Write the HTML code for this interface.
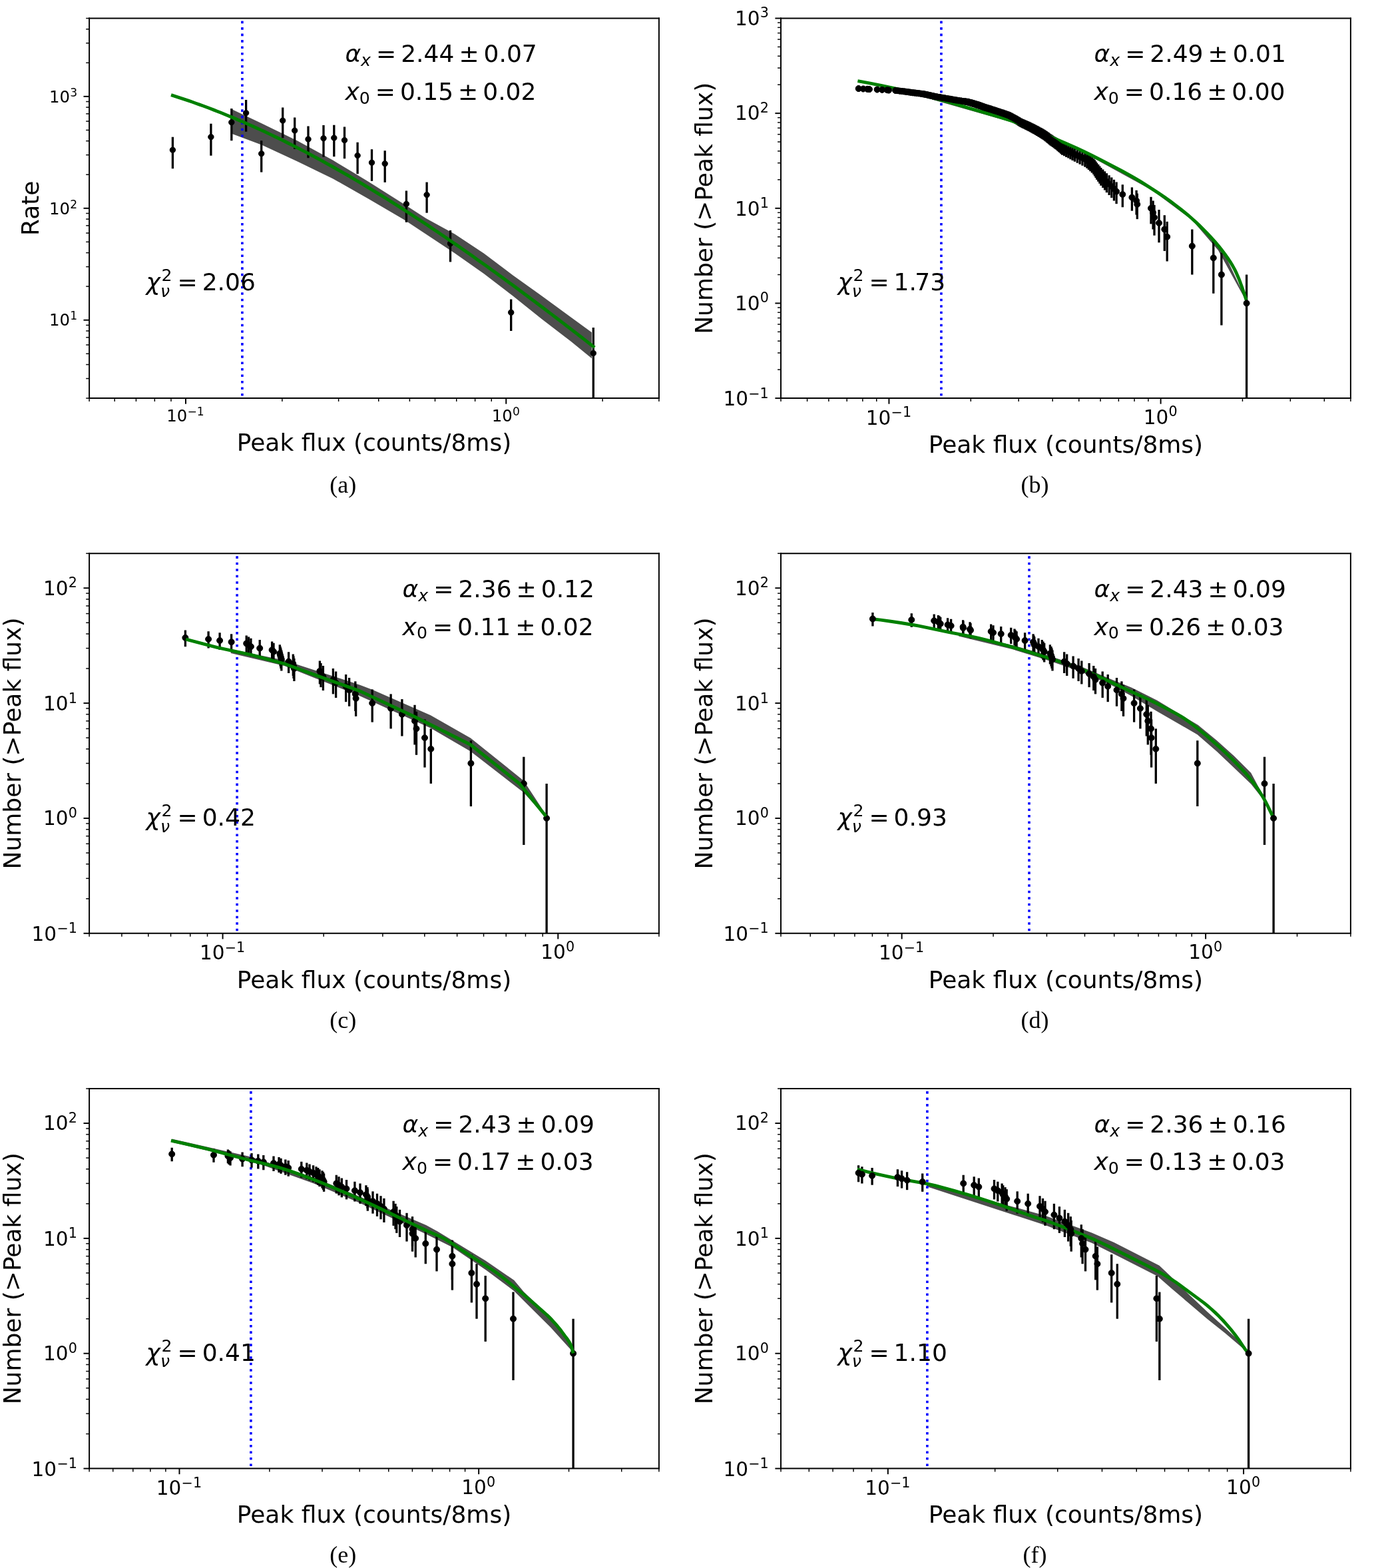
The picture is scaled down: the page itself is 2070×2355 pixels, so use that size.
<!DOCTYPE html>
<html><head><meta charset="utf-8"><title>Figure</title><style>html,body{margin:0;padding:0;background:#fff;}svg{display:block;}</style></head><body>
<svg xmlns:xlink="http://www.w3.org/1999/xlink" width="2070" height="2355" viewBox="0 0 2070 2355" xmlns="http://www.w3.org/2000/svg" version="1.1">
 
 <defs>
  <style type="text/css">*{stroke-linejoin: round; stroke-linecap: butt}</style>
 </defs>
 <g id="figure_1">
  <g id="patch_1">
   <path d="M 0 2355 
L 2070 2355 
L 2070 0 
L 0 0 
z
" style="fill: #ffffff"/>
  </g>
  <g id="axes_1">
   <g id="patch_2">
    <path d="M 134.1 598.1 
L 989.9 598.1 
L 989.9 27.5 
L 134.1 27.5 
z
" style="fill: #ffffff"/>
   </g>
   <g id="patch_3">
    <path d="M 348 163.9 
L 393.4 185.6 
L 446.8 211.4 
L 500.3 240.8 
L 553.7 272.9 
L 607.1 306.7 
L 640 328 
L 683.4 351.7 
L 726.8 380.6 
L 770.2 413.2 
L 813.6 444.3 
L 857 476.1 
L 888.9 499.3 
L 888.9 538.3 
L 857 512.3 
L 813.6 479 
L 770.2 444.3 
L 726.8 411 
L 683.4 380.6 
L 640 351.7 
L 607.1 329.9 
L 553.7 298.7 
L 500.3 268.4 
L 446.8 242.6 
L 393.4 217.7 
L 348 200.8 
z
" clip-path="url(#p03a6a565fb)" style="fill: #4d4d4d"/>
   </g>
   <g id="line2d_1">
    <path d="M 363.9 27.5 
L 363.9 598.1 
" clip-path="url(#p03a6a565fb)" style="fill: none; stroke-dasharray: 3.57,5.91; stroke-dashoffset: 5.365; stroke: #0000ff; stroke-width: 3.57"/>
   </g>
   <g id="matplotlib.axis_1">
    <g id="xtick_1">
     <g id="line2d_2">
      
      <g>
       <path d="M 278.98 598.10 L 278.98 606.70" style="stroke: #000000; stroke-width: 1.97"/>
      </g>
     </g>
     <g id="text_1">
      <!-- $\mathdefault{10^{-1}}$ -->
      <g transform="translate(250.311641 633.840187)">
       <text>
        <tspan x="0" y="-0.5625" style="font-size: 24.4px; font-family: 'DejaVu Sans'">1</tspan>
        <tspan x="15.508118" y="-0.5625" style="font-size: 24.4px; font-family: 'DejaVu Sans'">0</tspan>
        <tspan x="31.245923" y="-9.75" style="font-size: 17.08px; font-family: 'DejaVu Sans'">−</tspan>
        <tspan x="45.542432" y="-9.75" style="font-size: 17.08px; font-family: 'DejaVu Sans'">1</tspan>
       </text>
      </g>
     </g>
    </g>
    <g id="xtick_2">
     <g id="line2d_3">
      <g>
       <path d="M 760.27 598.10 L 760.27 606.70" style="stroke: #000000; stroke-width: 1.97"/>
      </g>
     </g>
     <g id="text_2">
      <!-- $\mathdefault{10^{0}}$ -->
      <g transform="translate(738.796033 633.840187)">
       <text>
        <tspan x="0" y="-0.34375" style="font-size: 24.4px; font-family: 'DejaVu Sans'">1</tspan>
        <tspan x="15.508118" y="-0.34375" style="font-size: 24.4px; font-family: 'DejaVu Sans'">0</tspan>
        <tspan x="31.245923" y="-9.53125" style="font-size: 17.08px; font-family: 'DejaVu Sans'">0</tspan>
       </text>
      </g>
     </g>
    </g>
    <g id="xtick_3">
     <g id="line2d_4">
      
      <g>
       <path d="M 134.10 598.10 L 134.10 603.00" style="stroke: #000000; stroke-width: 1.48"/>
      </g>
     </g>
    </g>
    <g id="xtick_4">
     <g id="line2d_5">
      <g>
       <path d="M 172.21 598.10 L 172.21 603.00" style="stroke: #000000; stroke-width: 1.48"/>
      </g>
     </g>
    </g>
    <g id="xtick_5">
     <g id="line2d_6">
      <g>
       <path d="M 204.43 598.10 L 204.43 603.00" style="stroke: #000000; stroke-width: 1.48"/>
      </g>
     </g>
    </g>
    <g id="xtick_6">
     <g id="line2d_7">
      <g>
       <path d="M 232.34 598.10 L 232.34 603.00" style="stroke: #000000; stroke-width: 1.48"/>
      </g>
     </g>
    </g>
    <g id="xtick_7">
     <g id="line2d_8">
      <g>
       <path d="M 256.96 598.10 L 256.96 603.00" style="stroke: #000000; stroke-width: 1.48"/>
      </g>
     </g>
    </g>
    <g id="xtick_8">
     <g id="line2d_9">
      <g>
       <path d="M 423.86 598.10 L 423.86 603.00" style="stroke: #000000; stroke-width: 1.48"/>
      </g>
     </g>
    </g>
    <g id="xtick_9">
     <g id="line2d_10">
      <g>
       <path d="M 508.61 598.10 L 508.61 603.00" style="stroke: #000000; stroke-width: 1.48"/>
      </g>
     </g>
    </g>
    <g id="xtick_10">
     <g id="line2d_11">
      <g>
       <path d="M 568.74 598.10 L 568.74 603.00" style="stroke: #000000; stroke-width: 1.48"/>
      </g>
     </g>
    </g>
    <g id="xtick_11">
     <g id="line2d_12">
      <g>
       <path d="M 615.39 598.10 L 615.39 603.00" style="stroke: #000000; stroke-width: 1.48"/>
      </g>
     </g>
    </g>
    <g id="xtick_12">
     <g id="line2d_13">
      <g>
       <path d="M 653.50 598.10 L 653.50 603.00" style="stroke: #000000; stroke-width: 1.48"/>
      </g>
     </g>
    </g>
    <g id="xtick_13">
     <g id="line2d_14">
      <g>
       <path d="M 685.72 598.10 L 685.72 603.00" style="stroke: #000000; stroke-width: 1.48"/>
      </g>
     </g>
    </g>
    <g id="xtick_14">
     <g id="line2d_15">
      <g>
       <path d="M 713.63 598.10 L 713.63 603.00" style="stroke: #000000; stroke-width: 1.48"/>
      </g>
     </g>
    </g>
    <g id="xtick_15">
     <g id="line2d_16">
      <g>
       <path d="M 738.25 598.10 L 738.25 603.00" style="stroke: #000000; stroke-width: 1.48"/>
      </g>
     </g>
    </g>
    <g id="xtick_16">
     <g id="line2d_17">
      <g>
       <path d="M 905.15 598.10 L 905.15 603.00" style="stroke: #000000; stroke-width: 1.48"/>
      </g>
     </g>
    </g>
    <g id="xtick_17">
     <g id="line2d_18">
      <g>
       <path d="M 989.90 598.10 L 989.90 603.00" style="stroke: #000000; stroke-width: 1.48"/>
      </g>
     </g>
    </g>
    <g id="text_3">
     <text style="font-size: 36px; font-family: 'DejaVu Sans'; text-anchor: middle" x="562" y="677.369" transform="rotate(-0 562 677.369)">Peak flux (counts/8ms)</text>
    </g>
   </g>
   <g id="matplotlib.axis_2">
    <g id="ytick_1">
     <g id="line2d_19">
      
      <g>
       <path d="M 134.10 480.73 L 125.50 480.73" style="stroke: #000000; stroke-width: 1.97"/>
      </g>
     </g>
     <g id="text_4">
      <!-- $\mathdefault{10^{1}}$ -->
      <g transform="translate(73.956 489.995366)">
       <text>
        <tspan x="0" y="-0.5625" style="font-size: 24.4px; font-family: 'DejaVu Sans'">1</tspan>
        <tspan x="15.508118" y="-0.5625" style="font-size: 24.4px; font-family: 'DejaVu Sans'">0</tspan>
        <tspan x="31.245923" y="-9.75" style="font-size: 17.08px; font-family: 'DejaVu Sans'">1</tspan>
       </text>
      </g>
     </g>
    </g>
    <g id="ytick_2">
     <g id="line2d_20">
      <g>
       <path d="M 134.10 312.80 L 125.50 312.80" style="stroke: #000000; stroke-width: 1.97"/>
      </g>
     </g>
     <g id="text_5">
      <!-- $\mathdefault{10^{2}}$ -->
      <g transform="translate(73.956 322.070094)">
       <text>
        <tspan x="0" y="-0.34375" style="font-size: 24.4px; font-family: 'DejaVu Sans'">1</tspan>
        <tspan x="15.508118" y="-0.34375" style="font-size: 24.4px; font-family: 'DejaVu Sans'">0</tspan>
        <tspan x="31.245923" y="-9.53125" style="font-size: 17.08px; font-family: 'DejaVu Sans'">2</tspan>
       </text>
      </g>
     </g>
    </g>
    <g id="ytick_3">
     <g id="line2d_21">
      <g>
       <path d="M 134.10 144.87 L 125.50 144.87" style="stroke: #000000; stroke-width: 1.97"/>
      </g>
     </g>
     <g id="text_6">
      <!-- $\mathdefault{10^{3}}$ -->
      <g transform="translate(73.956 154.144822)">
       <text>
        <tspan x="0" y="-0.34375" style="font-size: 24.4px; font-family: 'DejaVu Sans'">1</tspan>
        <tspan x="15.508118" y="-0.34375" style="font-size: 24.4px; font-family: 'DejaVu Sans'">0</tspan>
        <tspan x="31.245923" y="-9.53125" style="font-size: 17.08px; font-family: 'DejaVu Sans'">3</tspan>
       </text>
      </g>
     </g>
    </g>
    <g id="ytick_4">
     <g id="line2d_22">
      
      <g>
       <path d="M 134.10 598.10 L 129.20 598.10" style="stroke: #000000; stroke-width: 1.48"/>
      </g>
     </g>
    </g>
    <g id="ytick_5">
     <g id="line2d_23">
      <g>
       <path d="M 134.10 568.53 L 129.20 568.53" style="stroke: #000000; stroke-width: 1.48"/>
      </g>
     </g>
    </g>
    <g id="ytick_6">
     <g id="line2d_24">
      <g>
       <path d="M 134.10 547.55 L 129.20 547.55" style="stroke: #000000; stroke-width: 1.48"/>
      </g>
     </g>
    </g>
    <g id="ytick_7">
     <g id="line2d_25">
      <g>
       <path d="M 134.10 531.28 L 129.20 531.28" style="stroke: #000000; stroke-width: 1.48"/>
      </g>
     </g>
    </g>
    <g id="ytick_8">
     <g id="line2d_26">
      <g>
       <path d="M 134.10 517.98 L 129.20 517.98" style="stroke: #000000; stroke-width: 1.48"/>
      </g>
     </g>
    </g>
    <g id="ytick_9">
     <g id="line2d_27">
      <g>
       <path d="M 134.10 506.74 L 129.20 506.74" style="stroke: #000000; stroke-width: 1.48"/>
      </g>
     </g>
    </g>
    <g id="ytick_10">
     <g id="line2d_28">
      <g>
       <path d="M 134.10 497.00 L 129.20 497.00" style="stroke: #000000; stroke-width: 1.48"/>
      </g>
     </g>
    </g>
    <g id="ytick_11">
     <g id="line2d_29">
      <g>
       <path d="M 134.10 488.41 L 129.20 488.41" style="stroke: #000000; stroke-width: 1.48"/>
      </g>
     </g>
    </g>
    <g id="ytick_12">
     <g id="line2d_30">
      <g>
       <path d="M 134.10 430.17 L 129.20 430.17" style="stroke: #000000; stroke-width: 1.48"/>
      </g>
     </g>
    </g>
    <g id="ytick_13">
     <g id="line2d_31">
      <g>
       <path d="M 134.10 400.60 L 129.20 400.60" style="stroke: #000000; stroke-width: 1.48"/>
      </g>
     </g>
    </g>
    <g id="ytick_14">
     <g id="line2d_32">
      <g>
       <path d="M 134.10 379.62 L 129.20 379.62" style="stroke: #000000; stroke-width: 1.48"/>
      </g>
     </g>
    </g>
    <g id="ytick_15">
     <g id="line2d_33">
      <g>
       <path d="M 134.10 363.35 L 129.20 363.35" style="stroke: #000000; stroke-width: 1.48"/>
      </g>
     </g>
    </g>
    <g id="ytick_16">
     <g id="line2d_34">
      <g>
       <path d="M 134.10 350.05 L 129.20 350.05" style="stroke: #000000; stroke-width: 1.48"/>
      </g>
     </g>
    </g>
    <g id="ytick_17">
     <g id="line2d_35">
      <g>
       <path d="M 134.10 338.81 L 129.20 338.81" style="stroke: #000000; stroke-width: 1.48"/>
      </g>
     </g>
    </g>
    <g id="ytick_18">
     <g id="line2d_36">
      <g>
       <path d="M 134.10 329.07 L 129.20 329.07" style="stroke: #000000; stroke-width: 1.48"/>
      </g>
     </g>
    </g>
    <g id="ytick_19">
     <g id="line2d_37">
      <g>
       <path d="M 134.10 320.48 L 129.20 320.48" style="stroke: #000000; stroke-width: 1.48"/>
      </g>
     </g>
    </g>
    <g id="ytick_20">
     <g id="line2d_38">
      <g>
       <path d="M 134.10 262.25 L 129.20 262.25" style="stroke: #000000; stroke-width: 1.48"/>
      </g>
     </g>
    </g>
    <g id="ytick_21">
     <g id="line2d_39">
      <g>
       <path d="M 134.10 232.68 L 129.20 232.68" style="stroke: #000000; stroke-width: 1.48"/>
      </g>
     </g>
    </g>
    <g id="ytick_22">
     <g id="line2d_40">
      <g>
       <path d="M 134.10 211.70 L 129.20 211.70" style="stroke: #000000; stroke-width: 1.48"/>
      </g>
     </g>
    </g>
    <g id="ytick_23">
     <g id="line2d_41">
      <g>
       <path d="M 134.10 195.43 L 129.20 195.43" style="stroke: #000000; stroke-width: 1.48"/>
      </g>
     </g>
    </g>
    <g id="ytick_24">
     <g id="line2d_42">
      <g>
       <path d="M 134.10 182.13 L 129.20 182.13" style="stroke: #000000; stroke-width: 1.48"/>
      </g>
     </g>
    </g>
    <g id="ytick_25">
     <g id="line2d_43">
      <g>
       <path d="M 134.10 170.89 L 129.20 170.89" style="stroke: #000000; stroke-width: 1.48"/>
      </g>
     </g>
    </g>
    <g id="ytick_26">
     <g id="line2d_44">
      <g>
       <path d="M 134.10 161.15 L 129.20 161.15" style="stroke: #000000; stroke-width: 1.48"/>
      </g>
     </g>
    </g>
    <g id="ytick_27">
     <g id="line2d_45">
      <g>
       <path d="M 134.10 152.56 L 129.20 152.56" style="stroke: #000000; stroke-width: 1.48"/>
      </g>
     </g>
    </g>
    <g id="ytick_28">
     <g id="line2d_46">
      <g>
       <path d="M 134.10 94.32 L 129.20 94.32" style="stroke: #000000; stroke-width: 1.48"/>
      </g>
     </g>
    </g>
    <g id="ytick_29">
     <g id="line2d_47">
      <g>
       <path d="M 134.10 64.75 L 129.20 64.75" style="stroke: #000000; stroke-width: 1.48"/>
      </g>
     </g>
    </g>
    <g id="ytick_30">
     <g id="line2d_48">
      <g>
       <path d="M 134.10 43.77 L 129.20 43.77" style="stroke: #000000; stroke-width: 1.48"/>
      </g>
     </g>
    </g>
    <g id="ytick_31">
     <g id="line2d_49">
      <g>
       <path d="M 134.10 27.50 L 129.20 27.50" style="stroke: #000000; stroke-width: 1.48"/>
      </g>
     </g>
    </g>
    <g id="text_7">
     <text style="font-size: 36px; font-family: 'DejaVu Sans'; text-anchor: middle" x="57.869125" y="312.8" transform="rotate(-90 57.869125 312.8)">Rate</text>
    </g>
   </g>
   <g id="LineCollection_1">
    <path d="M 259.4 253.2 
L 259.4 205.7 
" clip-path="url(#p03a6a565fb)" style="fill: none; stroke: #000000; stroke-width: 3.3"/>
    <path d="M 316.9 233.8 
L 316.9 185.7 
" clip-path="url(#p03a6a565fb)" style="fill: none; stroke: #000000; stroke-width: 3.3"/>
    <path d="M 347.8 211.2 
L 347.8 163.1 
" clip-path="url(#p03a6a565fb)" style="fill: none; stroke: #000000; stroke-width: 3.3"/>
    <path d="M 369.6 197.7 
L 369.6 150 
" clip-path="url(#p03a6a565fb)" style="fill: none; stroke: #000000; stroke-width: 3.3"/>
    <path d="M 392.7 258.6 
L 392.7 211.2 
" clip-path="url(#p03a6a565fb)" style="fill: none; stroke: #000000; stroke-width: 3.3"/>
    <path d="M 424.7 207.2 
L 424.7 161.5 
" clip-path="url(#p03a6a565fb)" style="fill: none; stroke: #000000; stroke-width: 3.3"/>
    <path d="M 442.7 223.8 
L 442.7 176.5 
" clip-path="url(#p03a6a565fb)" style="fill: none; stroke: #000000; stroke-width: 3.3"/>
    <path d="M 463 237.2 
L 463 189.5 
" clip-path="url(#p03a6a565fb)" style="fill: none; stroke: #000000; stroke-width: 3.3"/>
    <path d="M 486 235.8 
L 486 188.1 
" clip-path="url(#p03a6a565fb)" style="fill: none; stroke: #000000; stroke-width: 3.3"/>
    <path d="M 501.8 235.2 
L 501.8 187.7 
" clip-path="url(#p03a6a565fb)" style="fill: none; stroke: #000000; stroke-width: 3.3"/>
    <path d="M 517.5 238.2 
L 517.5 190.5 
" clip-path="url(#p03a6a565fb)" style="fill: none; stroke: #000000; stroke-width: 3.3"/>
    <path d="M 537.1 261.2 
L 537.1 213.8 
" clip-path="url(#p03a6a565fb)" style="fill: none; stroke: #000000; stroke-width: 3.3"/>
    <path d="M 558.5 271.9 
L 558.5 224.2 
" clip-path="url(#p03a6a565fb)" style="fill: none; stroke: #000000; stroke-width: 3.3"/>
    <path d="M 578.2 273.9 
L 578.2 226.2 
" clip-path="url(#p03a6a565fb)" style="fill: none; stroke: #000000; stroke-width: 3.3"/>
    <path d="M 610.4 333.8 
L 610.4 286.5 
" clip-path="url(#p03a6a565fb)" style="fill: none; stroke: #000000; stroke-width: 3.3"/>
    <path d="M 641.1 319.7 
L 641.1 273.6 
" clip-path="url(#p03a6a565fb)" style="fill: none; stroke: #000000; stroke-width: 3.3"/>
    <path d="M 676.5 393.4 
L 676.5 345.9 
" clip-path="url(#p03a6a565fb)" style="fill: none; stroke: #000000; stroke-width: 3.3"/>
    <path d="M 767.7 496.9 
L 767.7 449.4 
" clip-path="url(#p03a6a565fb)" style="fill: none; stroke: #000000; stroke-width: 3.3"/>
    <path d="M 891.3 610 
L 891.3 492 
" clip-path="url(#p03a6a565fb)" style="fill: none; stroke: #000000; stroke-width: 3.3"/>
   </g>
   <g id="line2d_50">
    
    <g clip-path="url(#p03a6a565fb)">
     <circle cx="259.40" cy="225.20" r="4.200" style="stroke: #000000"/>
     <circle cx="316.90" cy="205.70" r="4.200" style="stroke: #000000"/>
     <circle cx="347.80" cy="183.70" r="4.200" style="stroke: #000000"/>
     <circle cx="369.60" cy="169.70" r="4.200" style="stroke: #000000"/>
     <circle cx="392.70" cy="230.80" r="4.200" style="stroke: #000000"/>
     <circle cx="424.70" cy="181.10" r="4.200" style="stroke: #000000"/>
     <circle cx="442.70" cy="196.10" r="4.200" style="stroke: #000000"/>
     <circle cx="463.00" cy="209.10" r="4.200" style="stroke: #000000"/>
     <circle cx="486.00" cy="207.70" r="4.200" style="stroke: #000000"/>
     <circle cx="501.80" cy="207.10" r="4.200" style="stroke: #000000"/>
     <circle cx="517.50" cy="210.60" r="4.200" style="stroke: #000000"/>
     <circle cx="537.10" cy="233.60" r="4.200" style="stroke: #000000"/>
     <circle cx="558.50" cy="244.20" r="4.200" style="stroke: #000000"/>
     <circle cx="578.20" cy="245.80" r="4.200" style="stroke: #000000"/>
     <circle cx="610.40" cy="306.40" r="4.200" style="stroke: #000000"/>
     <circle cx="641.10" cy="292.60" r="4.200" style="stroke: #000000"/>
     <circle cx="676.50" cy="365.80" r="4.200" style="stroke: #000000"/>
     <circle cx="767.70" cy="469.30" r="4.200" style="stroke: #000000"/>
     <circle cx="891.30" cy="530.50" r="4.200" style="stroke: #000000"/>
    </g>
   </g>
   <g id="line2d_51">
    <path d="M 257 142.634455 
L 262.346218 144.327232 
L 267.692437 146.053907 
L 273.038655 147.81426 
L 278.384874 149.608073 
L 283.731092 151.435125 
L 289.077311 153.295196 
L 294.423529 155.188068 
L 299.769748 157.113521 
L 305.115966 159.071334 
L 310.462185 161.061288 
L 315.808403 163.083164 
L 321.154622 165.136742 
L 326.50084 167.221801 
L 331.847059 169.338124 
L 337.193277 171.485489 
L 342.539496 173.663677 
L 347.885714 175.872469 
L 353.231933 178.111645 
L 358.578151 180.380986 
L 363.92437 182.68027 
L 369.270588 185.00928 
L 374.616807 187.367795 
L 379.963025 189.755596 
L 385.309244 192.172462 
L 390.655462 194.618175 
L 396.001681 197.092515 
L 401.347899 199.595262 
L 406.694118 202.126196 
L 412.040336 204.685098 
L 417.386555 207.271747 
L 422.732773 209.885926 
L 428.078992 212.527413 
L 433.42521 215.195989 
L 438.771429 217.891434 
L 444.117647 220.61353 
L 449.463866 223.362055 
L 454.810084 226.136791 
L 460.156303 228.937518 
L 465.502521 231.764015 
L 470.848739 234.616065 
L 476.194958 237.493446 
L 481.541176 240.39594 
L 486.887395 243.323326 
L 492.233613 246.275384 
L 497.579832 249.251897 
L 502.92605 252.252642 
L 508.272269 255.277402 
L 513.618487 258.325956 
L 518.964706 261.398084 
L 524.310924 264.493568 
L 529.657143 267.612187 
L 535.003361 270.753721 
L 540.34958 273.917952 
L 545.695798 277.104658 
L 551.042017 280.313622 
L 556.388235 283.544622 
L 561.734454 286.79744 
L 567.080672 290.071856 
L 572.426891 293.36765 
L 577.773109 296.684602 
L 583.119328 300.022493 
L 588.465546 303.381103 
L 593.811765 306.760212 
L 599.157983 310.159601 
L 604.504202 313.579051 
L 609.85042 317.01834 
L 615.196639 320.477251 
L 620.542857 323.955563 
L 625.889076 327.453056 
L 631.235294 330.969512 
L 636.581513 334.504709 
L 641.927731 338.058429 
L 647.27395 341.630452 
L 652.620168 345.220558 
L 657.966387 348.828528 
L 663.312605 352.454142 
L 668.658824 356.09718 
L 674.005042 359.757423 
L 679.351261 363.43465 
L 684.697479 367.128643 
L 690.043697 370.839182 
L 695.389916 374.566047 
L 700.736134 378.309018 
L 706.082353 382.067875 
L 711.428571 385.8424 
L 716.77479 389.632372 
L 722.121008 393.437572 
L 727.467227 397.25778 
L 732.813445 401.092777 
L 738.159664 404.942342 
L 743.505882 408.806256 
L 748.852101 412.6843 
L 754.198319 416.576254 
L 759.544538 420.481897 
L 764.890756 424.401012 
L 770.236975 428.333377 
L 775.583193 432.278773 
L 780.929412 436.236981 
L 786.27563 440.207781 
L 791.621849 444.190953 
L 796.968067 448.186277 
L 802.314286 452.193535 
L 807.660504 456.212505 
L 813.006723 460.24297 
L 818.352941 464.284708 
L 823.69916 468.337501 
L 829.045378 472.401128 
L 834.391597 476.47537 
L 839.737815 480.560008 
L 845.084034 484.654821 
L 850.430252 488.75959 
L 855.776471 492.874096 
L 861.122689 496.998118 
L 866.468908 501.131438 
L 871.815126 505.273835 
L 877.161345 509.425089 
L 882.507563 513.584982 
L 887.853782 517.753293 
L 893.2 521.929803 
" clip-path="url(#p03a6a565fb)" style="fill: none; stroke: #008000; stroke-width: 4.9"/>
   </g>
   <g id="patch_4">
    <path d="M 134.1 598.1 
L 134.1 27.5 
" style="fill: none; stroke: #000000; stroke-width: 1.97; stroke-linejoin: miter; stroke-linecap: square"/>
   </g>
   <g id="patch_5">
    <path d="M 989.9 598.1 
L 989.9 27.5 
" style="fill: none; stroke: #000000; stroke-width: 1.97; stroke-linejoin: miter; stroke-linecap: square"/>
   </g>
   <g id="patch_6">
    <path d="M 134.1 598.1 
L 989.9 598.1 
" style="fill: none; stroke: #000000; stroke-width: 1.97; stroke-linejoin: miter; stroke-linecap: square"/>
   </g>
   <g id="patch_7">
    <path d="M 134.1 27.5 
L 989.9 27.5 
" style="fill: none; stroke: #000000; stroke-width: 1.97; stroke-linejoin: miter; stroke-linecap: square"/>
   </g>
  </g>
  <g id="axes_2">
   <g id="patch_8">
    <path d="M 1173 598.1 
L 2028.9 598.1 
L 2028.9 27.5 
L 1173 27.5 
z
" style="fill: #ffffff"/>
   </g>
   <g id="patch_9">
    <path d="M 1400 145.5 
L 1520.4 179.8 
L 1625.7 224.3 
L 1731 281.9 
L 1790.8 326.5 
L 1837.7 377.6 
L 1872.1 450.6 
L 1872.1 452.6 
L 1830 376 
L 1790.8 330.5 
L 1731 285.9 
L 1625.7 228.3 
L 1520.4 183.8 
L 1400 149.5 
z
" clip-path="url(#p9560903c2c)" style="fill: #4d4d4d"/>
   </g>
   <g id="line2d_52">
    <path d="M 1413.95 27.5 
L 1413.95 598.1 
" clip-path="url(#p9560903c2c)" style="fill: none; stroke-dasharray: 3.57,5.91; stroke-dashoffset: 5.365; stroke: #0000ff; stroke-width: 3.57"/>
   </g>
   <g id="matplotlib.axis_3">
    <g id="xtick_18">
     <g id="line2d_53">
      <g>
       <path d="M 1335.43 598.10 L 1335.43 606.70" style="stroke: #000000; stroke-width: 1.97"/>
      </g>
     </g>
     <g id="text_8">
      <!-- $\mathdefault{10^{-1}}$ -->
      <g transform="translate(1300.765478 637.715391)">
       <text>
        <tspan x="0" y="-0.203125" style="font-size: 29.5px; font-family: 'DejaVu Sans'">1</tspan>
        <tspan x="18.768799" y="-0.203125" style="font-size: 29.5px; font-family: 'DejaVu Sans'">0</tspan>
        <tspan x="37.824707" y="-11.6875" style="font-size: 20.65px; font-family: 'DejaVu Sans'">−</tspan>
        <tspan x="55.127148" y="-11.6875" style="font-size: 20.65px; font-family: 'DejaVu Sans'">1</tspan>
       </text>
      </g>
     </g>
    </g>
    <g id="xtick_19">
     <g id="line2d_54">
      <g>
       <path d="M 1743.60 598.10 L 1743.60 606.70" style="stroke: #000000; stroke-width: 1.97"/>
      </g>
     </g>
     <g id="text_9">
      <!-- $\mathdefault{10^{0}}$ -->
      <g transform="translate(1717.64 637.715391)">
       <text>
        <tspan x="0" y="-0.929688" style="font-size: 29.5px; font-family: 'DejaVu Sans'">1</tspan>
        <tspan x="18.768799" y="-0.929688" style="font-size: 29.5px; font-family: 'DejaVu Sans'">0</tspan>
        <tspan x="37.824707" y="-12.414062" style="font-size: 20.65px; font-family: 'DejaVu Sans'">0</tspan>
       </text>
      </g>
     </g>
    </g>
    <g id="xtick_20">
     <g id="line2d_55">
      <g>
       <path d="M 1173.00 598.10 L 1173.00 603.00" style="stroke: #000000; stroke-width: 1.48"/>
      </g>
     </g>
    </g>
    <g id="xtick_21">
     <g id="line2d_56">
      <g>
       <path d="M 1212.56 598.10 L 1212.56 603.00" style="stroke: #000000; stroke-width: 1.48"/>
      </g>
     </g>
    </g>
    <g id="xtick_22">
     <g id="line2d_57">
      <g>
       <path d="M 1244.88 598.10 L 1244.88 603.00" style="stroke: #000000; stroke-width: 1.48"/>
      </g>
     </g>
    </g>
    <g id="xtick_23">
     <g id="line2d_58">
      <g>
       <path d="M 1272.20 598.10 L 1272.20 603.00" style="stroke: #000000; stroke-width: 1.48"/>
      </g>
     </g>
    </g>
    <g id="xtick_24">
     <g id="line2d_59">
      <g>
       <path d="M 1295.87 598.10 L 1295.87 603.00" style="stroke: #000000; stroke-width: 1.48"/>
      </g>
     </g>
    </g>
    <g id="xtick_25">
     <g id="line2d_60">
      <g>
       <path d="M 1316.75 598.10 L 1316.75 603.00" style="stroke: #000000; stroke-width: 1.48"/>
      </g>
     </g>
    </g>
    <g id="xtick_26">
     <g id="line2d_61">
      <g>
       <path d="M 1458.30 598.10 L 1458.30 603.00" style="stroke: #000000; stroke-width: 1.48"/>
      </g>
     </g>
    </g>
    <g id="xtick_27">
     <g id="line2d_62">
      <g>
       <path d="M 1530.18 598.10 L 1530.18 603.00" style="stroke: #000000; stroke-width: 1.48"/>
      </g>
     </g>
    </g>
    <g id="xtick_28">
     <g id="line2d_63">
      <g>
       <path d="M 1581.17 598.10 L 1581.17 603.00" style="stroke: #000000; stroke-width: 1.48"/>
      </g>
     </g>
    </g>
    <g id="xtick_29">
     <g id="line2d_64">
      <g>
       <path d="M 1620.73 598.10 L 1620.73 603.00" style="stroke: #000000; stroke-width: 1.48"/>
      </g>
     </g>
    </g>
    <g id="xtick_30">
     <g id="line2d_65">
      <g>
       <path d="M 1653.05 598.10 L 1653.05 603.00" style="stroke: #000000; stroke-width: 1.48"/>
      </g>
     </g>
    </g>
    <g id="xtick_31">
     <g id="line2d_66">
      <g>
       <path d="M 1680.37 598.10 L 1680.37 603.00" style="stroke: #000000; stroke-width: 1.48"/>
      </g>
     </g>
    </g>
    <g id="xtick_32">
     <g id="line2d_67">
      <g>
       <path d="M 1704.04 598.10 L 1704.04 603.00" style="stroke: #000000; stroke-width: 1.48"/>
      </g>
     </g>
    </g>
    <g id="xtick_33">
     <g id="line2d_68">
      <g>
       <path d="M 1724.92 598.10 L 1724.92 603.00" style="stroke: #000000; stroke-width: 1.48"/>
      </g>
     </g>
    </g>
    <g id="xtick_34">
     <g id="line2d_69">
      <g>
       <path d="M 1866.47 598.10 L 1866.47 603.00" style="stroke: #000000; stroke-width: 1.48"/>
      </g>
     </g>
    </g>
    <g id="xtick_35">
     <g id="line2d_70">
      <g>
       <path d="M 1938.35 598.10 L 1938.35 603.00" style="stroke: #000000; stroke-width: 1.48"/>
      </g>
     </g>
    </g>
    <g id="xtick_36">
     <g id="line2d_71">
      <g>
       <path d="M 1989.34 598.10 L 1989.34 603.00" style="stroke: #000000; stroke-width: 1.48"/>
      </g>
     </g>
    </g>
    <g id="xtick_37">
     <g id="line2d_72">
      <g>
       <path d="M 2028.90 598.10 L 2028.90 603.00" style="stroke: #000000; stroke-width: 1.48"/>
      </g>
     </g>
    </g>
    <g id="text_10">
     <text style="font-size: 36px; font-family: 'DejaVu Sans'; text-anchor: middle" x="1600.95" y="679.804844" transform="rotate(-0 1600.95 679.804844)">Peak flux (counts/8ms)</text>
    </g>
   </g>
   <g id="matplotlib.axis_4">
    <g id="ytick_32">
     <g id="line2d_73">
      <g>
       <path d="M 1173.00 598.10 L 1164.40 598.10" style="stroke: #000000; stroke-width: 1.97"/>
      </g>
     </g>
     <g id="text_11">
      <!-- $\mathdefault{10^{-1}}$ -->
      <g transform="translate(1086.475 609.307695)">
       <text>
        <tspan x="0" y="-0.203125" style="font-size: 29.5px; font-family: 'DejaVu Sans'">1</tspan>
        <tspan x="18.768799" y="-0.203125" style="font-size: 29.5px; font-family: 'DejaVu Sans'">0</tspan>
        <tspan x="37.824707" y="-11.6875" style="font-size: 20.65px; font-family: 'DejaVu Sans'">−</tspan>
        <tspan x="55.127148" y="-11.6875" style="font-size: 20.65px; font-family: 'DejaVu Sans'">1</tspan>
       </text>
      </g>
     </g>
    </g>
    <g id="ytick_33">
     <g id="line2d_74">
      <g>
       <path d="M 1173.00 455.45 L 1164.40 455.45" style="stroke: #000000; stroke-width: 1.97"/>
      </g>
     </g>
     <g id="text_12">
      <!-- $\mathdefault{10^{0}}$ -->
      <g transform="translate(1103.88 466.657695)">
       <text>
        <tspan x="0" y="-0.929688" style="font-size: 29.5px; font-family: 'DejaVu Sans'">1</tspan>
        <tspan x="18.768799" y="-0.929688" style="font-size: 29.5px; font-family: 'DejaVu Sans'">0</tspan>
        <tspan x="37.824707" y="-12.414062" style="font-size: 20.65px; font-family: 'DejaVu Sans'">0</tspan>
       </text>
      </g>
     </g>
    </g>
    <g id="ytick_34">
     <g id="line2d_75">
      <g>
       <path d="M 1173.00 312.80 L 1164.40 312.80" style="stroke: #000000; stroke-width: 1.97"/>
      </g>
     </g>
     <g id="text_13">
      <!-- $\mathdefault{10^{1}}$ -->
      <g transform="translate(1103.88 324.007695)">
       <text>
        <tspan x="0" y="-0.203125" style="font-size: 29.5px; font-family: 'DejaVu Sans'">1</tspan>
        <tspan x="18.768799" y="-0.203125" style="font-size: 29.5px; font-family: 'DejaVu Sans'">0</tspan>
        <tspan x="37.824707" y="-11.6875" style="font-size: 20.65px; font-family: 'DejaVu Sans'">1</tspan>
       </text>
      </g>
     </g>
    </g>
    <g id="ytick_35">
     <g id="line2d_76">
      <g>
       <path d="M 1173.00 170.15 L 1164.40 170.15" style="stroke: #000000; stroke-width: 1.97"/>
      </g>
     </g>
     <g id="text_14">
      <!-- $\mathdefault{10^{2}}$ -->
      <g transform="translate(1103.88 181.357695)">
       <text>
        <tspan x="0" y="-0.929688" style="font-size: 29.5px; font-family: 'DejaVu Sans'">1</tspan>
        <tspan x="18.768799" y="-0.929688" style="font-size: 29.5px; font-family: 'DejaVu Sans'">0</tspan>
        <tspan x="37.824707" y="-12.414062" style="font-size: 20.65px; font-family: 'DejaVu Sans'">2</tspan>
       </text>
      </g>
     </g>
    </g>
    <g id="ytick_36">
     <g id="line2d_77">
      <g>
       <path d="M 1173.00 27.50 L 1164.40 27.50" style="stroke: #000000; stroke-width: 1.97"/>
      </g>
     </g>
     <g id="text_15">
      <!-- $\mathdefault{10^{3}}$ -->
      <g transform="translate(1103.88 38.707695)">
       <text>
        <tspan x="0" y="-0.929688" style="font-size: 29.5px; font-family: 'DejaVu Sans'">1</tspan>
        <tspan x="18.768799" y="-0.929688" style="font-size: 29.5px; font-family: 'DejaVu Sans'">0</tspan>
        <tspan x="37.824707" y="-12.414062" style="font-size: 20.65px; font-family: 'DejaVu Sans'">3</tspan>
       </text>
      </g>
     </g>
    </g>
    <g id="ytick_37">
     <g id="line2d_78">
      <g>
       <path d="M 1173.00 555.16 L 1168.10 555.16" style="stroke: #000000; stroke-width: 1.48"/>
      </g>
     </g>
    </g>
    <g id="ytick_38">
     <g id="line2d_79">
      <g>
       <path d="M 1173.00 530.04 L 1168.10 530.04" style="stroke: #000000; stroke-width: 1.48"/>
      </g>
     </g>
    </g>
    <g id="ytick_39">
     <g id="line2d_80">
      <g>
       <path d="M 1173.00 512.22 L 1168.10 512.22" style="stroke: #000000; stroke-width: 1.48"/>
      </g>
     </g>
    </g>
    <g id="ytick_40">
     <g id="line2d_81">
      <g>
       <path d="M 1173.00 498.39 L 1168.10 498.39" style="stroke: #000000; stroke-width: 1.48"/>
      </g>
     </g>
    </g>
    <g id="ytick_41">
     <g id="line2d_82">
      <g>
       <path d="M 1173.00 487.10 L 1168.10 487.10" style="stroke: #000000; stroke-width: 1.48"/>
      </g>
     </g>
    </g>
    <g id="ytick_42">
     <g id="line2d_83">
      <g>
       <path d="M 1173.00 477.55 L 1168.10 477.55" style="stroke: #000000; stroke-width: 1.48"/>
      </g>
     </g>
    </g>
    <g id="ytick_43">
     <g id="line2d_84">
      <g>
       <path d="M 1173.00 469.27 L 1168.10 469.27" style="stroke: #000000; stroke-width: 1.48"/>
      </g>
     </g>
    </g>
    <g id="ytick_44">
     <g id="line2d_85">
      <g>
       <path d="M 1173.00 461.98 L 1168.10 461.98" style="stroke: #000000; stroke-width: 1.48"/>
      </g>
     </g>
    </g>
    <g id="ytick_45">
     <g id="line2d_86">
      <g>
       <path d="M 1173.00 412.51 L 1168.10 412.51" style="stroke: #000000; stroke-width: 1.48"/>
      </g>
     </g>
    </g>
    <g id="ytick_46">
     <g id="line2d_87">
      <g>
       <path d="M 1173.00 387.39 L 1168.10 387.39" style="stroke: #000000; stroke-width: 1.48"/>
      </g>
     </g>
    </g>
    <g id="ytick_47">
     <g id="line2d_88">
      <g>
       <path d="M 1173.00 369.57 L 1168.10 369.57" style="stroke: #000000; stroke-width: 1.48"/>
      </g>
     </g>
    </g>
    <g id="ytick_48">
     <g id="line2d_89">
      <g>
       <path d="M 1173.00 355.74 L 1168.10 355.74" style="stroke: #000000; stroke-width: 1.48"/>
      </g>
     </g>
    </g>
    <g id="ytick_49">
     <g id="line2d_90">
      <g>
       <path d="M 1173.00 344.45 L 1168.10 344.45" style="stroke: #000000; stroke-width: 1.48"/>
      </g>
     </g>
    </g>
    <g id="ytick_50">
     <g id="line2d_91">
      <g>
       <path d="M 1173.00 334.90 L 1168.10 334.90" style="stroke: #000000; stroke-width: 1.48"/>
      </g>
     </g>
    </g>
    <g id="ytick_51">
     <g id="line2d_92">
      <g>
       <path d="M 1173.00 326.62 L 1168.10 326.62" style="stroke: #000000; stroke-width: 1.48"/>
      </g>
     </g>
    </g>
    <g id="ytick_52">
     <g id="line2d_93">
      <g>
       <path d="M 1173.00 319.33 L 1168.10 319.33" style="stroke: #000000; stroke-width: 1.48"/>
      </g>
     </g>
    </g>
    <g id="ytick_53">
     <g id="line2d_94">
      <g>
       <path d="M 1173.00 269.86 L 1168.10 269.86" style="stroke: #000000; stroke-width: 1.48"/>
      </g>
     </g>
    </g>
    <g id="ytick_54">
     <g id="line2d_95">
      <g>
       <path d="M 1173.00 244.74 L 1168.10 244.74" style="stroke: #000000; stroke-width: 1.48"/>
      </g>
     </g>
    </g>
    <g id="ytick_55">
     <g id="line2d_96">
      <g>
       <path d="M 1173.00 226.92 L 1168.10 226.92" style="stroke: #000000; stroke-width: 1.48"/>
      </g>
     </g>
    </g>
    <g id="ytick_56">
     <g id="line2d_97">
      <g>
       <path d="M 1173.00 213.09 L 1168.10 213.09" style="stroke: #000000; stroke-width: 1.48"/>
      </g>
     </g>
    </g>
    <g id="ytick_57">
     <g id="line2d_98">
      <g>
       <path d="M 1173.00 201.80 L 1168.10 201.80" style="stroke: #000000; stroke-width: 1.48"/>
      </g>
     </g>
    </g>
    <g id="ytick_58">
     <g id="line2d_99">
      <g>
       <path d="M 1173.00 192.25 L 1168.10 192.25" style="stroke: #000000; stroke-width: 1.48"/>
      </g>
     </g>
    </g>
    <g id="ytick_59">
     <g id="line2d_100">
      <g>
       <path d="M 1173.00 183.97 L 1168.10 183.97" style="stroke: #000000; stroke-width: 1.48"/>
      </g>
     </g>
    </g>
    <g id="ytick_60">
     <g id="line2d_101">
      <g>
       <path d="M 1173.00 176.68 L 1168.10 176.68" style="stroke: #000000; stroke-width: 1.48"/>
      </g>
     </g>
    </g>
    <g id="ytick_61">
     <g id="line2d_102">
      <g>
       <path d="M 1173.00 127.21 L 1168.10 127.21" style="stroke: #000000; stroke-width: 1.48"/>
      </g>
     </g>
    </g>
    <g id="ytick_62">
     <g id="line2d_103">
      <g>
       <path d="M 1173.00 102.09 L 1168.10 102.09" style="stroke: #000000; stroke-width: 1.48"/>
      </g>
     </g>
    </g>
    <g id="ytick_63">
     <g id="line2d_104">
      <g>
       <path d="M 1173.00 84.27 L 1168.10 84.27" style="stroke: #000000; stroke-width: 1.48"/>
      </g>
     </g>
    </g>
    <g id="ytick_64">
     <g id="line2d_105">
      <g>
       <path d="M 1173.00 70.44 L 1168.10 70.44" style="stroke: #000000; stroke-width: 1.48"/>
      </g>
     </g>
    </g>
    <g id="ytick_65">
     <g id="line2d_106">
      <g>
       <path d="M 1173.00 59.15 L 1168.10 59.15" style="stroke: #000000; stroke-width: 1.48"/>
      </g>
     </g>
    </g>
    <g id="ytick_66">
     <g id="line2d_107">
      <g>
       <path d="M 1173.00 49.60 L 1168.10 49.60" style="stroke: #000000; stroke-width: 1.48"/>
      </g>
     </g>
    </g>
    <g id="ytick_67">
     <g id="line2d_108">
      <g>
       <path d="M 1173.00 41.32 L 1168.10 41.32" style="stroke: #000000; stroke-width: 1.48"/>
      </g>
     </g>
    </g>
    <g id="ytick_68">
     <g id="line2d_109">
      <g>
       <path d="M 1173.00 34.03 L 1168.10 34.03" style="stroke: #000000; stroke-width: 1.48"/>
      </g>
     </g>
    </g>
    <g id="text_16">
     <text style="font-size: 36px; font-family: 'DejaVu Sans'; text-anchor: middle" x="1070.388125" y="312.8" transform="rotate(-90 1070.388125 312.8)">Number (&gt;Peak flux)</text>
    </g>
   </g>
   <g id="LineCollection_2">
    <path d="M 1872.6 1026.05 
L 1872.6 412.508071 
" clip-path="url(#p9560903c2c)" style="fill: none; stroke: #000000; stroke-width: 3.3"/>
    <path d="M 1834.9 488.581987 
L 1834.9 379.376084 
" clip-path="url(#p9560903c2c)" style="fill: none; stroke: #000000; stroke-width: 3.3"/>
    <path d="M 1822.8 440.742521 
L 1822.8 359.154203 
" clip-path="url(#p9560903c2c)" style="fill: none; stroke: #000000; stroke-width: 3.3"/>
    <path d="M 1790.8 412.508071 
L 1790.8 344.446724 
" clip-path="url(#p9560903c2c)" style="fill: none; stroke: #000000; stroke-width: 3.3"/>
    <path d="M 1753.2 392.466122 
L 1753.2 332.841949 
" clip-path="url(#p9560903c2c)" style="fill: none; stroke: #000000; stroke-width: 3.3"/>
    <path d="M 1749.3 376.951021 
L 1749.3 323.237632 
" clip-path="url(#p9560903c2c)" style="fill: none; stroke: #000000; stroke-width: 3.3"/>
    <path d="M 1741 364.309028 
L 1741 315.034461 
" clip-path="url(#p9560903c2c)" style="fill: none; stroke: #000000; stroke-width: 3.3"/>
    <path d="M 1734 353.651729 
L 1734 307.869249 
" clip-path="url(#p9560903c2c)" style="fill: none; stroke: #000000; stroke-width: 3.3"/>
    <path d="M 1732.1 344.446724 
L 1732.1 301.504795 
" clip-path="url(#p9560903c2c)" style="fill: none; stroke: #000000; stroke-width: 3.3"/>
    <path d="M 1729 336.34988 
L 1729 295.777426 
" clip-path="url(#p9560903c2c)" style="fill: none; stroke: #000000; stroke-width: 3.3"/>
    <path d="M 1708.3 329.126001 
L 1708.3 290.569332 
" clip-path="url(#p9560903c2c)" style="fill: none; stroke: #000000; stroke-width: 3.3"/>
    <path d="M 1707.1 322.607296 
L 1707.1 285.792832 
" clip-path="url(#p9560903c2c)" style="fill: none; stroke: #000000; stroke-width: 3.3"/>
    <path d="M 1700.4 316.669909 
L 1700.4 281.380867 
" clip-path="url(#p9560903c2c)" style="fill: none; stroke: #000000; stroke-width: 3.3"/>
    <path d="M 1686.3 311.219837 
L 1686.3 277.280979 
" clip-path="url(#p9560903c2c)" style="fill: none; stroke: #000000; stroke-width: 3.3"/>
    <path d="M 1677.1 306.184073 
L 1677.1 273.451345 
" clip-path="url(#p9560903c2c)" style="fill: none; stroke: #000000; stroke-width: 3.3"/>
    <path d="M 1673.45 301.504795 
L 1673.45 269.858071 
" clip-path="url(#p9560903c2c)" style="fill: none; stroke: #000000; stroke-width: 3.3"/>
    <path d="M 1669.8 297.135442 
L 1669.8 266.473304 
" clip-path="url(#p9560903c2c)" style="fill: none; stroke: #000000; stroke-width: 3.3"/>
    <path d="M 1666.1 293.037971 
L 1666.1 263.273868 
" clip-path="url(#p9560903c2c)" style="fill: none; stroke: #000000; stroke-width: 3.3"/>
    <path d="M 1662.4 289.180906 
L 1662.4 260.24027 
" clip-path="url(#p9560903c2c)" style="fill: none; stroke: #000000; stroke-width: 3.3"/>
    <path d="M 1659.566667 285.537913 
L 1659.566667 257.355957 
" clip-path="url(#p9560903c2c)" style="fill: none; stroke: #000000; stroke-width: 3.3"/>
    <path d="M 1656.733333 282.086739 
L 1656.733333 254.60675 
" clip-path="url(#p9560903c2c)" style="fill: none; stroke: #000000; stroke-width: 3.3"/>
    <path d="M 1653.9 278.808411 
L 1653.9 251.980411 
" clip-path="url(#p9560903c2c)" style="fill: none; stroke: #000000; stroke-width: 3.3"/>
    <path d="M 1651.833333 275.686629 
L 1651.833333 249.4663 
" clip-path="url(#p9560903c2c)" style="fill: none; stroke: #000000; stroke-width: 3.3"/>
    <path d="M 1649.766667 272.70728 
L 1649.766667 247.05511 
" clip-path="url(#p9560903c2c)" style="fill: none; stroke: #000000; stroke-width: 3.3"/>
    <path d="M 1647.7 269.858071 
L 1647.7 244.738653 
" clip-path="url(#p9560903c2c)" style="fill: none; stroke: #000000; stroke-width: 3.3"/>
    <path d="M 1646.066667 267.128226 
L 1646.066667 242.509684 
" clip-path="url(#p9560903c2c)" style="fill: none; stroke: #000000; stroke-width: 3.3"/>
    <path d="M 1644.433333 264.508248 
L 1644.433333 240.361763 
" clip-path="url(#p9560903c2c)" style="fill: none; stroke: #000000; stroke-width: 3.3"/>
    <path d="M 1642.8 261.989725 
L 1642.8 238.289141 
" clip-path="url(#p9560903c2c)" style="fill: none; stroke: #000000; stroke-width: 3.3"/>
    <path d="M 1640.321739 259.565171 
L 1640.321739 236.286661 
" clip-path="url(#p9560903c2c)" style="fill: none; stroke: #000000; stroke-width: 3.3"/>
    <path d="M 1637.843478 257.227896 
L 1637.843478 234.349683 
" clip-path="url(#p9560903c2c)" style="fill: none; stroke: #000000; stroke-width: 3.3"/>
    <path d="M 1635.365217 254.971896 
L 1635.365217 232.474012 
" clip-path="url(#p9560903c2c)" style="fill: none; stroke: #000000; stroke-width: 3.3"/>
    <path d="M 1632.886957 252.791762 
L 1632.886957 230.655848 
" clip-path="url(#p9560903c2c)" style="fill: none; stroke: #000000; stroke-width: 3.3"/>
    <path d="M 1629.852174 250.682607 
L 1629.852174 228.891735 
" clip-path="url(#p9560903c2c)" style="fill: none; stroke: #000000; stroke-width: 3.3"/>
    <path d="M 1625.982609 248.64 
L 1625.982609 227.178519 
" clip-path="url(#p9560903c2c)" style="fill: none; stroke: #000000; stroke-width: 3.3"/>
    <path d="M 1622.113043 246.659907 
L 1622.113043 225.513319 
" clip-path="url(#p9560903c2c)" style="fill: none; stroke: #000000; stroke-width: 3.3"/>
    <path d="M 1618.243478 244.738653 
L 1618.243478 223.893489 
" clip-path="url(#p9560903c2c)" style="fill: none; stroke: #000000; stroke-width: 3.3"/>
    <path d="M 1614.373913 242.872873 
L 1614.373913 222.3166 
" clip-path="url(#p9560903c2c)" style="fill: none; stroke: #000000; stroke-width: 3.3"/>
    <path d="M 1611.101754 241.059482 
L 1611.101754 220.780412 
" clip-path="url(#p9560903c2c)" style="fill: none; stroke: #000000; stroke-width: 3.3"/>
    <path d="M 1607.978947 239.295646 
L 1607.978947 219.282858 
" clip-path="url(#p9560903c2c)" style="fill: none; stroke: #000000; stroke-width: 3.3"/>
    <path d="M 1604.85614 237.578752 
L 1604.85614 217.822024 
" clip-path="url(#p9560903c2c)" style="fill: none; stroke: #000000; stroke-width: 3.3"/>
    <path d="M 1601.733333 235.906389 
L 1601.733333 216.396136 
" clip-path="url(#p9560903c2c)" style="fill: none; stroke: #000000; stroke-width: 3.3"/>
    <path d="M 1598.610526 234.276325 
L 1598.610526 215.003547 
" clip-path="url(#p9560903c2c)" style="fill: none; stroke: #000000; stroke-width: 3.3"/>
    <path d="M 1595.632075 232.686491 
L 1595.632075 213.642722 
" clip-path="url(#p9560903c2c)" style="fill: none; stroke: #000000; stroke-width: 3.3"/>
    <path d="M 1593.95283 231.134967 
L 1593.95283 212.312233 
" clip-path="url(#p9560903c2c)" style="fill: none; stroke: #000000; stroke-width: 3.3"/>
    <path d="M 1592.273585 229.619967 
L 1592.273585 211.010744 
" clip-path="url(#p9560903c2c)" style="fill: none; stroke: #000000; stroke-width: 3.3"/>
    <path d="M 1590.59434 228.139823 
L 1590.59434 209.737007 
" clip-path="url(#p9560903c2c)" style="fill: none; stroke: #000000; stroke-width: 3.3"/>
    <path d="M 1588.915094 226.692982 
L 1588.915094 208.489854 
" clip-path="url(#p9560903c2c)" style="fill: none; stroke: #000000; stroke-width: 3.3"/>
    <path d="M 1587.235849 225.277991 
L 1587.235849 207.268187 
" clip-path="url(#p9560903c2c)" style="fill: none; stroke: #000000; stroke-width: 3.3"/>
    <path d="M 1585.46 223.893489 
L 1585.46 206.070978 
" clip-path="url(#p9560903c2c)" style="fill: none; stroke: #000000; stroke-width: 3.3"/>
    <path d="M 1583.66 222.5382 
L 1583.66 204.897258 
" clip-path="url(#p9560903c2c)" style="fill: none; stroke: #000000; stroke-width: 3.3"/>
    <path d="M 1581.86 221.210928 
L 1581.86 203.746115 
" clip-path="url(#p9560903c2c)" style="fill: none; stroke: #000000; stroke-width: 3.3"/>
    <path d="M 1580.06 219.910546 
L 1580.06 202.616691 
" clip-path="url(#p9560903c2c)" style="fill: none; stroke: #000000; stroke-width: 3.3"/>
    <path d="M 1578.26 218.635996 
L 1578.26 201.508174 
" clip-path="url(#p9560903c2c)" style="fill: none; stroke: #000000; stroke-width: 3.3"/>
    <path d="M 1576.732787 217.38628 
L 1576.732787 200.419798 
" clip-path="url(#p9560903c2c)" style="fill: none; stroke: #000000; stroke-width: 3.3"/>
    <path d="M 1575.27377 216.160454 
L 1575.27377 199.350838 
" clip-path="url(#p9560903c2c)" style="fill: none; stroke: #000000; stroke-width: 3.3"/>
    <path d="M 1573.814754 214.957632 
L 1573.814754 198.300609 
" clip-path="url(#p9560903c2c)" style="fill: none; stroke: #000000; stroke-width: 3.3"/>
    <path d="M 1572.355738 213.77697 
L 1572.355738 197.268459 
" clip-path="url(#p9560903c2c)" style="fill: none; stroke: #000000; stroke-width: 3.3"/>
    <path d="M 1570.896721 212.617675 
L 1570.896721 196.253773 
" clip-path="url(#p9560903c2c)" style="fill: none; stroke: #000000; stroke-width: 3.3"/>
    <path d="M 1569.437705 211.478993 
L 1569.437705 195.255964 
" clip-path="url(#p9560903c2c)" style="fill: none; stroke: #000000; stroke-width: 3.3"/>
    <path d="M 1567.824528 210.360208 
L 1567.824528 194.274477 
" clip-path="url(#p9560903c2c)" style="fill: none; stroke: #000000; stroke-width: 3.3"/>
    <path d="M 1566.145283 209.260643 
L 1566.145283 193.30878 
" clip-path="url(#p9560903c2c)" style="fill: none; stroke: #000000; stroke-width: 3.3"/>
    <path d="M 1564.466038 208.179653 
L 1564.466038 192.358372 
" clip-path="url(#p9560903c2c)" style="fill: none; stroke: #000000; stroke-width: 3.3"/>
    <path d="M 1562.786792 207.116625 
L 1562.786792 191.422771 
" clip-path="url(#p9560903c2c)" style="fill: none; stroke: #000000; stroke-width: 3.3"/>
    <path d="M 1561.107547 206.070978 
L 1561.107547 190.501519 
" clip-path="url(#p9560903c2c)" style="fill: none; stroke: #000000; stroke-width: 3.3"/>
    <path d="M 1559.428302 205.042155 
L 1559.428302 189.594181 
" clip-path="url(#p9560903c2c)" style="fill: none; stroke: #000000; stroke-width: 3.3"/>
    <path d="M 1557.749057 204.029629 
L 1557.749057 188.700338 
" clip-path="url(#p9560903c2c)" style="fill: none; stroke: #000000; stroke-width: 3.3"/>
    <path d="M 1556.069811 203.032894 
L 1556.069811 187.819593 
" clip-path="url(#p9560903c2c)" style="fill: none; stroke: #000000; stroke-width: 3.3"/>
    <path d="M 1554.390566 202.051469 
L 1554.390566 186.951564 
" clip-path="url(#p9560903c2c)" style="fill: none; stroke: #000000; stroke-width: 3.3"/>
    <path d="M 1552.711321 201.084894 
L 1552.711321 186.095887 
" clip-path="url(#p9560903c2c)" style="fill: none; stroke: #000000; stroke-width: 3.3"/>
    <path d="M 1551.027184 200.13273 
L 1551.027184 185.252212 
" clip-path="url(#p9560903c2c)" style="fill: none; stroke: #000000; stroke-width: 3.3"/>
    <path d="M 1549.299029 199.194556 
L 1549.299029 184.420205 
" clip-path="url(#p9560903c2c)" style="fill: none; stroke: #000000; stroke-width: 3.3"/>
    <path d="M 1547.570874 198.26997 
L 1547.570874 183.599546 
" clip-path="url(#p9560903c2c)" style="fill: none; stroke: #000000; stroke-width: 3.3"/>
    <path d="M 1545.842718 197.358587 
L 1545.842718 182.789927 
" clip-path="url(#p9560903c2c)" style="fill: none; stroke: #000000; stroke-width: 3.3"/>
    <path d="M 1544.114563 196.460037 
L 1544.114563 181.991052 
" clip-path="url(#p9560903c2c)" style="fill: none; stroke: #000000; stroke-width: 3.3"/>
    <path d="M 1542.386408 195.573967 
L 1542.386408 181.202639 
" clip-path="url(#p9560903c2c)" style="fill: none; stroke: #000000; stroke-width: 3.3"/>
    <path d="M 1540.658252 194.700037 
L 1540.658252 180.424415 
" clip-path="url(#p9560903c2c)" style="fill: none; stroke: #000000; stroke-width: 3.3"/>
    <path d="M 1538.930097 193.837921 
L 1538.930097 179.656118 
" clip-path="url(#p9560903c2c)" style="fill: none; stroke: #000000; stroke-width: 3.3"/>
    <path d="M 1537.201942 192.987306 
L 1537.201942 178.897497 
" clip-path="url(#p9560903c2c)" style="fill: none; stroke: #000000; stroke-width: 3.3"/>
    <path d="M 1535.473786 192.147892 
L 1535.473786 178.148308 
" clip-path="url(#p9560903c2c)" style="fill: none; stroke: #000000; stroke-width: 3.3"/>
    <path d="M 1533.745631 191.319389 
L 1533.745631 177.40832 
" clip-path="url(#p9560903c2c)" style="fill: none; stroke: #000000; stroke-width: 3.3"/>
    <path d="M 1532.411111 190.501519 
L 1532.411111 176.677306 
" clip-path="url(#p9560903c2c)" style="fill: none; stroke: #000000; stroke-width: 3.3"/>
    <path d="M 1531.175 189.694015 
L 1531.175 175.955051 
" clip-path="url(#p9560903c2c)" style="fill: none; stroke: #000000; stroke-width: 3.3"/>
    <path d="M 1529.938889 188.896618 
L 1529.938889 175.241346 
" clip-path="url(#p9560903c2c)" style="fill: none; stroke: #000000; stroke-width: 3.3"/>
    <path d="M 1528.702778 188.109081 
L 1528.702778 174.535989 
" clip-path="url(#p9560903c2c)" style="fill: none; stroke: #000000; stroke-width: 3.3"/>
    <path d="M 1527.466667 187.331164 
L 1527.466667 173.838786 
" clip-path="url(#p9560903c2c)" style="fill: none; stroke: #000000; stroke-width: 3.3"/>
    <path d="M 1526.230556 186.562636 
L 1526.230556 173.14955 
" clip-path="url(#p9560903c2c)" style="fill: none; stroke: #000000; stroke-width: 3.3"/>
    <path d="M 1524.994444 185.803276 
L 1524.994444 172.468099 
" clip-path="url(#p9560903c2c)" style="fill: none; stroke: #000000; stroke-width: 3.3"/>
    <path d="M 1523.758333 185.052867 
L 1523.758333 171.794258 
" clip-path="url(#p9560903c2c)" style="fill: none; stroke: #000000; stroke-width: 3.3"/>
    <path d="M 1522.522222 184.311204 
L 1522.522222 171.127859 
" clip-path="url(#p9560903c2c)" style="fill: none; stroke: #000000; stroke-width: 3.3"/>
    <path d="M 1521.286111 183.578085 
L 1521.286111 170.468736 
" clip-path="url(#p9560903c2c)" style="fill: none; stroke: #000000; stroke-width: 3.3"/>
    <path d="M 1520.05 182.853318 
L 1520.05 169.816733 
" clip-path="url(#p9560903c2c)" style="fill: none; stroke: #000000; stroke-width: 3.3"/>
    <path d="M 1518.813889 182.136715 
L 1518.813889 169.171696 
" clip-path="url(#p9560903c2c)" style="fill: none; stroke: #000000; stroke-width: 3.3"/>
    <path d="M 1517.577778 181.428097 
L 1517.577778 168.533477 
" clip-path="url(#p9560903c2c)" style="fill: none; stroke: #000000; stroke-width: 3.3"/>
    <path d="M 1516.341667 180.727286 
L 1516.341667 167.901933 
" clip-path="url(#p9560903c2c)" style="fill: none; stroke: #000000; stroke-width: 3.3"/>
    <path d="M 1514.880808 180.034116 
L 1514.880808 167.276923 
" clip-path="url(#p9560903c2c)" style="fill: none; stroke: #000000; stroke-width: 3.3"/>
    <path d="M 1513.082828 179.348422 
L 1513.082828 166.658315 
" clip-path="url(#p9560903c2c)" style="fill: none; stroke: #000000; stroke-width: 3.3"/>
    <path d="M 1511.284848 178.670045 
L 1511.284848 166.045976 
" clip-path="url(#p9560903c2c)" style="fill: none; stroke: #000000; stroke-width: 3.3"/>
    <path d="M 1509.486869 177.998832 
L 1509.486869 165.439781 
" clip-path="url(#p9560903c2c)" style="fill: none; stroke: #000000; stroke-width: 3.3"/>
    <path d="M 1507.688889 177.334633 
L 1507.688889 164.839606 
" clip-path="url(#p9560903c2c)" style="fill: none; stroke: #000000; stroke-width: 3.3"/>
    <path d="M 1505.890909 176.677306 
L 1505.890909 164.245333 
" clip-path="url(#p9560903c2c)" style="fill: none; stroke: #000000; stroke-width: 3.3"/>
    <path d="M 1504.092929 176.02671 
L 1504.092929 163.656846 
" clip-path="url(#p9560903c2c)" style="fill: none; stroke: #000000; stroke-width: 3.3"/>
    <path d="M 1502.294949 175.382709 
L 1502.294949 163.074033 
" clip-path="url(#p9560903c2c)" style="fill: none; stroke: #000000; stroke-width: 3.3"/>
    <path d="M 1500.49697 174.745171 
L 1500.49697 162.496784 
" clip-path="url(#p9560903c2c)" style="fill: none; stroke: #000000; stroke-width: 3.3"/>
    <path d="M 1498.69899 174.11397 
L 1498.69899 161.924994 
" clip-path="url(#p9560903c2c)" style="fill: none; stroke: #000000; stroke-width: 3.3"/>
    <path d="M 1496.952381 173.488981 
L 1496.952381 161.35856 
" clip-path="url(#p9560903c2c)" style="fill: none; stroke: #000000; stroke-width: 3.3"/>
    <path d="M 1495.257143 172.870083 
L 1495.257143 160.797382 
" clip-path="url(#p9560903c2c)" style="fill: none; stroke: #000000; stroke-width: 3.3"/>
    <path d="M 1493.561905 172.257161 
L 1493.561905 160.241362 
" clip-path="url(#p9560903c2c)" style="fill: none; stroke: #000000; stroke-width: 3.3"/>
    <path d="M 1491.866667 171.650099 
L 1491.866667 159.690406 
" clip-path="url(#p9560903c2c)" style="fill: none; stroke: #000000; stroke-width: 3.3"/>
    <path d="M 1490.171429 171.048789 
L 1490.171429 159.144423 
" clip-path="url(#p9560903c2c)" style="fill: none; stroke: #000000; stroke-width: 3.3"/>
    <path d="M 1488.47619 170.453121 
L 1488.47619 158.603322 
" clip-path="url(#p9560903c2c)" style="fill: none; stroke: #000000; stroke-width: 3.3"/>
    <path d="M 1486.780952 169.862994 
L 1486.780952 158.067017 
" clip-path="url(#p9560903c2c)" style="fill: none; stroke: #000000; stroke-width: 3.3"/>
    <path d="M 1485.085714 169.278303 
L 1485.085714 157.535423 
" clip-path="url(#p9560903c2c)" style="fill: none; stroke: #000000; stroke-width: 3.3"/>
    <path d="M 1483.390476 168.698952 
L 1483.390476 157.008457 
" clip-path="url(#p9560903c2c)" style="fill: none; stroke: #000000; stroke-width: 3.3"/>
    <path d="M 1481.695238 168.124844 
L 1481.695238 156.486039 
" clip-path="url(#p9560903c2c)" style="fill: none; stroke: #000000; stroke-width: 3.3"/>
    <path d="M 1480 167.555885 
L 1480 155.968091 
" clip-path="url(#p9560903c2c)" style="fill: none; stroke: #000000; stroke-width: 3.3"/>
    <path d="M 1478.614286 166.991984 
L 1478.614286 155.454537 
" clip-path="url(#p9560903c2c)" style="fill: none; stroke: #000000; stroke-width: 3.3"/>
    <path d="M 1477.228571 166.433054 
L 1477.228571 154.945301 
" clip-path="url(#p9560903c2c)" style="fill: none; stroke: #000000; stroke-width: 3.3"/>
    <path d="M 1475.842857 165.879006 
L 1475.842857 154.440312 
" clip-path="url(#p9560903c2c)" style="fill: none; stroke: #000000; stroke-width: 3.3"/>
    <path d="M 1474.457143 165.329758 
L 1474.457143 153.9395 
" clip-path="url(#p9560903c2c)" style="fill: none; stroke: #000000; stroke-width: 3.3"/>
    <path d="M 1473.071429 164.785227 
L 1473.071429 153.442794 
" clip-path="url(#p9560903c2c)" style="fill: none; stroke: #000000; stroke-width: 3.3"/>
    <path d="M 1471.685714 164.245333 
L 1471.685714 152.950129 
" clip-path="url(#p9560903c2c)" style="fill: none; stroke: #000000; stroke-width: 3.3"/>
    <path d="M 1470.3 163.709999 
L 1470.3 152.461438 
" clip-path="url(#p9560903c2c)" style="fill: none; stroke: #000000; stroke-width: 3.3"/>
    <path d="M 1468.63 163.179149 
L 1468.63 151.976657 
" clip-path="url(#p9560903c2c)" style="fill: none; stroke: #000000; stroke-width: 3.3"/>
    <path d="M 1466.96 162.652708 
L 1466.96 151.495724 
" clip-path="url(#p9560903c2c)" style="fill: none; stroke: #000000; stroke-width: 3.3"/>
    <path d="M 1465.29 162.130604 
L 1465.29 151.018579 
" clip-path="url(#p9560903c2c)" style="fill: none; stroke: #000000; stroke-width: 3.3"/>
    <path d="M 1463.62 161.612767 
L 1463.62 150.545161 
" clip-path="url(#p9560903c2c)" style="fill: none; stroke: #000000; stroke-width: 3.3"/>
    <path d="M 1461.95 161.099128 
L 1461.95 150.075413 
" clip-path="url(#p9560903c2c)" style="fill: none; stroke: #000000; stroke-width: 3.3"/>
    <path d="M 1460.28 160.58962 
L 1460.28 149.609277 
" clip-path="url(#p9560903c2c)" style="fill: none; stroke: #000000; stroke-width: 3.3"/>
    <path d="M 1458.61 160.084177 
L 1458.61 149.146698 
" clip-path="url(#p9560903c2c)" style="fill: none; stroke: #000000; stroke-width: 3.3"/>
    <path d="M 1456.94 159.582735 
L 1456.94 148.687623 
" clip-path="url(#p9560903c2c)" style="fill: none; stroke: #000000; stroke-width: 3.3"/>
    <path d="M 1455.27 159.085232 
L 1455.27 148.231998 
" clip-path="url(#p9560903c2c)" style="fill: none; stroke: #000000; stroke-width: 3.3"/>
    <path d="M 1453.6 158.591607 
L 1453.6 147.779771 
" clip-path="url(#p9560903c2c)" style="fill: none; stroke: #000000; stroke-width: 3.3"/>
    <path d="M 1450.26 158.1018 
L 1450.26 147.330892 
" clip-path="url(#p9560903c2c)" style="fill: none; stroke: #000000; stroke-width: 3.3"/>
    <path d="M 1446.92 157.615752 
L 1446.92 146.885312 
" clip-path="url(#p9560903c2c)" style="fill: none; stroke: #000000; stroke-width: 3.3"/>
    <path d="M 1443.58 157.133407 
L 1443.58 146.442982 
" clip-path="url(#p9560903c2c)" style="fill: none; stroke: #000000; stroke-width: 3.3"/>
    <path d="M 1440.24 156.654709 
L 1440.24 146.003854 
" clip-path="url(#p9560903c2c)" style="fill: none; stroke: #000000; stroke-width: 3.3"/>
    <path d="M 1436.9 156.179604 
L 1436.9 145.567882 
" clip-path="url(#p9560903c2c)" style="fill: none; stroke: #000000; stroke-width: 3.3"/>
    <path d="M 1434.4 155.708037 
L 1434.4 145.135022 
" clip-path="url(#p9560903c2c)" style="fill: none; stroke: #000000; stroke-width: 3.3"/>
    <path d="M 1431.9 155.239959 
L 1431.9 144.705228 
" clip-path="url(#p9560903c2c)" style="fill: none; stroke: #000000; stroke-width: 3.3"/>
    <path d="M 1429.4 154.775316 
L 1429.4 144.278458 
" clip-path="url(#p9560903c2c)" style="fill: none; stroke: #000000; stroke-width: 3.3"/>
    <path d="M 1426.9 154.31406 
L 1426.9 143.854669 
" clip-path="url(#p9560903c2c)" style="fill: none; stroke: #000000; stroke-width: 3.3"/>
    <path d="M 1424.4 153.856142 
L 1424.4 143.433819 
" clip-path="url(#p9560903c2c)" style="fill: none; stroke: #000000; stroke-width: 3.3"/>
    <path d="M 1421.9 153.401514 
L 1421.9 143.015868 
" clip-path="url(#p9560903c2c)" style="fill: none; stroke: #000000; stroke-width: 3.3"/>
    <path d="M 1419.4 152.950129 
L 1419.4 142.600776 
" clip-path="url(#p9560903c2c)" style="fill: none; stroke: #000000; stroke-width: 3.3"/>
    <path d="M 1416.9 152.501941 
L 1416.9 142.188504 
" clip-path="url(#p9560903c2c)" style="fill: none; stroke: #000000; stroke-width: 3.3"/>
    <path d="M 1414.52 152.056907 
L 1414.52 141.779013 
" clip-path="url(#p9560903c2c)" style="fill: none; stroke: #000000; stroke-width: 3.3"/>
    <path d="M 1412.14 151.614982 
L 1412.14 141.372266 
" clip-path="url(#p9560903c2c)" style="fill: none; stroke: #000000; stroke-width: 3.3"/>
    <path d="M 1409.76 151.176122 
L 1409.76 140.968226 
" clip-path="url(#p9560903c2c)" style="fill: none; stroke: #000000; stroke-width: 3.3"/>
    <path d="M 1407.38 150.740287 
L 1407.38 140.566858 
" clip-path="url(#p9560903c2c)" style="fill: none; stroke: #000000; stroke-width: 3.3"/>
    <path d="M 1405 150.307435 
L 1405 140.168126 
" clip-path="url(#p9560903c2c)" style="fill: none; stroke: #000000; stroke-width: 3.3"/>
    <path d="M 1403.19 149.877525 
L 1403.19 139.771995 
" clip-path="url(#p9560903c2c)" style="fill: none; stroke: #000000; stroke-width: 3.3"/>
    <path d="M 1401.38 149.450518 
L 1401.38 139.378432 
" clip-path="url(#p9560903c2c)" style="fill: none; stroke: #000000; stroke-width: 3.3"/>
    <path d="M 1399.57 149.026376 
L 1399.57 138.987404 
" clip-path="url(#p9560903c2c)" style="fill: none; stroke: #000000; stroke-width: 3.3"/>
    <path d="M 1397.76 148.605059 
L 1397.76 138.598877 
" clip-path="url(#p9560903c2c)" style="fill: none; stroke: #000000; stroke-width: 3.3"/>
    <path d="M 1395.95 148.186532 
L 1395.95 138.21282 
" clip-path="url(#p9560903c2c)" style="fill: none; stroke: #000000; stroke-width: 3.3"/>
    <path d="M 1394.14 147.770758 
L 1394.14 137.829202 
" clip-path="url(#p9560903c2c)" style="fill: none; stroke: #000000; stroke-width: 3.3"/>
    <path d="M 1392.33 147.3577 
L 1392.33 137.447991 
" clip-path="url(#p9560903c2c)" style="fill: none; stroke: #000000; stroke-width: 3.3"/>
    <path d="M 1390.52 146.947323 
L 1390.52 137.069158 
" clip-path="url(#p9560903c2c)" style="fill: none; stroke: #000000; stroke-width: 3.3"/>
    <path d="M 1388.71 146.539594 
L 1388.71 136.692673 
" clip-path="url(#p9560903c2c)" style="fill: none; stroke: #000000; stroke-width: 3.3"/>
    <path d="M 1386.9 146.134479 
L 1386.9 136.318506 
" clip-path="url(#p9560903c2c)" style="fill: none; stroke: #000000; stroke-width: 3.3"/>
    <path d="M 1383.833333 145.731943 
L 1383.833333 135.94663 
" clip-path="url(#p9560903c2c)" style="fill: none; stroke: #000000; stroke-width: 3.3"/>
    <path d="M 1380.766667 145.331956 
L 1380.766667 135.577016 
" clip-path="url(#p9560903c2c)" style="fill: none; stroke: #000000; stroke-width: 3.3"/>
    <path d="M 1377.7 144.934484 
L 1377.7 135.209637 
" clip-path="url(#p9560903c2c)" style="fill: none; stroke: #000000; stroke-width: 3.3"/>
    <path d="M 1374.633333 144.539497 
L 1374.633333 134.844466 
" clip-path="url(#p9560903c2c)" style="fill: none; stroke: #000000; stroke-width: 3.3"/>
    <path d="M 1371.566667 144.146964 
L 1371.566667 134.481476 
" clip-path="url(#p9560903c2c)" style="fill: none; stroke: #000000; stroke-width: 3.3"/>
    <path d="M 1368.5 143.756855 
L 1368.5 134.120642 
" clip-path="url(#p9560903c2c)" style="fill: none; stroke: #000000; stroke-width: 3.3"/>
    <path d="M 1365.875 143.36914 
L 1365.875 133.761937 
" clip-path="url(#p9560903c2c)" style="fill: none; stroke: #000000; stroke-width: 3.3"/>
    <path d="M 1363.25 142.98379 
L 1363.25 133.405337 
" clip-path="url(#p9560903c2c)" style="fill: none; stroke: #000000; stroke-width: 3.3"/>
    <path d="M 1360.625 142.600776 
L 1360.625 133.050817 
" clip-path="url(#p9560903c2c)" style="fill: none; stroke: #000000; stroke-width: 3.3"/>
    <path d="M 1358 142.220071 
L 1358 132.698352 
" clip-path="url(#p9560903c2c)" style="fill: none; stroke: #000000; stroke-width: 3.3"/>
    <path d="M 1354.775 141.841647 
L 1354.775 132.347919 
" clip-path="url(#p9560903c2c)" style="fill: none; stroke: #000000; stroke-width: 3.3"/>
    <path d="M 1351.55 141.465477 
L 1351.55 131.999495 
" clip-path="url(#p9560903c2c)" style="fill: none; stroke: #000000; stroke-width: 3.3"/>
    <path d="M 1348.325 141.091534 
L 1348.325 131.653057 
" clip-path="url(#p9560903c2c)" style="fill: none; stroke: #000000; stroke-width: 3.3"/>
    <path d="M 1345.1 140.719792 
L 1345.1 131.308581 
" clip-path="url(#p9560903c2c)" style="fill: none; stroke: #000000; stroke-width: 3.3"/>
    <path d="M 1335 140.350226 
L 1335 130.966046 
" clip-path="url(#p9560903c2c)" style="fill: none; stroke: #000000; stroke-width: 3.3"/>
    <path d="M 1332.6 139.982811 
L 1332.6 130.62543 
" clip-path="url(#p9560903c2c)" style="fill: none; stroke: #000000; stroke-width: 3.3"/>
    <path d="M 1325.1 139.617521 
L 1325.1 130.286711 
" clip-path="url(#p9560903c2c)" style="fill: none; stroke: #000000; stroke-width: 3.3"/>
    <path d="M 1317.6 139.254332 
L 1317.6 129.949868 
" clip-path="url(#p9560903c2c)" style="fill: none; stroke: #000000; stroke-width: 3.3"/>
    <path d="M 1306 138.893221 
L 1306 129.614881 
" clip-path="url(#p9560903c2c)" style="fill: none; stroke: #000000; stroke-width: 3.3"/>
    <path d="M 1303 138.534163 
L 1303 129.281729 
" clip-path="url(#p9560903c2c)" style="fill: none; stroke: #000000; stroke-width: 3.3"/>
    <path d="M 1296.7 138.177137 
L 1296.7 128.950392 
" clip-path="url(#p9560903c2c)" style="fill: none; stroke: #000000; stroke-width: 3.3"/>
    <path d="M 1289.7 137.822118 
L 1289.7 128.62085 
" clip-path="url(#p9560903c2c)" style="fill: none; stroke: #000000; stroke-width: 3.3"/>
   </g>
   <g id="line2d_110">
    <path d="M 1288.4 121.7 
L 1305.998995 124.911792 
L 1323.59799 128.380407 
L 1341.196985 132.096014 
L 1355.862814 135.396905 
L 1370.528643 138.905238 
L 1388.127638 143.343912 
L 1408.659799 148.765764 
L 1423.325628 152.804181 
L 1437.991457 157.083165 
L 1484.922111 171.018646 
L 1502.521106 176.09066 
L 1511.320603 178.793173 
L 1520.120101 181.703225 
L 1525.986432 183.820498 
L 1534.78593 187.2795 
L 1555.31809 195.825232 
L 1575.850251 204.415761 
L 1599.315578 214.508132 
L 1616.914573 222.254823 
L 1628.647236 227.697431 
L 1640.379899 233.443558 
L 1655.045729 240.905282 
L 1684.377387 256.137347 
L 1696.11005 262.547157 
L 1704.909548 267.626892 
L 1713.709045 272.954013 
L 1725.441709 280.33345 
L 1740.107538 289.818247 
L 1748.907035 295.762346 
L 1757.706533 302.072281 
L 1766.50603 308.6329 
L 1775.305528 315.485458 
L 1784.105025 322.70829 
L 1789.971357 327.767903 
L 1795.837688 333.057777 
L 1801.70402 338.59772 
L 1807.570352 344.382895 
L 1813.436683 350.408163 
L 1819.303015 356.668386 
L 1825.169347 363.163296 
L 1831.035678 370.039712 
L 1833.968844 373.692679 
L 1839.835176 381.50054 
L 1845.701508 389.740535 
L 1848.634673 394.215431 
L 1851.567839 399.07426 
L 1854.501005 404.42752 
L 1857.434171 410.445215 
L 1860.367337 417.230017 
L 1863.300503 424.71093 
L 1866.233668 432.814922 
L 1869.166834 441.468957 
L 1872.1 450.6 
L 1872.1 450.6 
" clip-path="url(#p9560903c2c)" style="fill: none; stroke: #008000; stroke-width: 4.9"/>
   </g>
   <g id="line2d_111">
    
    <g clip-path="url(#p9560903c2c)">
     <circle cx="1872.60" cy="455.45" r="4.500" style="stroke: #000000"/>
     <circle cx="1834.90" cy="412.51" r="4.500" style="stroke: #000000"/>
     <circle cx="1822.80" cy="387.39" r="4.500" style="stroke: #000000"/>
     <circle cx="1790.80" cy="369.57" r="4.500" style="stroke: #000000"/>
     <circle cx="1753.20" cy="355.74" r="4.500" style="stroke: #000000"/>
     <circle cx="1749.30" cy="344.45" r="4.500" style="stroke: #000000"/>
     <circle cx="1741.00" cy="334.90" r="4.500" style="stroke: #000000"/>
     <circle cx="1734.00" cy="326.62" r="4.500" style="stroke: #000000"/>
     <circle cx="1732.10" cy="319.33" r="4.500" style="stroke: #000000"/>
     <circle cx="1729.00" cy="312.80" r="4.500" style="stroke: #000000"/>
     <circle cx="1708.30" cy="306.90" r="4.500" style="stroke: #000000"/>
     <circle cx="1707.10" cy="301.50" r="4.500" style="stroke: #000000"/>
     <circle cx="1700.40" cy="296.55" r="4.500" style="stroke: #000000"/>
     <circle cx="1686.30" cy="291.95" r="4.500" style="stroke: #000000"/>
     <circle cx="1677.10" cy="287.68" r="4.500" style="stroke: #000000"/>
     <circle cx="1673.45" cy="283.68" r="4.500" style="stroke: #000000"/>
     <circle cx="1669.80" cy="279.93" r="4.500" style="stroke: #000000"/>
     <circle cx="1666.10" cy="276.39" r="4.500" style="stroke: #000000"/>
     <circle cx="1662.40" cy="273.04" r="4.500" style="stroke: #000000"/>
     <circle cx="1659.57" cy="269.86" r="4.500" style="stroke: #000000"/>
     <circle cx="1656.73" cy="266.84" r="4.500" style="stroke: #000000"/>
     <circle cx="1653.90" cy="263.95" r="4.500" style="stroke: #000000"/>
     <circle cx="1651.83" cy="261.20" r="4.500" style="stroke: #000000"/>
     <circle cx="1649.77" cy="258.56" r="4.500" style="stroke: #000000"/>
     <circle cx="1647.70" cy="256.03" r="4.500" style="stroke: #000000"/>
     <circle cx="1646.07" cy="253.60" r="4.500" style="stroke: #000000"/>
     <circle cx="1644.43" cy="251.27" r="4.500" style="stroke: #000000"/>
     <circle cx="1642.80" cy="249.01" r="4.500" style="stroke: #000000"/>
     <circle cx="1640.32" cy="246.84" r="4.500" style="stroke: #000000"/>
     <circle cx="1637.84" cy="244.74" r="4.500" style="stroke: #000000"/>
     <circle cx="1635.37" cy="242.71" r="4.500" style="stroke: #000000"/>
     <circle cx="1632.89" cy="240.74" r="4.500" style="stroke: #000000"/>
     <circle cx="1629.85" cy="238.83" r="4.500" style="stroke: #000000"/>
     <circle cx="1625.98" cy="236.98" r="4.500" style="stroke: #000000"/>
     <circle cx="1622.11" cy="235.19" r="4.500" style="stroke: #000000"/>
     <circle cx="1618.24" cy="233.44" r="4.500" style="stroke: #000000"/>
     <circle cx="1614.37" cy="231.75" r="4.500" style="stroke: #000000"/>
     <circle cx="1611.10" cy="230.09" r="4.500" style="stroke: #000000"/>
     <circle cx="1607.98" cy="228.48" r="4.500" style="stroke: #000000"/>
     <circle cx="1604.86" cy="226.92" r="4.500" style="stroke: #000000"/>
     <circle cx="1601.73" cy="225.39" r="4.500" style="stroke: #000000"/>
     <circle cx="1598.61" cy="223.89" r="4.500" style="stroke: #000000"/>
     <circle cx="1595.63" cy="222.44" r="4.500" style="stroke: #000000"/>
     <circle cx="1593.95" cy="221.01" r="4.500" style="stroke: #000000"/>
     <circle cx="1592.27" cy="219.62" r="4.500" style="stroke: #000000"/>
     <circle cx="1590.59" cy="218.26" r="4.500" style="stroke: #000000"/>
     <circle cx="1588.92" cy="216.93" r="4.500" style="stroke: #000000"/>
     <circle cx="1587.24" cy="215.62" r="4.500" style="stroke: #000000"/>
     <circle cx="1585.46" cy="214.34" r="4.500" style="stroke: #000000"/>
     <circle cx="1583.66" cy="213.09" r="4.500" style="stroke: #000000"/>
     <circle cx="1581.86" cy="211.87" r="4.500" style="stroke: #000000"/>
     <circle cx="1580.06" cy="210.66" r="4.500" style="stroke: #000000"/>
     <circle cx="1578.26" cy="209.48" r="4.500" style="stroke: #000000"/>
     <circle cx="1576.73" cy="208.32" r="4.500" style="stroke: #000000"/>
     <circle cx="1575.27" cy="207.19" r="4.500" style="stroke: #000000"/>
     <circle cx="1573.81" cy="206.07" r="4.500" style="stroke: #000000"/>
     <circle cx="1572.36" cy="204.97" r="4.500" style="stroke: #000000"/>
     <circle cx="1570.90" cy="203.90" r="4.500" style="stroke: #000000"/>
     <circle cx="1569.44" cy="202.84" r="4.500" style="stroke: #000000"/>
     <circle cx="1567.82" cy="201.80" r="4.500" style="stroke: #000000"/>
     <circle cx="1566.15" cy="200.77" r="4.500" style="stroke: #000000"/>
     <circle cx="1564.47" cy="199.77" r="4.500" style="stroke: #000000"/>
     <circle cx="1562.79" cy="198.77" r="4.500" style="stroke: #000000"/>
     <circle cx="1561.11" cy="197.80" r="4.500" style="stroke: #000000"/>
     <circle cx="1559.43" cy="196.84" r="4.500" style="stroke: #000000"/>
     <circle cx="1557.75" cy="195.89" r="4.500" style="stroke: #000000"/>
     <circle cx="1556.07" cy="194.96" r="4.500" style="stroke: #000000"/>
     <circle cx="1554.39" cy="194.04" r="4.500" style="stroke: #000000"/>
     <circle cx="1552.71" cy="193.14" r="4.500" style="stroke: #000000"/>
     <circle cx="1551.03" cy="192.25" r="4.500" style="stroke: #000000"/>
     <circle cx="1549.30" cy="191.37" r="4.500" style="stroke: #000000"/>
     <circle cx="1547.57" cy="190.50" r="4.500" style="stroke: #000000"/>
     <circle cx="1545.84" cy="189.65" r="4.500" style="stroke: #000000"/>
     <circle cx="1544.11" cy="188.80" r="4.500" style="stroke: #000000"/>
     <circle cx="1542.39" cy="187.97" r="4.500" style="stroke: #000000"/>
     <circle cx="1540.66" cy="187.15" r="4.500" style="stroke: #000000"/>
     <circle cx="1538.93" cy="186.34" r="4.500" style="stroke: #000000"/>
     <circle cx="1537.20" cy="185.54" r="4.500" style="stroke: #000000"/>
     <circle cx="1535.47" cy="184.75" r="4.500" style="stroke: #000000"/>
     <circle cx="1533.75" cy="183.97" r="4.500" style="stroke: #000000"/>
     <circle cx="1532.41" cy="183.20" r="4.500" style="stroke: #000000"/>
     <circle cx="1531.17" cy="182.44" r="4.500" style="stroke: #000000"/>
     <circle cx="1529.94" cy="181.69" r="4.500" style="stroke: #000000"/>
     <circle cx="1528.70" cy="180.95" r="4.500" style="stroke: #000000"/>
     <circle cx="1527.47" cy="180.22" r="4.500" style="stroke: #000000"/>
     <circle cx="1526.23" cy="179.49" r="4.500" style="stroke: #000000"/>
     <circle cx="1524.99" cy="178.78" r="4.500" style="stroke: #000000"/>
     <circle cx="1523.76" cy="178.07" r="4.500" style="stroke: #000000"/>
     <circle cx="1522.52" cy="177.37" r="4.500" style="stroke: #000000"/>
     <circle cx="1521.29" cy="176.68" r="4.500" style="stroke: #000000"/>
     <circle cx="1520.05" cy="175.99" r="4.500" style="stroke: #000000"/>
     <circle cx="1518.81" cy="175.32" r="4.500" style="stroke: #000000"/>
     <circle cx="1517.58" cy="174.65" r="4.500" style="stroke: #000000"/>
     <circle cx="1516.34" cy="173.98" r="4.500" style="stroke: #000000"/>
     <circle cx="1514.88" cy="173.33" r="4.500" style="stroke: #000000"/>
     <circle cx="1513.08" cy="172.68" r="4.500" style="stroke: #000000"/>
     <circle cx="1511.28" cy="172.04" r="4.500" style="stroke: #000000"/>
     <circle cx="1509.49" cy="171.40" r="4.500" style="stroke: #000000"/>
     <circle cx="1507.69" cy="170.77" r="4.500" style="stroke: #000000"/>
     <circle cx="1505.89" cy="170.15" r="4.500" style="stroke: #000000"/>
     <circle cx="1504.09" cy="169.53" r="4.500" style="stroke: #000000"/>
     <circle cx="1502.29" cy="168.92" r="4.500" style="stroke: #000000"/>
     <circle cx="1500.50" cy="168.32" r="4.500" style="stroke: #000000"/>
     <circle cx="1498.70" cy="167.72" r="4.500" style="stroke: #000000"/>
     <circle cx="1496.95" cy="167.13" r="4.500" style="stroke: #000000"/>
     <circle cx="1495.26" cy="166.54" r="4.500" style="stroke: #000000"/>
     <circle cx="1493.56" cy="165.96" r="4.500" style="stroke: #000000"/>
     <circle cx="1491.87" cy="165.38" r="4.500" style="stroke: #000000"/>
     <circle cx="1490.17" cy="164.81" r="4.500" style="stroke: #000000"/>
     <circle cx="1488.48" cy="164.25" r="4.500" style="stroke: #000000"/>
     <circle cx="1486.78" cy="163.68" r="4.500" style="stroke: #000000"/>
     <circle cx="1485.09" cy="163.13" r="4.500" style="stroke: #000000"/>
     <circle cx="1483.39" cy="162.58" r="4.500" style="stroke: #000000"/>
     <circle cx="1481.70" cy="162.03" r="4.500" style="stroke: #000000"/>
     <circle cx="1480.00" cy="161.49" r="4.500" style="stroke: #000000"/>
     <circle cx="1478.61" cy="160.96" r="4.500" style="stroke: #000000"/>
     <circle cx="1477.23" cy="160.42" r="4.500" style="stroke: #000000"/>
     <circle cx="1475.84" cy="159.90" r="4.500" style="stroke: #000000"/>
     <circle cx="1474.46" cy="159.37" r="4.500" style="stroke: #000000"/>
     <circle cx="1473.07" cy="158.85" r="4.500" style="stroke: #000000"/>
     <circle cx="1471.69" cy="158.34" r="4.500" style="stroke: #000000"/>
     <circle cx="1470.30" cy="157.83" r="4.500" style="stroke: #000000"/>
     <circle cx="1468.63" cy="157.33" r="4.500" style="stroke: #000000"/>
     <circle cx="1466.96" cy="156.82" r="4.500" style="stroke: #000000"/>
     <circle cx="1465.29" cy="156.33" r="4.500" style="stroke: #000000"/>
     <circle cx="1463.62" cy="155.83" r="4.500" style="stroke: #000000"/>
     <circle cx="1461.95" cy="155.34" r="4.500" style="stroke: #000000"/>
     <circle cx="1460.28" cy="154.86" r="4.500" style="stroke: #000000"/>
     <circle cx="1458.61" cy="154.37" r="4.500" style="stroke: #000000"/>
     <circle cx="1456.94" cy="153.90" r="4.500" style="stroke: #000000"/>
     <circle cx="1455.27" cy="153.42" r="4.500" style="stroke: #000000"/>
     <circle cx="1453.60" cy="152.95" r="4.500" style="stroke: #000000"/>
     <circle cx="1450.26" cy="152.48" r="4.500" style="stroke: #000000"/>
     <circle cx="1446.92" cy="152.02" r="4.500" style="stroke: #000000"/>
     <circle cx="1443.58" cy="151.56" r="4.500" style="stroke: #000000"/>
     <circle cx="1440.24" cy="151.10" r="4.500" style="stroke: #000000"/>
     <circle cx="1436.90" cy="150.65" r="4.500" style="stroke: #000000"/>
     <circle cx="1434.40" cy="150.20" r="4.500" style="stroke: #000000"/>
     <circle cx="1431.90" cy="149.75" r="4.500" style="stroke: #000000"/>
     <circle cx="1429.40" cy="149.30" r="4.500" style="stroke: #000000"/>
     <circle cx="1426.90" cy="148.86" r="4.500" style="stroke: #000000"/>
     <circle cx="1424.40" cy="148.43" r="4.500" style="stroke: #000000"/>
     <circle cx="1421.90" cy="147.99" r="4.500" style="stroke: #000000"/>
     <circle cx="1419.40" cy="147.56" r="4.500" style="stroke: #000000"/>
     <circle cx="1416.90" cy="147.13" r="4.500" style="stroke: #000000"/>
     <circle cx="1414.52" cy="146.71" r="4.500" style="stroke: #000000"/>
     <circle cx="1412.14" cy="146.28" r="4.500" style="stroke: #000000"/>
     <circle cx="1409.76" cy="145.86" r="4.500" style="stroke: #000000"/>
     <circle cx="1407.38" cy="145.44" r="4.500" style="stroke: #000000"/>
     <circle cx="1405.00" cy="145.03" r="4.500" style="stroke: #000000"/>
     <circle cx="1403.19" cy="144.62" r="4.500" style="stroke: #000000"/>
     <circle cx="1401.38" cy="144.21" r="4.500" style="stroke: #000000"/>
     <circle cx="1399.57" cy="143.80" r="4.500" style="stroke: #000000"/>
     <circle cx="1397.76" cy="143.40" r="4.500" style="stroke: #000000"/>
     <circle cx="1395.95" cy="143.00" r="4.500" style="stroke: #000000"/>
     <circle cx="1394.14" cy="142.60" r="4.500" style="stroke: #000000"/>
     <circle cx="1392.33" cy="142.20" r="4.500" style="stroke: #000000"/>
     <circle cx="1390.52" cy="141.81" r="4.500" style="stroke: #000000"/>
     <circle cx="1388.71" cy="141.42" r="4.500" style="stroke: #000000"/>
     <circle cx="1386.90" cy="141.03" r="4.500" style="stroke: #000000"/>
     <circle cx="1383.83" cy="140.65" r="4.500" style="stroke: #000000"/>
     <circle cx="1380.77" cy="140.26" r="4.500" style="stroke: #000000"/>
     <circle cx="1377.70" cy="139.88" r="4.500" style="stroke: #000000"/>
     <circle cx="1374.63" cy="139.50" r="4.500" style="stroke: #000000"/>
     <circle cx="1371.57" cy="139.13" r="4.500" style="stroke: #000000"/>
     <circle cx="1368.50" cy="138.75" r="4.500" style="stroke: #000000"/>
     <circle cx="1365.88" cy="138.38" r="4.500" style="stroke: #000000"/>
     <circle cx="1363.25" cy="138.01" r="4.500" style="stroke: #000000"/>
     <circle cx="1360.62" cy="137.64" r="4.500" style="stroke: #000000"/>
     <circle cx="1358.00" cy="137.28" r="4.500" style="stroke: #000000"/>
     <circle cx="1354.78" cy="136.91" r="4.500" style="stroke: #000000"/>
     <circle cx="1351.55" cy="136.55" r="4.500" style="stroke: #000000"/>
     <circle cx="1348.33" cy="136.19" r="4.500" style="stroke: #000000"/>
     <circle cx="1345.10" cy="135.84" r="4.500" style="stroke: #000000"/>
     <circle cx="1335.00" cy="135.48" r="4.500" style="stroke: #000000"/>
     <circle cx="1332.60" cy="135.13" r="4.500" style="stroke: #000000"/>
     <circle cx="1325.10" cy="134.78" r="4.500" style="stroke: #000000"/>
     <circle cx="1317.60" cy="134.43" r="4.500" style="stroke: #000000"/>
     <circle cx="1306.00" cy="134.08" r="4.500" style="stroke: #000000"/>
     <circle cx="1303.00" cy="133.74" r="4.500" style="stroke: #000000"/>
     <circle cx="1296.70" cy="133.39" r="4.500" style="stroke: #000000"/>
     <circle cx="1289.70" cy="133.05" r="4.500" style="stroke: #000000"/>
    </g>
   </g>
   <g id="patch_10">
    <path d="M 1173 598.1 
L 1173 27.5 
" style="fill: none; stroke: #000000; stroke-width: 1.97; stroke-linejoin: miter; stroke-linecap: square"/>
   </g>
   <g id="patch_11">
    <path d="M 2028.9 598.1 
L 2028.9 27.5 
" style="fill: none; stroke: #000000; stroke-width: 1.97; stroke-linejoin: miter; stroke-linecap: square"/>
   </g>
   <g id="patch_12">
    <path d="M 1173 598.1 
L 2028.9 598.1 
" style="fill: none; stroke: #000000; stroke-width: 1.97; stroke-linejoin: miter; stroke-linecap: square"/>
   </g>
   <g id="patch_13">
    <path d="M 1173 27.5 
L 2028.9 27.5 
" style="fill: none; stroke: #000000; stroke-width: 1.97; stroke-linejoin: miter; stroke-linecap: square"/>
   </g>
  </g>
  <g id="axes_3">
   <g id="patch_14">
    <path d="M 134.1 1401.8 
L 989.9 1401.8 
L 989.9 831.2 
L 134.1 831.2 
z
" style="fill: #ffffff"/>
   </g>
   <g id="patch_15">
    <path d="M 346.7 975 
L 427 991.8 
L 540 1028.4 
L 559.7 1035.9 
L 646.8 1074.3 
L 706.9 1108.5 
L 786.6 1172.5 
L 820.8 1224.5 
L 820.8 1228.6 
L 786.6 1190.3 
L 706.9 1128.5 
L 646.8 1093.5 
L 540 1045 
L 427 1000.1 
L 346.7 981 
z
" clip-path="url(#p826fa11769)" style="fill: #4d4d4d"/>
   </g>
   <g id="line2d_112">
    <path d="M 356.1 831.2 
L 356.1 1401.8 
" clip-path="url(#p826fa11769)" style="fill: none; stroke-dasharray: 3.57,5.91; stroke-dashoffset: 5.365; stroke: #0000ff; stroke-width: 3.57"/>
   </g>
   <g id="matplotlib.axis_5">
    <g id="xtick_38">
     <g id="line2d_113">
      <g>
       <path d="M 334.55 1401.80 L 334.55 1410.40" style="stroke: #000000; stroke-width: 1.97"/>
      </g>
     </g>
     <g id="text_17">
      <!-- $\mathdefault{10^{-1}}$ -->
      <g transform="translate(299.88663 1441.415391)">
       <text>
        <tspan x="0" y="-0.203125" style="font-size: 29.5px; font-family: 'DejaVu Sans'">1</tspan>
        <tspan x="18.768799" y="-0.203125" style="font-size: 29.5px; font-family: 'DejaVu Sans'">0</tspan>
        <tspan x="37.824707" y="-11.6875" style="font-size: 20.65px; font-family: 'DejaVu Sans'">−</tspan>
        <tspan x="55.127148" y="-11.6875" style="font-size: 20.65px; font-family: 'DejaVu Sans'">1</tspan>
       </text>
      </g>
     </g>
    </g>
    <g id="xtick_39">
     <g id="line2d_114">
      <g>
       <path d="M 838.27 1401.80 L 838.27 1410.40" style="stroke: #000000; stroke-width: 1.97"/>
      </g>
     </g>
     <g id="text_18">
      <!-- $\mathdefault{10^{0}}$ -->
      <g transform="translate(812.306087 1441.415391)">
       <text>
        <tspan x="0" y="-0.929688" style="font-size: 29.5px; font-family: 'DejaVu Sans'">1</tspan>
        <tspan x="18.768799" y="-0.929688" style="font-size: 29.5px; font-family: 'DejaVu Sans'">0</tspan>
        <tspan x="37.824707" y="-12.414062" style="font-size: 20.65px; font-family: 'DejaVu Sans'">0</tspan>
       </text>
      </g>
     </g>
    </g>
    <g id="xtick_40">
     <g id="line2d_115">
      <g>
       <path d="M 134.10 1401.80 L 134.10 1406.70" style="stroke: #000000; stroke-width: 1.48"/>
      </g>
     </g>
    </g>
    <g id="xtick_41">
     <g id="line2d_116">
      <g>
       <path d="M 182.92 1401.80 L 182.92 1406.70" style="stroke: #000000; stroke-width: 1.48"/>
      </g>
     </g>
    </g>
    <g id="xtick_42">
     <g id="line2d_117">
      <g>
       <path d="M 222.80 1401.80 L 222.80 1406.70" style="stroke: #000000; stroke-width: 1.48"/>
      </g>
     </g>
    </g>
    <g id="xtick_43">
     <g id="line2d_118">
      <g>
       <path d="M 256.52 1401.80 L 256.52 1406.70" style="stroke: #000000; stroke-width: 1.48"/>
      </g>
     </g>
    </g>
    <g id="xtick_44">
     <g id="line2d_119">
      <g>
       <path d="M 285.73 1401.80 L 285.73 1406.70" style="stroke: #000000; stroke-width: 1.48"/>
      </g>
     </g>
    </g>
    <g id="xtick_45">
     <g id="line2d_120">
      <g>
       <path d="M 311.50 1401.80 L 311.50 1406.70" style="stroke: #000000; stroke-width: 1.48"/>
      </g>
     </g>
    </g>
    <g id="xtick_46">
     <g id="line2d_121">
      <g>
       <path d="M 486.18 1401.80 L 486.18 1406.70" style="stroke: #000000; stroke-width: 1.48"/>
      </g>
     </g>
    </g>
    <g id="xtick_47">
     <g id="line2d_122">
      <g>
       <path d="M 574.88 1401.80 L 574.88 1406.70" style="stroke: #000000; stroke-width: 1.48"/>
      </g>
     </g>
    </g>
    <g id="xtick_48">
     <g id="line2d_123">
      <g>
       <path d="M 637.82 1401.80 L 637.82 1406.70" style="stroke: #000000; stroke-width: 1.48"/>
      </g>
     </g>
    </g>
    <g id="xtick_49">
     <g id="line2d_124">
      <g>
       <path d="M 686.63 1401.80 L 686.63 1406.70" style="stroke: #000000; stroke-width: 1.48"/>
      </g>
     </g>
    </g>
    <g id="xtick_50">
     <g id="line2d_125">
      <g>
       <path d="M 726.52 1401.80 L 726.52 1406.70" style="stroke: #000000; stroke-width: 1.48"/>
      </g>
     </g>
    </g>
    <g id="xtick_51">
     <g id="line2d_126">
      <g>
       <path d="M 760.24 1401.80 L 760.24 1406.70" style="stroke: #000000; stroke-width: 1.48"/>
      </g>
     </g>
    </g>
    <g id="xtick_52">
     <g id="line2d_127">
      <g>
       <path d="M 789.45 1401.80 L 789.45 1406.70" style="stroke: #000000; stroke-width: 1.48"/>
      </g>
     </g>
    </g>
    <g id="xtick_53">
     <g id="line2d_128">
      <g>
       <path d="M 815.22 1401.80 L 815.22 1406.70" style="stroke: #000000; stroke-width: 1.48"/>
      </g>
     </g>
    </g>
    <g id="xtick_54">
     <g id="line2d_129">
      <g>
       <path d="M 989.90 1401.80 L 989.90 1406.70" style="stroke: #000000; stroke-width: 1.48"/>
      </g>
     </g>
    </g>
    <g id="text_19">
     <text style="font-size: 36px; font-family: 'DejaVu Sans'; text-anchor: middle" x="562" y="1483.504844" transform="rotate(-0 562 1483.504844)">Peak flux (counts/8ms)</text>
    </g>
   </g>
   <g id="matplotlib.axis_6">
    <g id="ytick_69">
     <g id="line2d_130">
      <g>
       <path d="M 134.10 1401.80 L 125.50 1401.80" style="stroke: #000000; stroke-width: 1.97"/>
      </g>
     </g>
     <g id="text_20">
      <!-- $\mathdefault{10^{-1}}$ -->
      <g transform="translate(47.575 1413.007695)">
       <text>
        <tspan x="0" y="-0.203125" style="font-size: 29.5px; font-family: 'DejaVu Sans'">1</tspan>
        <tspan x="18.768799" y="-0.203125" style="font-size: 29.5px; font-family: 'DejaVu Sans'">0</tspan>
        <tspan x="37.824707" y="-11.6875" style="font-size: 20.65px; font-family: 'DejaVu Sans'">−</tspan>
        <tspan x="55.127148" y="-11.6875" style="font-size: 20.65px; font-family: 'DejaVu Sans'">1</tspan>
       </text>
      </g>
     </g>
    </g>
    <g id="ytick_70">
     <g id="line2d_131">
      <g>
       <path d="M 134.10 1228.94 L 125.50 1228.94" style="stroke: #000000; stroke-width: 1.97"/>
      </g>
     </g>
     <g id="text_21">
      <!-- $\mathdefault{10^{0}}$ -->
      <g transform="translate(64.98 1240.152556)">
       <text>
        <tspan x="0" y="-0.929688" style="font-size: 29.5px; font-family: 'DejaVu Sans'">1</tspan>
        <tspan x="18.768799" y="-0.929688" style="font-size: 29.5px; font-family: 'DejaVu Sans'">0</tspan>
        <tspan x="37.824707" y="-12.414062" style="font-size: 20.65px; font-family: 'DejaVu Sans'">0</tspan>
       </text>
      </g>
     </g>
    </g>
    <g id="ytick_71">
     <g id="line2d_132">
      <g>
       <path d="M 134.10 1056.09 L 125.50 1056.09" style="stroke: #000000; stroke-width: 1.97"/>
      </g>
     </g>
     <g id="text_22">
      <!-- $\mathdefault{10^{1}}$ -->
      <g transform="translate(64.98 1067.297417)">
       <text>
        <tspan x="0" y="-0.203125" style="font-size: 29.5px; font-family: 'DejaVu Sans'">1</tspan>
        <tspan x="18.768799" y="-0.203125" style="font-size: 29.5px; font-family: 'DejaVu Sans'">0</tspan>
        <tspan x="37.824707" y="-11.6875" style="font-size: 20.65px; font-family: 'DejaVu Sans'">1</tspan>
       </text>
      </g>
     </g>
    </g>
    <g id="ytick_72">
     <g id="line2d_133">
      <g>
       <path d="M 134.10 883.23 L 125.50 883.23" style="stroke: #000000; stroke-width: 1.97"/>
      </g>
     </g>
     <g id="text_23">
      <!-- $\mathdefault{10^{2}}$ -->
      <g transform="translate(64.98 894.442277)">
       <text>
        <tspan x="0" y="-0.929688" style="font-size: 29.5px; font-family: 'DejaVu Sans'">1</tspan>
        <tspan x="18.768799" y="-0.929688" style="font-size: 29.5px; font-family: 'DejaVu Sans'">0</tspan>
        <tspan x="37.824707" y="-12.414062" style="font-size: 20.65px; font-family: 'DejaVu Sans'">2</tspan>
       </text>
      </g>
     </g>
    </g>
    <g id="ytick_73">
     <g id="line2d_134">
      <g>
       <path d="M 134.10 1349.77 L 129.20 1349.77" style="stroke: #000000; stroke-width: 1.48"/>
      </g>
     </g>
    </g>
    <g id="ytick_74">
     <g id="line2d_135">
      <g>
       <path d="M 134.10 1319.33 L 129.20 1319.33" style="stroke: #000000; stroke-width: 1.48"/>
      </g>
     </g>
    </g>
    <g id="ytick_75">
     <g id="line2d_136">
      <g>
       <path d="M 134.10 1297.73 L 129.20 1297.73" style="stroke: #000000; stroke-width: 1.48"/>
      </g>
     </g>
    </g>
    <g id="ytick_76">
     <g id="line2d_137">
      <g>
       <path d="M 134.10 1280.98 L 129.20 1280.98" style="stroke: #000000; stroke-width: 1.48"/>
      </g>
     </g>
    </g>
    <g id="ytick_77">
     <g id="line2d_138">
      <g>
       <path d="M 134.10 1267.29 L 129.20 1267.29" style="stroke: #000000; stroke-width: 1.48"/>
      </g>
     </g>
    </g>
    <g id="ytick_78">
     <g id="line2d_139">
      <g>
       <path d="M 134.10 1255.72 L 129.20 1255.72" style="stroke: #000000; stroke-width: 1.48"/>
      </g>
     </g>
    </g>
    <g id="ytick_79">
     <g id="line2d_140">
      <g>
       <path d="M 134.10 1245.70 L 129.20 1245.70" style="stroke: #000000; stroke-width: 1.48"/>
      </g>
     </g>
    </g>
    <g id="ytick_80">
     <g id="line2d_141">
      <g>
       <path d="M 134.10 1236.85 L 129.20 1236.85" style="stroke: #000000; stroke-width: 1.48"/>
      </g>
     </g>
    </g>
    <g id="ytick_81">
     <g id="line2d_142">
      <g>
       <path d="M 134.10 1176.91 L 129.20 1176.91" style="stroke: #000000; stroke-width: 1.48"/>
      </g>
     </g>
    </g>
    <g id="ytick_82">
     <g id="line2d_143">
      <g>
       <path d="M 134.10 1146.47 L 129.20 1146.47" style="stroke: #000000; stroke-width: 1.48"/>
      </g>
     </g>
    </g>
    <g id="ytick_83">
     <g id="line2d_144">
      <g>
       <path d="M 134.10 1124.88 L 129.20 1124.88" style="stroke: #000000; stroke-width: 1.48"/>
      </g>
     </g>
    </g>
    <g id="ytick_84">
     <g id="line2d_145">
      <g>
       <path d="M 134.10 1108.12 L 129.20 1108.12" style="stroke: #000000; stroke-width: 1.48"/>
      </g>
     </g>
    </g>
    <g id="ytick_85">
     <g id="line2d_146">
      <g>
       <path d="M 134.10 1094.44 L 129.20 1094.44" style="stroke: #000000; stroke-width: 1.48"/>
      </g>
     </g>
    </g>
    <g id="ytick_86">
     <g id="line2d_147">
      <g>
       <path d="M 134.10 1082.87 L 129.20 1082.87" style="stroke: #000000; stroke-width: 1.48"/>
      </g>
     </g>
    </g>
    <g id="ytick_87">
     <g id="line2d_148">
      <g>
       <path d="M 134.10 1072.84 L 129.20 1072.84" style="stroke: #000000; stroke-width: 1.48"/>
      </g>
     </g>
    </g>
    <g id="ytick_88">
     <g id="line2d_149">
      <g>
       <path d="M 134.10 1064.00 L 129.20 1064.00" style="stroke: #000000; stroke-width: 1.48"/>
      </g>
     </g>
    </g>
    <g id="ytick_89">
     <g id="line2d_150">
      <g>
       <path d="M 134.10 1004.06 L 129.20 1004.06" style="stroke: #000000; stroke-width: 1.48"/>
      </g>
     </g>
    </g>
    <g id="ytick_90">
     <g id="line2d_151">
      <g>
       <path d="M 134.10 973.62 L 129.20 973.62" style="stroke: #000000; stroke-width: 1.48"/>
      </g>
     </g>
    </g>
    <g id="ytick_91">
     <g id="line2d_152">
      <g>
       <path d="M 134.10 952.02 L 129.20 952.02" style="stroke: #000000; stroke-width: 1.48"/>
      </g>
     </g>
    </g>
    <g id="ytick_92">
     <g id="line2d_153">
      <g>
       <path d="M 134.10 935.27 L 129.20 935.27" style="stroke: #000000; stroke-width: 1.48"/>
      </g>
     </g>
    </g>
    <g id="ytick_93">
     <g id="line2d_154">
      <g>
       <path d="M 134.10 921.58 L 129.20 921.58" style="stroke: #000000; stroke-width: 1.48"/>
      </g>
     </g>
    </g>
    <g id="ytick_94">
     <g id="line2d_155">
      <g>
       <path d="M 134.10 910.01 L 129.20 910.01" style="stroke: #000000; stroke-width: 1.48"/>
      </g>
     </g>
    </g>
    <g id="ytick_95">
     <g id="line2d_156">
      <g>
       <path d="M 134.10 899.99 L 129.20 899.99" style="stroke: #000000; stroke-width: 1.48"/>
      </g>
     </g>
    </g>
    <g id="ytick_96">
     <g id="line2d_157">
      <g>
       <path d="M 134.10 891.14 L 129.20 891.14" style="stroke: #000000; stroke-width: 1.48"/>
      </g>
     </g>
    </g>
    <g id="ytick_97">
     <g id="line2d_158">
      <g>
       <path d="M 134.10 831.20 L 129.20 831.20" style="stroke: #000000; stroke-width: 1.48"/>
      </g>
     </g>
    </g>
    <g id="text_24">
     <text style="font-size: 36px; font-family: 'DejaVu Sans'; text-anchor: middle" x="31.488125" y="1116.5" transform="rotate(-90 31.488125 1116.5)">Number (&gt;Peak flux)</text>
    </g>
   </g>
   <g id="LineCollection_3">
    <path d="M 821.1 1920.365418 
L 821.1 1176.910279 
" clip-path="url(#p826fa11769)" style="fill: none; stroke: #000000; stroke-width: 3.3"/>
    <path d="M 786.8 1269.092314 
L 786.8 1136.762825 
" clip-path="url(#p826fa11769)" style="fill: none; stroke: #000000; stroke-width: 3.3"/>
    <path d="M 707.4 1211.123176 
L 707.4 1112.259103 
" clip-path="url(#p826fa11769)" style="fill: none; stroke: #000000; stroke-width: 3.3"/>
    <path d="M 647.3 1176.910279 
L 647.3 1094.437418 
" clip-path="url(#p826fa11769)" style="fill: none; stroke: #000000; stroke-width: 3.3"/>
    <path d="M 638 1152.624588 
L 638 1080.375412 
" clip-path="url(#p826fa11769)" style="fill: none; stroke: #000000; stroke-width: 3.3"/>
    <path d="M 625.5 1133.824273 
L 625.5 1068.737448 
" clip-path="url(#p826fa11769)" style="fill: none; stroke: #000000; stroke-width: 3.3"/>
    <path d="M 623 1118.505425 
L 623 1058.797314 
" clip-path="url(#p826fa11769)" style="fill: none; stroke: #000000; stroke-width: 3.3"/>
    <path d="M 603.9 1105.591518 
L 603.9 1050.114918 
" clip-path="url(#p826fa11769)" style="fill: none; stroke: #000000; stroke-width: 3.3"/>
    <path d="M 587.1 1094.437418 
L 587.1 1042.402836 
" clip-path="url(#p826fa11769)" style="fill: none; stroke: #000000; stroke-width: 3.3"/>
    <path d="M 559.2 1084.626124 
L 559.2 1035.462736 
" clip-path="url(#p826fa11769)" style="fill: none; stroke: #000000; stroke-width: 3.3"/>
    <path d="M 534.6 1075.872639 
L 534.6 1029.151865 
" clip-path="url(#p826fa11769)" style="fill: none; stroke: #000000; stroke-width: 3.3"/>
    <path d="M 533.8 1067.973644 
L 533.8 1023.363975 
" clip-path="url(#p826fa11769)" style="fill: none; stroke: #000000; stroke-width: 3.3"/>
    <path d="M 524.6 1060.779056 
L 524.6 1018.017807 
" clip-path="url(#p826fa11769)" style="fill: none; stroke: #000000; stroke-width: 3.3"/>
    <path d="M 519.6 1054.17497 
L 519.6 1013.049796 
" clip-path="url(#p826fa11769)" style="fill: none; stroke: #000000; stroke-width: 3.3"/>
    <path d="M 504.6 1048.072918 
L 504.6 1008.409263 
" clip-path="url(#p826fa11769)" style="fill: none; stroke: #000000; stroke-width: 3.3"/>
    <path d="M 500.4 1042.402836 
L 500.4 1004.055139 
" clip-path="url(#p826fa11769)" style="fill: none; stroke: #000000; stroke-width: 3.3"/>
    <path d="M 485.4 1037.108302 
L 485.4 999.953672 
" clip-path="url(#p826fa11769)" style="fill: none; stroke: #000000; stroke-width: 3.3"/>
    <path d="M 482 1032.143221 
L 482 996.076777 
" clip-path="url(#p826fa11769)" style="fill: none; stroke: #000000; stroke-width: 3.3"/>
    <path d="M 480.4 1027.46945 
L 480.4 992.400836 
" clip-path="url(#p826fa11769)" style="fill: none; stroke: #000000; stroke-width: 3.3"/>
    <path d="M 441.9 1023.055078 
L 441.9 988.90579 
" clip-path="url(#p826fa11769)" style="fill: none; stroke: #000000; stroke-width: 3.3"/>
    <path d="M 441 1018.873142 
L 441 985.574458 
" clip-path="url(#p826fa11769)" style="fill: none; stroke: #000000; stroke-width: 3.3"/>
    <path d="M 440.3 1014.900651 
L 440.3 982.39201 
" clip-path="url(#p826fa11769)" style="fill: none; stroke: #000000; stroke-width: 3.3"/>
    <path d="M 433.6 1011.117853 
L 433.6 979.345553 
" clip-path="url(#p826fa11769)" style="fill: none; stroke: #000000; stroke-width: 3.3"/>
    <path d="M 422.8 1007.507648 
L 422.8 976.423811 
" clip-path="url(#p826fa11769)" style="fill: none; stroke: #000000; stroke-width: 3.3"/>
    <path d="M 421.9 1004.055139 
L 421.9 973.61686 
" clip-path="url(#p826fa11769)" style="fill: none; stroke: #000000; stroke-width: 3.3"/>
    <path d="M 421.1 1000.747269 
L 421.1 970.915922 
" clip-path="url(#p826fa11769)" style="fill: none; stroke: #000000; stroke-width: 3.3"/>
    <path d="M 420.3 997.572529 
L 420.3 968.313194 
" clip-path="url(#p826fa11769)" style="fill: none; stroke: #000000; stroke-width: 3.3"/>
    <path d="M 411 994.520726 
L 411 965.801709 
" clip-path="url(#p826fa11769)" style="fill: none; stroke: #000000; stroke-width: 3.3"/>
    <path d="M 408.6 991.58279 
L 408.6 963.375218 
" clip-path="url(#p826fa11769)" style="fill: none; stroke: #000000; stroke-width: 3.3"/>
    <path d="M 390.2 988.750613 
L 390.2 961.028098 
" clip-path="url(#p826fa11769)" style="fill: none; stroke: #000000; stroke-width: 3.3"/>
    <path d="M 376.9 986.01692 
L 376.9 958.755267 
" clip-path="url(#p826fa11769)" style="fill: none; stroke: #000000; stroke-width: 3.3"/>
    <path d="M 373.5 983.375159 
L 373.5 956.55212 
" clip-path="url(#p826fa11769)" style="fill: none; stroke: #000000; stroke-width: 3.3"/>
    <path d="M 370.2 980.819405 
L 370.2 954.414468 
" clip-path="url(#p826fa11769)" style="fill: none; stroke: #000000; stroke-width: 3.3"/>
    <path d="M 347.6 978.34429 
L 347.6 952.338491 
" clip-path="url(#p826fa11769)" style="fill: none; stroke: #000000; stroke-width: 3.3"/>
    <path d="M 330.1 975.944927 
L 330.1 950.320696 
" clip-path="url(#p826fa11769)" style="fill: none; stroke: #000000; stroke-width: 3.3"/>
    <path d="M 313.1 973.61686 
L 313.1 948.357878 
" clip-path="url(#p826fa11769)" style="fill: none; stroke: #000000; stroke-width: 3.3"/>
    <path d="M 278.4 971.356014 
L 278.4 946.447094 
" clip-path="url(#p826fa11769)" style="fill: none; stroke: #000000; stroke-width: 3.3"/>
   </g>
   <g id="line2d_159">
    <g clip-path="url(#p826fa11769)">
     <circle cx="821.10" cy="1228.94" r="4.500" style="stroke: #000000"/>
     <circle cx="786.80" cy="1176.91" r="4.500" style="stroke: #000000"/>
     <circle cx="707.40" cy="1146.47" r="4.500" style="stroke: #000000"/>
     <circle cx="647.30" cy="1124.88" r="4.500" style="stroke: #000000"/>
     <circle cx="638.00" cy="1108.12" r="4.500" style="stroke: #000000"/>
     <circle cx="625.50" cy="1094.44" r="4.500" style="stroke: #000000"/>
     <circle cx="623.00" cy="1082.87" r="4.500" style="stroke: #000000"/>
     <circle cx="603.90" cy="1072.84" r="4.500" style="stroke: #000000"/>
     <circle cx="587.10" cy="1064.00" r="4.500" style="stroke: #000000"/>
     <circle cx="559.20" cy="1056.09" r="4.500" style="stroke: #000000"/>
     <circle cx="534.60" cy="1048.93" r="4.500" style="stroke: #000000"/>
     <circle cx="533.80" cy="1042.40" r="4.500" style="stroke: #000000"/>
     <circle cx="524.60" cy="1036.39" r="4.500" style="stroke: #000000"/>
     <circle cx="519.60" cy="1030.83" r="4.500" style="stroke: #000000"/>
     <circle cx="504.60" cy="1025.65" r="4.500" style="stroke: #000000"/>
     <circle cx="500.40" cy="1020.81" r="4.500" style="stroke: #000000"/>
     <circle cx="485.40" cy="1016.26" r="4.500" style="stroke: #000000"/>
     <circle cx="482.00" cy="1011.96" r="4.500" style="stroke: #000000"/>
     <circle cx="480.40" cy="1007.91" r="4.500" style="stroke: #000000"/>
     <circle cx="441.90" cy="1004.06" r="4.500" style="stroke: #000000"/>
     <circle cx="441.00" cy="1000.39" r="4.500" style="stroke: #000000"/>
     <circle cx="440.30" cy="996.90" r="4.500" style="stroke: #000000"/>
     <circle cx="433.60" cy="993.56" r="4.500" style="stroke: #000000"/>
     <circle cx="422.80" cy="990.37" r="4.500" style="stroke: #000000"/>
     <circle cx="421.90" cy="987.30" r="4.500" style="stroke: #000000"/>
     <circle cx="421.10" cy="984.36" r="4.500" style="stroke: #000000"/>
     <circle cx="420.30" cy="981.53" r="4.500" style="stroke: #000000"/>
     <circle cx="411.00" cy="978.80" r="4.500" style="stroke: #000000"/>
     <circle cx="408.60" cy="976.16" r="4.500" style="stroke: #000000"/>
     <circle cx="390.20" cy="973.62" r="4.500" style="stroke: #000000"/>
     <circle cx="376.90" cy="971.16" r="4.500" style="stroke: #000000"/>
     <circle cx="373.50" cy="968.77" r="4.500" style="stroke: #000000"/>
     <circle cx="370.20" cy="966.46" r="4.500" style="stroke: #000000"/>
     <circle cx="347.60" cy="964.22" r="4.500" style="stroke: #000000"/>
     <circle cx="330.10" cy="962.04" r="4.500" style="stroke: #000000"/>
     <circle cx="313.10" cy="959.93" r="4.500" style="stroke: #000000"/>
     <circle cx="278.40" cy="957.87" r="4.500" style="stroke: #000000"/>
    </g>
   </g>
   <g id="line2d_160">
    <path d="M 279.2 960.1 
L 326.8 972.6 
L 376.9 983.4 
L 426.9 996.8 
L 477 1015.1 
L 540 1037.6 
L 623.5 1076.8 
L 706.9 1118.5 
L 780.4 1177 
L 820.1 1225.9 
" clip-path="url(#p826fa11769)" style="fill: none; stroke: #008000; stroke-width: 4.9"/>
   </g>
   <g id="patch_16">
    <path d="M 134.1 1401.8 
L 134.1 831.2 
" style="fill: none; stroke: #000000; stroke-width: 1.97; stroke-linejoin: miter; stroke-linecap: square"/>
   </g>
   <g id="patch_17">
    <path d="M 989.9 1401.8 
L 989.9 831.2 
" style="fill: none; stroke: #000000; stroke-width: 1.97; stroke-linejoin: miter; stroke-linecap: square"/>
   </g>
   <g id="patch_18">
    <path d="M 134.1 1401.8 
L 989.9 1401.8 
" style="fill: none; stroke: #000000; stroke-width: 1.97; stroke-linejoin: miter; stroke-linecap: square"/>
   </g>
   <g id="patch_19">
    <path d="M 134.1 831.2 
L 989.9 831.2 
" style="fill: none; stroke: #000000; stroke-width: 1.97; stroke-linejoin: miter; stroke-linecap: square"/>
   </g>
  </g>
  <g id="axes_4">
   <g id="patch_20">
    <path d="M 1173 1401.8 
L 2028.9 1401.8 
L 2028.9 831.2 
L 1173 831.2 
z
" style="fill: #ffffff"/>
   </g>
   <g id="patch_21">
    <path d="M 1440 951.5 
L 1520.2 968.7 
L 1570.3 983.3 
L 1620.3 999.5 
L 1670.4 1020.7 
L 1700 1032.8 
L 1738.4 1052 
L 1799.8 1089.1 
L 1828 1112.2 
L 1853.6 1135.2 
L 1879.2 1160.8 
L 1898.4 1196.6 
L 1898.4 1201.8 
L 1879.2 1177.4 
L 1853.6 1153.1 
L 1828 1128.8 
L 1798.6 1103.2 
L 1738.4 1068.6 
L 1700 1045.6 
L 1670.4 1029.5 
L 1620.3 1007.5 
L 1570.3 990.5 
L 1520.2 975 
L 1440 955.5 
z
" clip-path="url(#p4862ee702b)" style="fill: #4d4d4d"/>
   </g>
   <g id="line2d_161">
    <path d="M 1546 831.2 
L 1546 1401.8 
" clip-path="url(#p4862ee702b)" style="fill: none; stroke-dasharray: 3.57,5.91; stroke-dashoffset: 5.365; stroke: #0000ff; stroke-width: 3.57"/>
   </g>
   <g id="matplotlib.axis_7">
    <g id="xtick_55">
     <g id="line2d_162">
      <g>
       <path d="M 1354.65 1401.80 L 1354.65 1410.40" style="stroke: #000000; stroke-width: 1.97"/>
      </g>
     </g>
     <g id="text_25">
      <!-- $\mathdefault{10^{-1}}$ -->
      <g transform="translate(1319.98322 1441.415391)">
       <text>
        <tspan x="0" y="-0.203125" style="font-size: 29.5px; font-family: 'DejaVu Sans'">1</tspan>
        <tspan x="18.768799" y="-0.203125" style="font-size: 29.5px; font-family: 'DejaVu Sans'">0</tspan>
        <tspan x="37.824707" y="-11.6875" style="font-size: 20.65px; font-family: 'DejaVu Sans'">−</tspan>
        <tspan x="55.127148" y="-11.6875" style="font-size: 20.65px; font-family: 'DejaVu Sans'">1</tspan>
       </text>
      </g>
     </g>
    </g>
    <g id="xtick_56">
     <g id="line2d_163">
      <g>
       <path d="M 1811.11 1401.80 L 1811.11 1410.40" style="stroke: #000000; stroke-width: 1.97"/>
      </g>
     </g>
     <g id="text_26">
      <!-- $\mathdefault{10^{0}}$ -->
      <g transform="translate(1785.150806 1441.415391)">
       <text>
        <tspan x="0" y="-0.929688" style="font-size: 29.5px; font-family: 'DejaVu Sans'">1</tspan>
        <tspan x="18.768799" y="-0.929688" style="font-size: 29.5px; font-family: 'DejaVu Sans'">0</tspan>
        <tspan x="37.824707" y="-12.414062" style="font-size: 20.65px; font-family: 'DejaVu Sans'">0</tspan>
       </text>
      </g>
     </g>
    </g>
    <g id="xtick_57">
     <g id="line2d_164">
      <g>
       <path d="M 1173.00 1401.80 L 1173.00 1406.70" style="stroke: #000000; stroke-width: 1.48"/>
      </g>
     </g>
    </g>
    <g id="xtick_58">
     <g id="line2d_165">
      <g>
       <path d="M 1217.24 1401.80 L 1217.24 1406.70" style="stroke: #000000; stroke-width: 1.48"/>
      </g>
     </g>
    </g>
    <g id="xtick_59">
     <g id="line2d_166">
      <g>
       <path d="M 1253.38 1401.80 L 1253.38 1406.70" style="stroke: #000000; stroke-width: 1.48"/>
      </g>
     </g>
    </g>
    <g id="xtick_60">
     <g id="line2d_167">
      <g>
       <path d="M 1283.94 1401.80 L 1283.94 1406.70" style="stroke: #000000; stroke-width: 1.48"/>
      </g>
     </g>
    </g>
    <g id="xtick_61">
     <g id="line2d_168">
      <g>
       <path d="M 1310.41 1401.80 L 1310.41 1406.70" style="stroke: #000000; stroke-width: 1.48"/>
      </g>
     </g>
    </g>
    <g id="xtick_62">
     <g id="line2d_169">
      <g>
       <path d="M 1333.76 1401.80 L 1333.76 1406.70" style="stroke: #000000; stroke-width: 1.48"/>
      </g>
     </g>
    </g>
    <g id="xtick_63">
     <g id="line2d_170">
      <g>
       <path d="M 1492.06 1401.80 L 1492.06 1406.70" style="stroke: #000000; stroke-width: 1.48"/>
      </g>
     </g>
    </g>
    <g id="xtick_64">
     <g id="line2d_171">
      <g>
       <path d="M 1572.43 1401.80 L 1572.43 1406.70" style="stroke: #000000; stroke-width: 1.48"/>
      </g>
     </g>
    </g>
    <g id="xtick_65">
     <g id="line2d_172">
      <g>
       <path d="M 1629.47 1401.80 L 1629.47 1406.70" style="stroke: #000000; stroke-width: 1.48"/>
      </g>
     </g>
    </g>
    <g id="xtick_66">
     <g id="line2d_173">
      <g>
       <path d="M 1673.70 1401.80 L 1673.70 1406.70" style="stroke: #000000; stroke-width: 1.48"/>
      </g>
     </g>
    </g>
    <g id="xtick_67">
     <g id="line2d_174">
      <g>
       <path d="M 1709.84 1401.80 L 1709.84 1406.70" style="stroke: #000000; stroke-width: 1.48"/>
      </g>
     </g>
    </g>
    <g id="xtick_68">
     <g id="line2d_175">
      <g>
       <path d="M 1740.40 1401.80 L 1740.40 1406.70" style="stroke: #000000; stroke-width: 1.48"/>
      </g>
     </g>
    </g>
    <g id="xtick_69">
     <g id="line2d_176">
      <g>
       <path d="M 1766.87 1401.80 L 1766.87 1406.70" style="stroke: #000000; stroke-width: 1.48"/>
      </g>
     </g>
    </g>
    <g id="xtick_70">
     <g id="line2d_177">
      <g>
       <path d="M 1790.22 1401.80 L 1790.22 1406.70" style="stroke: #000000; stroke-width: 1.48"/>
      </g>
     </g>
    </g>
    <g id="xtick_71">
     <g id="line2d_178">
      <g>
       <path d="M 1948.52 1401.80 L 1948.52 1406.70" style="stroke: #000000; stroke-width: 1.48"/>
      </g>
     </g>
    </g>
    <g id="xtick_72">
     <g id="line2d_179">
      <g>
       <path d="M 2028.90 1401.80 L 2028.90 1406.70" style="stroke: #000000; stroke-width: 1.48"/>
      </g>
     </g>
    </g>
    <g id="text_27">
     <text style="font-size: 36px; font-family: 'DejaVu Sans'; text-anchor: middle" x="1600.95" y="1483.504844" transform="rotate(-0 1600.95 1483.504844)">Peak flux (counts/8ms)</text>
    </g>
   </g>
   <g id="matplotlib.axis_8">
    <g id="ytick_98">
     <g id="line2d_180">
      <g>
       <path d="M 1173.00 1401.80 L 1164.40 1401.80" style="stroke: #000000; stroke-width: 1.97"/>
      </g>
     </g>
     <g id="text_28">
      <!-- $\mathdefault{10^{-1}}$ -->
      <g transform="translate(1086.475 1413.007695)">
       <text>
        <tspan x="0" y="-0.203125" style="font-size: 29.5px; font-family: 'DejaVu Sans'">1</tspan>
        <tspan x="18.768799" y="-0.203125" style="font-size: 29.5px; font-family: 'DejaVu Sans'">0</tspan>
        <tspan x="37.824707" y="-11.6875" style="font-size: 20.65px; font-family: 'DejaVu Sans'">−</tspan>
        <tspan x="55.127148" y="-11.6875" style="font-size: 20.65px; font-family: 'DejaVu Sans'">1</tspan>
       </text>
      </g>
     </g>
    </g>
    <g id="ytick_99">
     <g id="line2d_181">
      <g>
       <path d="M 1173.00 1228.94 L 1164.40 1228.94" style="stroke: #000000; stroke-width: 1.97"/>
      </g>
     </g>
     <g id="text_29">
      <!-- $\mathdefault{10^{0}}$ -->
      <g transform="translate(1103.88 1240.152556)">
       <text>
        <tspan x="0" y="-0.929688" style="font-size: 29.5px; font-family: 'DejaVu Sans'">1</tspan>
        <tspan x="18.768799" y="-0.929688" style="font-size: 29.5px; font-family: 'DejaVu Sans'">0</tspan>
        <tspan x="37.824707" y="-12.414062" style="font-size: 20.65px; font-family: 'DejaVu Sans'">0</tspan>
       </text>
      </g>
     </g>
    </g>
    <g id="ytick_100">
     <g id="line2d_182">
      <g>
       <path d="M 1173.00 1056.09 L 1164.40 1056.09" style="stroke: #000000; stroke-width: 1.97"/>
      </g>
     </g>
     <g id="text_30">
      <!-- $\mathdefault{10^{1}}$ -->
      <g transform="translate(1103.88 1067.297417)">
       <text>
        <tspan x="0" y="-0.203125" style="font-size: 29.5px; font-family: 'DejaVu Sans'">1</tspan>
        <tspan x="18.768799" y="-0.203125" style="font-size: 29.5px; font-family: 'DejaVu Sans'">0</tspan>
        <tspan x="37.824707" y="-11.6875" style="font-size: 20.65px; font-family: 'DejaVu Sans'">1</tspan>
       </text>
      </g>
     </g>
    </g>
    <g id="ytick_101">
     <g id="line2d_183">
      <g>
       <path d="M 1173.00 883.23 L 1164.40 883.23" style="stroke: #000000; stroke-width: 1.97"/>
      </g>
     </g>
     <g id="text_31">
      <!-- $\mathdefault{10^{2}}$ -->
      <g transform="translate(1103.88 894.442277)">
       <text>
        <tspan x="0" y="-0.929688" style="font-size: 29.5px; font-family: 'DejaVu Sans'">1</tspan>
        <tspan x="18.768799" y="-0.929688" style="font-size: 29.5px; font-family: 'DejaVu Sans'">0</tspan>
        <tspan x="37.824707" y="-12.414062" style="font-size: 20.65px; font-family: 'DejaVu Sans'">2</tspan>
       </text>
      </g>
     </g>
    </g>
    <g id="ytick_102">
     <g id="line2d_184">
      <g>
       <path d="M 1173.00 1349.77 L 1168.10 1349.77" style="stroke: #000000; stroke-width: 1.48"/>
      </g>
     </g>
    </g>
    <g id="ytick_103">
     <g id="line2d_185">
      <g>
       <path d="M 1173.00 1319.33 L 1168.10 1319.33" style="stroke: #000000; stroke-width: 1.48"/>
      </g>
     </g>
    </g>
    <g id="ytick_104">
     <g id="line2d_186">
      <g>
       <path d="M 1173.00 1297.73 L 1168.10 1297.73" style="stroke: #000000; stroke-width: 1.48"/>
      </g>
     </g>
    </g>
    <g id="ytick_105">
     <g id="line2d_187">
      <g>
       <path d="M 1173.00 1280.98 L 1168.10 1280.98" style="stroke: #000000; stroke-width: 1.48"/>
      </g>
     </g>
    </g>
    <g id="ytick_106">
     <g id="line2d_188">
      <g>
       <path d="M 1173.00 1267.29 L 1168.10 1267.29" style="stroke: #000000; stroke-width: 1.48"/>
      </g>
     </g>
    </g>
    <g id="ytick_107">
     <g id="line2d_189">
      <g>
       <path d="M 1173.00 1255.72 L 1168.10 1255.72" style="stroke: #000000; stroke-width: 1.48"/>
      </g>
     </g>
    </g>
    <g id="ytick_108">
     <g id="line2d_190">
      <g>
       <path d="M 1173.00 1245.70 L 1168.10 1245.70" style="stroke: #000000; stroke-width: 1.48"/>
      </g>
     </g>
    </g>
    <g id="ytick_109">
     <g id="line2d_191">
      <g>
       <path d="M 1173.00 1236.85 L 1168.10 1236.85" style="stroke: #000000; stroke-width: 1.48"/>
      </g>
     </g>
    </g>
    <g id="ytick_110">
     <g id="line2d_192">
      <g>
       <path d="M 1173.00 1176.91 L 1168.10 1176.91" style="stroke: #000000; stroke-width: 1.48"/>
      </g>
     </g>
    </g>
    <g id="ytick_111">
     <g id="line2d_193">
      <g>
       <path d="M 1173.00 1146.47 L 1168.10 1146.47" style="stroke: #000000; stroke-width: 1.48"/>
      </g>
     </g>
    </g>
    <g id="ytick_112">
     <g id="line2d_194">
      <g>
       <path d="M 1173.00 1124.88 L 1168.10 1124.88" style="stroke: #000000; stroke-width: 1.48"/>
      </g>
     </g>
    </g>
    <g id="ytick_113">
     <g id="line2d_195">
      <g>
       <path d="M 1173.00 1108.12 L 1168.10 1108.12" style="stroke: #000000; stroke-width: 1.48"/>
      </g>
     </g>
    </g>
    <g id="ytick_114">
     <g id="line2d_196">
      <g>
       <path d="M 1173.00 1094.44 L 1168.10 1094.44" style="stroke: #000000; stroke-width: 1.48"/>
      </g>
     </g>
    </g>
    <g id="ytick_115">
     <g id="line2d_197">
      <g>
       <path d="M 1173.00 1082.87 L 1168.10 1082.87" style="stroke: #000000; stroke-width: 1.48"/>
      </g>
     </g>
    </g>
    <g id="ytick_116">
     <g id="line2d_198">
      <g>
       <path d="M 1173.00 1072.84 L 1168.10 1072.84" style="stroke: #000000; stroke-width: 1.48"/>
      </g>
     </g>
    </g>
    <g id="ytick_117">
     <g id="line2d_199">
      <g>
       <path d="M 1173.00 1064.00 L 1168.10 1064.00" style="stroke: #000000; stroke-width: 1.48"/>
      </g>
     </g>
    </g>
    <g id="ytick_118">
     <g id="line2d_200">
      <g>
       <path d="M 1173.00 1004.06 L 1168.10 1004.06" style="stroke: #000000; stroke-width: 1.48"/>
      </g>
     </g>
    </g>
    <g id="ytick_119">
     <g id="line2d_201">
      <g>
       <path d="M 1173.00 973.62 L 1168.10 973.62" style="stroke: #000000; stroke-width: 1.48"/>
      </g>
     </g>
    </g>
    <g id="ytick_120">
     <g id="line2d_202">
      <g>
       <path d="M 1173.00 952.02 L 1168.10 952.02" style="stroke: #000000; stroke-width: 1.48"/>
      </g>
     </g>
    </g>
    <g id="ytick_121">
     <g id="line2d_203">
      <g>
       <path d="M 1173.00 935.27 L 1168.10 935.27" style="stroke: #000000; stroke-width: 1.48"/>
      </g>
     </g>
    </g>
    <g id="ytick_122">
     <g id="line2d_204">
      <g>
       <path d="M 1173.00 921.58 L 1168.10 921.58" style="stroke: #000000; stroke-width: 1.48"/>
      </g>
     </g>
    </g>
    <g id="ytick_123">
     <g id="line2d_205">
      <g>
       <path d="M 1173.00 910.01 L 1168.10 910.01" style="stroke: #000000; stroke-width: 1.48"/>
      </g>
     </g>
    </g>
    <g id="ytick_124">
     <g id="line2d_206">
      <g>
       <path d="M 1173.00 899.99 L 1168.10 899.99" style="stroke: #000000; stroke-width: 1.48"/>
      </g>
     </g>
    </g>
    <g id="ytick_125">
     <g id="line2d_207">
      <g>
       <path d="M 1173.00 891.14 L 1168.10 891.14" style="stroke: #000000; stroke-width: 1.48"/>
      </g>
     </g>
    </g>
    <g id="ytick_126">
     <g id="line2d_208">
      <g>
       <path d="M 1173.00 831.20 L 1168.10 831.20" style="stroke: #000000; stroke-width: 1.48"/>
      </g>
     </g>
    </g>
    <g id="text_32">
     <text style="font-size: 36px; font-family: 'DejaVu Sans'; text-anchor: middle" x="1070.388125" y="1116.5" transform="rotate(-90 1070.388125 1116.5)">Number (&gt;Peak flux)</text>
    </g>
   </g>
   <g id="LineCollection_4">
    <path d="M 1913.1 1920.365418 
L 1913.1 1176.910279 
" clip-path="url(#p4862ee702b)" style="fill: none; stroke: #000000; stroke-width: 3.3"/>
    <path d="M 1899.5 1269.092314 
L 1899.5 1136.762825 
" clip-path="url(#p4862ee702b)" style="fill: none; stroke: #000000; stroke-width: 3.3"/>
    <path d="M 1798.8 1211.123176 
L 1798.8 1112.259103 
" clip-path="url(#p4862ee702b)" style="fill: none; stroke: #000000; stroke-width: 3.3"/>
    <path d="M 1736.3 1176.910279 
L 1736.3 1094.437418 
" clip-path="url(#p4862ee702b)" style="fill: none; stroke: #000000; stroke-width: 3.3"/>
    <path d="M 1729.6 1152.624588 
L 1729.6 1080.375412 
" clip-path="url(#p4862ee702b)" style="fill: none; stroke: #000000; stroke-width: 3.3"/>
    <path d="M 1729 1133.824273 
L 1729 1068.737448 
" clip-path="url(#p4862ee702b)" style="fill: none; stroke: #000000; stroke-width: 3.3"/>
    <path d="M 1724.3 1118.505425 
L 1724.3 1058.797314 
" clip-path="url(#p4862ee702b)" style="fill: none; stroke: #000000; stroke-width: 3.3"/>
    <path d="M 1722.3 1105.591518 
L 1722.3 1050.114918 
" clip-path="url(#p4862ee702b)" style="fill: none; stroke: #000000; stroke-width: 3.3"/>
    <path d="M 1712.9 1094.437418 
L 1712.9 1042.402836 
" clip-path="url(#p4862ee702b)" style="fill: none; stroke: #000000; stroke-width: 3.3"/>
    <path d="M 1703.6 1084.626124 
L 1703.6 1035.462736 
" clip-path="url(#p4862ee702b)" style="fill: none; stroke: #000000; stroke-width: 3.3"/>
    <path d="M 1687.5 1075.872639 
L 1687.5 1029.151865 
" clip-path="url(#p4862ee702b)" style="fill: none; stroke: #000000; stroke-width: 3.3"/>
    <path d="M 1684.9 1067.973644 
L 1684.9 1023.363975 
" clip-path="url(#p4862ee702b)" style="fill: none; stroke: #000000; stroke-width: 3.3"/>
    <path d="M 1677.5 1060.779056 
L 1677.5 1018.017807 
" clip-path="url(#p4862ee702b)" style="fill: none; stroke: #000000; stroke-width: 3.3"/>
    <path d="M 1664.2 1054.17497 
L 1664.2 1013.049796 
" clip-path="url(#p4862ee702b)" style="fill: none; stroke: #000000; stroke-width: 3.3"/>
    <path d="M 1656.2 1048.072918 
L 1656.2 1008.409263 
" clip-path="url(#p4862ee702b)" style="fill: none; stroke: #000000; stroke-width: 3.3"/>
    <path d="M 1645.5 1042.402836 
L 1645.5 1004.055139 
" clip-path="url(#p4862ee702b)" style="fill: none; stroke: #000000; stroke-width: 3.3"/>
    <path d="M 1642.8 1037.108302 
L 1642.8 999.953672 
" clip-path="url(#p4862ee702b)" style="fill: none; stroke: #000000; stroke-width: 3.3"/>
    <path d="M 1636.1 1032.143221 
L 1636.1 996.076777 
" clip-path="url(#p4862ee702b)" style="fill: none; stroke: #000000; stroke-width: 3.3"/>
    <path d="M 1624.8 1027.46945 
L 1624.8 992.400836 
" clip-path="url(#p4862ee702b)" style="fill: none; stroke: #000000; stroke-width: 3.3"/>
    <path d="M 1620.1 1023.055078 
L 1620.1 988.90579 
" clip-path="url(#p4862ee702b)" style="fill: none; stroke: #000000; stroke-width: 3.3"/>
    <path d="M 1612.1 1018.873142 
L 1612.1 985.574458 
" clip-path="url(#p4862ee702b)" style="fill: none; stroke: #000000; stroke-width: 3.3"/>
    <path d="M 1602.7 1014.900651 
L 1602.7 982.39201 
" clip-path="url(#p4862ee702b)" style="fill: none; stroke: #000000; stroke-width: 3.3"/>
    <path d="M 1598.7 1011.117853 
L 1598.7 979.345553 
" clip-path="url(#p4862ee702b)" style="fill: none; stroke: #000000; stroke-width: 3.3"/>
    <path d="M 1581 1007.507648 
L 1581 976.423811 
" clip-path="url(#p4862ee702b)" style="fill: none; stroke: #000000; stroke-width: 3.3"/>
    <path d="M 1580 1004.055139 
L 1580 973.61686 
" clip-path="url(#p4862ee702b)" style="fill: none; stroke: #000000; stroke-width: 3.3"/>
    <path d="M 1579 1000.747269 
L 1579 970.915922 
" clip-path="url(#p4862ee702b)" style="fill: none; stroke: #000000; stroke-width: 3.3"/>
    <path d="M 1577.4 997.572529 
L 1577.4 968.313194 
" clip-path="url(#p4862ee702b)" style="fill: none; stroke: #000000; stroke-width: 3.3"/>
    <path d="M 1568.7 994.520726 
L 1568.7 965.801709 
" clip-path="url(#p4862ee702b)" style="fill: none; stroke: #000000; stroke-width: 3.3"/>
    <path d="M 1567 991.58279 
L 1567 963.375218 
" clip-path="url(#p4862ee702b)" style="fill: none; stroke: #000000; stroke-width: 3.3"/>
    <path d="M 1565.3 988.750613 
L 1565.3 961.028098 
" clip-path="url(#p4862ee702b)" style="fill: none; stroke: #000000; stroke-width: 3.3"/>
    <path d="M 1560 986.01692 
L 1560 958.755267 
" clip-path="url(#p4862ee702b)" style="fill: none; stroke: #000000; stroke-width: 3.3"/>
    <path d="M 1553.8 983.375159 
L 1553.8 956.55212 
" clip-path="url(#p4862ee702b)" style="fill: none; stroke: #000000; stroke-width: 3.3"/>
    <path d="M 1553 980.819405 
L 1553 954.414468 
" clip-path="url(#p4862ee702b)" style="fill: none; stroke: #000000; stroke-width: 3.3"/>
    <path d="M 1552.1 978.34429 
L 1552.1 952.338491 
" clip-path="url(#p4862ee702b)" style="fill: none; stroke: #000000; stroke-width: 3.3"/>
    <path d="M 1539.6 975.944927 
L 1539.6 950.320696 
" clip-path="url(#p4862ee702b)" style="fill: none; stroke: #000000; stroke-width: 3.3"/>
    <path d="M 1527.1 973.61686 
L 1527.1 948.357878 
" clip-path="url(#p4862ee702b)" style="fill: none; stroke: #000000; stroke-width: 3.3"/>
    <path d="M 1525.4 971.356014 
L 1525.4 946.447094 
" clip-path="url(#p4862ee702b)" style="fill: none; stroke: #000000; stroke-width: 3.3"/>
    <path d="M 1524 969.158651 
L 1524 944.585629 
" clip-path="url(#p4862ee702b)" style="fill: none; stroke: #000000; stroke-width: 3.3"/>
    <path d="M 1518.7 967.021335 
L 1518.7 942.770978 
" clip-path="url(#p4862ee702b)" style="fill: none; stroke: #000000; stroke-width: 3.3"/>
    <path d="M 1503.7 964.9409 
L 1503.7 941.000823 
" clip-path="url(#p4862ee702b)" style="fill: none; stroke: #000000; stroke-width: 3.3"/>
    <path d="M 1492 962.914426 
L 1492 939.273014 
" clip-path="url(#p4862ee702b)" style="fill: none; stroke: #000000; stroke-width: 3.3"/>
    <path d="M 1488.7 960.939207 
L 1488.7 937.585554 
" clip-path="url(#p4862ee702b)" style="fill: none; stroke: #000000; stroke-width: 3.3"/>
    <path d="M 1458 959.012737 
L 1458 935.936584 
" clip-path="url(#p4862ee702b)" style="fill: none; stroke: #000000; stroke-width: 3.3"/>
    <path d="M 1457 957.13269 
L 1457 934.324373 
" clip-path="url(#p4862ee702b)" style="fill: none; stroke: #000000; stroke-width: 3.3"/>
    <path d="M 1446.9 955.296898 
L 1446.9 932.747303 
" clip-path="url(#p4862ee702b)" style="fill: none; stroke: #000000; stroke-width: 3.3"/>
    <path d="M 1446.6 953.503344 
L 1446.6 931.203861 
" clip-path="url(#p4862ee702b)" style="fill: none; stroke: #000000; stroke-width: 3.3"/>
    <path d="M 1428.6 951.750145 
L 1428.6 929.692631 
" clip-path="url(#p4862ee702b)" style="fill: none; stroke: #000000; stroke-width: 3.3"/>
    <path d="M 1423.6 950.035539 
L 1423.6 928.212285 
" clip-path="url(#p4862ee702b)" style="fill: none; stroke: #000000; stroke-width: 3.3"/>
    <path d="M 1412.7 948.357878 
L 1412.7 926.761576 
" clip-path="url(#p4862ee702b)" style="fill: none; stroke: #000000; stroke-width: 3.3"/>
    <path d="M 1411 946.715617 
L 1411 925.339328 
" clip-path="url(#p4862ee702b)" style="fill: none; stroke: #000000; stroke-width: 3.3"/>
    <path d="M 1409.4 945.107304 
L 1409.4 923.944439 
" clip-path="url(#p4862ee702b)" style="fill: none; stroke: #000000; stroke-width: 3.3"/>
    <path d="M 1403.2 943.531576 
L 1403.2 922.575867 
" clip-path="url(#p4862ee702b)" style="fill: none; stroke: #000000; stroke-width: 3.3"/>
    <path d="M 1369.3 941.987149 
L 1369.3 921.23263 
" clip-path="url(#p4862ee702b)" style="fill: none; stroke: #000000; stroke-width: 3.3"/>
    <path d="M 1310.9 940.472813 
L 1310.9 919.913798 
" clip-path="url(#p4862ee702b)" style="fill: none; stroke: #000000; stroke-width: 3.3"/>
   </g>
   <g id="line2d_209">
    <path d="M 1310.9 929.7 
L 1323.004523 931.149263 
L 1338.135176 933.199834 
L 1353.265829 935.479075 
L 1371.422613 938.465023 
L 1380.501005 940.147521 
L 1392.605528 942.613371 
L 1425.892965 949.567018 
L 1462.206533 956.66793 
L 1471.284925 958.671631 
L 1483.389447 961.614616 
L 1495.49397 964.802333 
L 1513.650754 969.850129 
L 1534.833668 975.923647 
L 1552.990452 981.393468 
L 1574.173367 988.025284 
L 1598.382412 995.788776 
L 1610.486935 999.92241 
L 1619.565327 1003.223664 
L 1628.643719 1006.7654 
L 1637.722111 1010.549103 
L 1649.826633 1015.861898 
L 1671.009548 1025.477294 
L 1683.11407 1031.173295 
L 1701.270854 1039.782403 
L 1716.401508 1046.501021 
L 1725.479899 1050.643196 
L 1737.584422 1056.529427 
L 1749.688945 1062.709898 
L 1767.845729 1072.294603 
L 1773.89799 1075.801422 
L 1779.950251 1079.668244 
L 1786.002513 1083.967429 
L 1792.054774 1088.580219 
L 1804.159296 1098.210556 
L 1813.237688 1105.712175 
L 1822.31608 1113.547903 
L 1831.394472 1121.663754 
L 1840.472864 1130.056147 
L 1849.551256 1138.831591 
L 1858.629648 1148.029382 
L 1864.68191 1154.32492 
L 1870.734171 1160.923317 
L 1876.786432 1168.002832 
L 1882.838693 1175.722043 
L 1885.864824 1179.844224 
L 1888.890955 1184.162212 
L 1891.917085 1188.693483 
L 1894.943216 1193.455516 
L 1897.969347 1198.465789 
L 1900.995477 1203.914488 
L 1904.021608 1209.932541 
L 1913.1 1228.6 
L 1913.1 1228.6 
" clip-path="url(#p4862ee702b)" style="fill: none; stroke: #008000; stroke-width: 4.9"/>
   </g>
   <g id="line2d_210">
    <g clip-path="url(#p4862ee702b)">
     <circle cx="1913.10" cy="1228.94" r="4.500" style="stroke: #000000"/>
     <circle cx="1899.50" cy="1176.91" r="4.500" style="stroke: #000000"/>
     <circle cx="1798.80" cy="1146.47" r="4.500" style="stroke: #000000"/>
     <circle cx="1736.30" cy="1124.88" r="4.500" style="stroke: #000000"/>
     <circle cx="1729.60" cy="1108.12" r="4.500" style="stroke: #000000"/>
     <circle cx="1729.00" cy="1094.44" r="4.500" style="stroke: #000000"/>
     <circle cx="1724.30" cy="1082.87" r="4.500" style="stroke: #000000"/>
     <circle cx="1722.30" cy="1072.84" r="4.500" style="stroke: #000000"/>
     <circle cx="1712.90" cy="1064.00" r="4.500" style="stroke: #000000"/>
     <circle cx="1703.60" cy="1056.09" r="4.500" style="stroke: #000000"/>
     <circle cx="1687.50" cy="1048.93" r="4.500" style="stroke: #000000"/>
     <circle cx="1684.90" cy="1042.40" r="4.500" style="stroke: #000000"/>
     <circle cx="1677.50" cy="1036.39" r="4.500" style="stroke: #000000"/>
     <circle cx="1664.20" cy="1030.83" r="4.500" style="stroke: #000000"/>
     <circle cx="1656.20" cy="1025.65" r="4.500" style="stroke: #000000"/>
     <circle cx="1645.50" cy="1020.81" r="4.500" style="stroke: #000000"/>
     <circle cx="1642.80" cy="1016.26" r="4.500" style="stroke: #000000"/>
     <circle cx="1636.10" cy="1011.96" r="4.500" style="stroke: #000000"/>
     <circle cx="1624.80" cy="1007.91" r="4.500" style="stroke: #000000"/>
     <circle cx="1620.10" cy="1004.06" r="4.500" style="stroke: #000000"/>
     <circle cx="1612.10" cy="1000.39" r="4.500" style="stroke: #000000"/>
     <circle cx="1602.70" cy="996.90" r="4.500" style="stroke: #000000"/>
     <circle cx="1598.70" cy="993.56" r="4.500" style="stroke: #000000"/>
     <circle cx="1581.00" cy="990.37" r="4.500" style="stroke: #000000"/>
     <circle cx="1580.00" cy="987.30" r="4.500" style="stroke: #000000"/>
     <circle cx="1579.00" cy="984.36" r="4.500" style="stroke: #000000"/>
     <circle cx="1577.40" cy="981.53" r="4.500" style="stroke: #000000"/>
     <circle cx="1568.70" cy="978.80" r="4.500" style="stroke: #000000"/>
     <circle cx="1567.00" cy="976.16" r="4.500" style="stroke: #000000"/>
     <circle cx="1565.30" cy="973.62" r="4.500" style="stroke: #000000"/>
     <circle cx="1560.00" cy="971.16" r="4.500" style="stroke: #000000"/>
     <circle cx="1553.80" cy="968.77" r="4.500" style="stroke: #000000"/>
     <circle cx="1553.00" cy="966.46" r="4.500" style="stroke: #000000"/>
     <circle cx="1552.10" cy="964.22" r="4.500" style="stroke: #000000"/>
     <circle cx="1539.60" cy="962.04" r="4.500" style="stroke: #000000"/>
     <circle cx="1527.10" cy="959.93" r="4.500" style="stroke: #000000"/>
     <circle cx="1525.40" cy="957.87" r="4.500" style="stroke: #000000"/>
     <circle cx="1524.00" cy="955.87" r="4.500" style="stroke: #000000"/>
     <circle cx="1518.70" cy="953.92" r="4.500" style="stroke: #000000"/>
     <circle cx="1503.70" cy="952.02" r="4.500" style="stroke: #000000"/>
     <circle cx="1492.00" cy="950.17" r="4.500" style="stroke: #000000"/>
     <circle cx="1488.70" cy="948.36" r="4.500" style="stroke: #000000"/>
     <circle cx="1458.00" cy="946.59" r="4.500" style="stroke: #000000"/>
     <circle cx="1457.00" cy="944.87" r="4.500" style="stroke: #000000"/>
     <circle cx="1446.90" cy="943.18" r="4.500" style="stroke: #000000"/>
     <circle cx="1446.60" cy="941.53" r="4.500" style="stroke: #000000"/>
     <circle cx="1428.60" cy="939.91" r="4.500" style="stroke: #000000"/>
     <circle cx="1423.60" cy="938.33" r="4.500" style="stroke: #000000"/>
     <circle cx="1412.70" cy="936.79" r="4.500" style="stroke: #000000"/>
     <circle cx="1411.00" cy="935.27" r="4.500" style="stroke: #000000"/>
     <circle cx="1409.40" cy="933.78" r="4.500" style="stroke: #000000"/>
     <circle cx="1403.20" cy="932.32" r="4.500" style="stroke: #000000"/>
     <circle cx="1369.30" cy="930.89" r="4.500" style="stroke: #000000"/>
     <circle cx="1310.90" cy="929.49" r="4.500" style="stroke: #000000"/>
    </g>
   </g>
   <g id="patch_22">
    <path d="M 1173 1401.8 
L 1173 831.2 
" style="fill: none; stroke: #000000; stroke-width: 1.97; stroke-linejoin: miter; stroke-linecap: square"/>
   </g>
   <g id="patch_23">
    <path d="M 2028.9 1401.8 
L 2028.9 831.2 
" style="fill: none; stroke: #000000; stroke-width: 1.97; stroke-linejoin: miter; stroke-linecap: square"/>
   </g>
   <g id="patch_24">
    <path d="M 1173 1401.8 
L 2028.9 1401.8 
" style="fill: none; stroke: #000000; stroke-width: 1.97; stroke-linejoin: miter; stroke-linecap: square"/>
   </g>
   <g id="patch_25">
    <path d="M 1173 831.2 
L 2028.9 831.2 
" style="fill: none; stroke: #000000; stroke-width: 1.97; stroke-linejoin: miter; stroke-linecap: square"/>
   </g>
  </g>
  <g id="axes_5">
   <g id="patch_26">
    <path d="M 134.1 2205.6 
L 989.9 2205.6 
L 989.9 1635 
L 134.1 1635 
z
" style="fill: #ffffff"/>
   </g>
   <g id="patch_27">
    <path d="M 258 1710.6 
L 377 1737.5 
L 471.5 1768.5 
L 540 1797 
L 640 1840 
L 657.4 1849.4 
L 729.5 1893.5 
L 772.2 1922.8 
L 786.9 1940.2 
L 800.3 1953 
L 827 1977 
L 847 2001 
L 860.4 2028.3 
L 860.4 2030 
L 853.7 2023 
L 827 1993.6 
L 800.3 1966.9 
L 772.2 1938.9 
L 730.8 1908.1 
L 680.1 1873.4 
L 640 1853.4 
L 540 1806.5 
L 471.5 1777.5 
L 377 1743.5 
L 258 1715.6 
z
" clip-path="url(#pfb617a9fd6)" style="fill: #4d4d4d"/>
   </g>
   <g id="line2d_211">
    <path d="M 376.9 1635 
L 376.9 2205.6 
" clip-path="url(#pfb617a9fd6)" style="fill: none; stroke-dasharray: 3.57,5.91; stroke-dashoffset: 5.365; stroke: #0000ff; stroke-width: 3.57"/>
   </g>
   <g id="matplotlib.axis_9">
    <g id="xtick_73">
     <g id="line2d_212">
      <g>
       <path d="M 269.47 2205.60 L 269.47 2214.20" style="stroke: #000000; stroke-width: 1.97"/>
      </g>
     </g>
     <g id="text_33">
      <!-- $\mathdefault{10^{-1}}$ -->
      <g transform="translate(234.807594 2245.215391)">
       <text>
        <tspan x="0" y="-0.203125" style="font-size: 29.5px; font-family: 'DejaVu Sans'">1</tspan>
        <tspan x="18.768799" y="-0.203125" style="font-size: 29.5px; font-family: 'DejaVu Sans'">0</tspan>
        <tspan x="37.824707" y="-11.6875" style="font-size: 20.65px; font-family: 'DejaVu Sans'">−</tspan>
        <tspan x="55.127148" y="-11.6875" style="font-size: 20.65px; font-family: 'DejaVu Sans'">1</tspan>
       </text>
      </g>
     </g>
    </g>
    <g id="xtick_74">
     <g id="line2d_213">
      <g>
       <path d="M 719.16 2205.60 L 719.16 2214.20" style="stroke: #000000; stroke-width: 1.97"/>
      </g>
     </g>
     <g id="text_34">
      <!-- $\mathdefault{10^{0}}$ -->
      <g transform="translate(693.199812 2245.215391)">
       <text>
        <tspan x="0" y="-0.929688" style="font-size: 29.5px; font-family: 'DejaVu Sans'">1</tspan>
        <tspan x="18.768799" y="-0.929688" style="font-size: 29.5px; font-family: 'DejaVu Sans'">0</tspan>
        <tspan x="37.824707" y="-12.414062" style="font-size: 20.65px; font-family: 'DejaVu Sans'">0</tspan>
       </text>
      </g>
     </g>
    </g>
    <g id="xtick_75">
     <g id="line2d_214">
      <g>
       <path d="M 134.10 2205.60 L 134.10 2210.50" style="stroke: #000000; stroke-width: 1.48"/>
      </g>
     </g>
    </g>
    <g id="xtick_76">
     <g id="line2d_215">
      <g>
       <path d="M 169.71 2205.60 L 169.71 2210.50" style="stroke: #000000; stroke-width: 1.48"/>
      </g>
     </g>
    </g>
    <g id="xtick_77">
     <g id="line2d_216">
      <g>
       <path d="M 199.81 2205.60 L 199.81 2210.50" style="stroke: #000000; stroke-width: 1.48"/>
      </g>
     </g>
    </g>
    <g id="xtick_78">
     <g id="line2d_217">
      <g>
       <path d="M 225.89 2205.60 L 225.89 2210.50" style="stroke: #000000; stroke-width: 1.48"/>
      </g>
     </g>
    </g>
    <g id="xtick_79">
     <g id="line2d_218">
      <g>
       <path d="M 248.89 2205.60 L 248.89 2210.50" style="stroke: #000000; stroke-width: 1.48"/>
      </g>
     </g>
    </g>
    <g id="xtick_80">
     <g id="line2d_219">
      <g>
       <path d="M 404.84 2205.60 L 404.84 2210.50" style="stroke: #000000; stroke-width: 1.48"/>
      </g>
     </g>
    </g>
    <g id="xtick_81">
     <g id="line2d_220">
      <g>
       <path d="M 484.03 2205.60 L 484.03 2210.50" style="stroke: #000000; stroke-width: 1.48"/>
      </g>
     </g>
    </g>
    <g id="xtick_82">
     <g id="line2d_221">
      <g>
       <path d="M 540.21 2205.60 L 540.21 2210.50" style="stroke: #000000; stroke-width: 1.48"/>
      </g>
     </g>
    </g>
    <g id="xtick_83">
     <g id="line2d_222">
      <g>
       <path d="M 583.79 2205.60 L 583.79 2210.50" style="stroke: #000000; stroke-width: 1.48"/>
      </g>
     </g>
    </g>
    <g id="xtick_84">
     <g id="line2d_223">
      <g>
       <path d="M 619.40 2205.60 L 619.40 2210.50" style="stroke: #000000; stroke-width: 1.48"/>
      </g>
     </g>
    </g>
    <g id="xtick_85">
     <g id="line2d_224">
      <g>
       <path d="M 649.50 2205.60 L 649.50 2210.50" style="stroke: #000000; stroke-width: 1.48"/>
      </g>
     </g>
    </g>
    <g id="xtick_86">
     <g id="line2d_225">
      <g>
       <path d="M 675.58 2205.60 L 675.58 2210.50" style="stroke: #000000; stroke-width: 1.48"/>
      </g>
     </g>
    </g>
    <g id="xtick_87">
     <g id="line2d_226">
      <g>
       <path d="M 698.58 2205.60 L 698.58 2210.50" style="stroke: #000000; stroke-width: 1.48"/>
      </g>
     </g>
    </g>
    <g id="xtick_88">
     <g id="line2d_227">
      <g>
       <path d="M 854.53 2205.60 L 854.53 2210.50" style="stroke: #000000; stroke-width: 1.48"/>
      </g>
     </g>
    </g>
    <g id="xtick_89">
     <g id="line2d_228">
      <g>
       <path d="M 933.72 2205.60 L 933.72 2210.50" style="stroke: #000000; stroke-width: 1.48"/>
      </g>
     </g>
    </g>
    <g id="xtick_90">
     <g id="line2d_229">
      <g>
       <path d="M 989.90 2205.60 L 989.90 2210.50" style="stroke: #000000; stroke-width: 1.48"/>
      </g>
     </g>
    </g>
    <g id="text_35">
     <text style="font-size: 36px; font-family: 'DejaVu Sans'; text-anchor: middle" x="562" y="2287.304844" transform="rotate(-0 562 2287.304844)">Peak flux (counts/8ms)</text>
    </g>
   </g>
   <g id="matplotlib.axis_10">
    <g id="ytick_127">
     <g id="line2d_230">
      <g>
       <path d="M 134.10 2205.60 L 125.50 2205.60" style="stroke: #000000; stroke-width: 1.97"/>
      </g>
     </g>
     <g id="text_36">
      <!-- $\mathdefault{10^{-1}}$ -->
      <g transform="translate(47.575 2216.807695)">
       <text>
        <tspan x="0" y="-0.203125" style="font-size: 29.5px; font-family: 'DejaVu Sans'">1</tspan>
        <tspan x="18.768799" y="-0.203125" style="font-size: 29.5px; font-family: 'DejaVu Sans'">0</tspan>
        <tspan x="37.824707" y="-11.6875" style="font-size: 20.65px; font-family: 'DejaVu Sans'">−</tspan>
        <tspan x="55.127148" y="-11.6875" style="font-size: 20.65px; font-family: 'DejaVu Sans'">1</tspan>
       </text>
      </g>
     </g>
    </g>
    <g id="ytick_128">
     <g id="line2d_231">
      <g>
       <path d="M 134.10 2032.74 L 125.50 2032.74" style="stroke: #000000; stroke-width: 1.97"/>
      </g>
     </g>
     <g id="text_37">
      <!-- $\mathdefault{10^{0}}$ -->
      <g transform="translate(64.98 2043.952556)">
       <text>
        <tspan x="0" y="-0.929688" style="font-size: 29.5px; font-family: 'DejaVu Sans'">1</tspan>
        <tspan x="18.768799" y="-0.929688" style="font-size: 29.5px; font-family: 'DejaVu Sans'">0</tspan>
        <tspan x="37.824707" y="-12.414062" style="font-size: 20.65px; font-family: 'DejaVu Sans'">0</tspan>
       </text>
      </g>
     </g>
    </g>
    <g id="ytick_129">
     <g id="line2d_232">
      <g>
       <path d="M 134.10 1859.89 L 125.50 1859.89" style="stroke: #000000; stroke-width: 1.97"/>
      </g>
     </g>
     <g id="text_38">
      <!-- $\mathdefault{10^{1}}$ -->
      <g transform="translate(64.98 1871.097417)">
       <text>
        <tspan x="0" y="-0.203125" style="font-size: 29.5px; font-family: 'DejaVu Sans'">1</tspan>
        <tspan x="18.768799" y="-0.203125" style="font-size: 29.5px; font-family: 'DejaVu Sans'">0</tspan>
        <tspan x="37.824707" y="-11.6875" style="font-size: 20.65px; font-family: 'DejaVu Sans'">1</tspan>
       </text>
      </g>
     </g>
    </g>
    <g id="ytick_130">
     <g id="line2d_233">
      <g>
       <path d="M 134.10 1687.03 L 125.50 1687.03" style="stroke: #000000; stroke-width: 1.97"/>
      </g>
     </g>
     <g id="text_39">
      <!-- $\mathdefault{10^{2}}$ -->
      <g transform="translate(64.98 1698.242277)">
       <text>
        <tspan x="0" y="-0.929688" style="font-size: 29.5px; font-family: 'DejaVu Sans'">1</tspan>
        <tspan x="18.768799" y="-0.929688" style="font-size: 29.5px; font-family: 'DejaVu Sans'">0</tspan>
        <tspan x="37.824707" y="-12.414062" style="font-size: 20.65px; font-family: 'DejaVu Sans'">2</tspan>
       </text>
      </g>
     </g>
    </g>
    <g id="ytick_131">
     <g id="line2d_234">
      <g>
       <path d="M 134.10 2153.57 L 129.20 2153.57" style="stroke: #000000; stroke-width: 1.48"/>
      </g>
     </g>
    </g>
    <g id="ytick_132">
     <g id="line2d_235">
      <g>
       <path d="M 134.10 2123.13 L 129.20 2123.13" style="stroke: #000000; stroke-width: 1.48"/>
      </g>
     </g>
    </g>
    <g id="ytick_133">
     <g id="line2d_236">
      <g>
       <path d="M 134.10 2101.53 L 129.20 2101.53" style="stroke: #000000; stroke-width: 1.48"/>
      </g>
     </g>
    </g>
    <g id="ytick_134">
     <g id="line2d_237">
      <g>
       <path d="M 134.10 2084.78 L 129.20 2084.78" style="stroke: #000000; stroke-width: 1.48"/>
      </g>
     </g>
    </g>
    <g id="ytick_135">
     <g id="line2d_238">
      <g>
       <path d="M 134.10 2071.09 L 129.20 2071.09" style="stroke: #000000; stroke-width: 1.48"/>
      </g>
     </g>
    </g>
    <g id="ytick_136">
     <g id="line2d_239">
      <g>
       <path d="M 134.10 2059.52 L 129.20 2059.52" style="stroke: #000000; stroke-width: 1.48"/>
      </g>
     </g>
    </g>
    <g id="ytick_137">
     <g id="line2d_240">
      <g>
       <path d="M 134.10 2049.50 L 129.20 2049.50" style="stroke: #000000; stroke-width: 1.48"/>
      </g>
     </g>
    </g>
    <g id="ytick_138">
     <g id="line2d_241">
      <g>
       <path d="M 134.10 2040.65 L 129.20 2040.65" style="stroke: #000000; stroke-width: 1.48"/>
      </g>
     </g>
    </g>
    <g id="ytick_139">
     <g id="line2d_242">
      <g>
       <path d="M 134.10 1980.71 L 129.20 1980.71" style="stroke: #000000; stroke-width: 1.48"/>
      </g>
     </g>
    </g>
    <g id="ytick_140">
     <g id="line2d_243">
      <g>
       <path d="M 134.10 1950.27 L 129.20 1950.27" style="stroke: #000000; stroke-width: 1.48"/>
      </g>
     </g>
    </g>
    <g id="ytick_141">
     <g id="line2d_244">
      <g>
       <path d="M 134.10 1928.68 L 129.20 1928.68" style="stroke: #000000; stroke-width: 1.48"/>
      </g>
     </g>
    </g>
    <g id="ytick_142">
     <g id="line2d_245">
      <g>
       <path d="M 134.10 1911.92 L 129.20 1911.92" style="stroke: #000000; stroke-width: 1.48"/>
      </g>
     </g>
    </g>
    <g id="ytick_143">
     <g id="line2d_246">
      <g>
       <path d="M 134.10 1898.24 L 129.20 1898.24" style="stroke: #000000; stroke-width: 1.48"/>
      </g>
     </g>
    </g>
    <g id="ytick_144">
     <g id="line2d_247">
      <g>
       <path d="M 134.10 1886.67 L 129.20 1886.67" style="stroke: #000000; stroke-width: 1.48"/>
      </g>
     </g>
    </g>
    <g id="ytick_145">
     <g id="line2d_248">
      <g>
       <path d="M 134.10 1876.64 L 129.20 1876.64" style="stroke: #000000; stroke-width: 1.48"/>
      </g>
     </g>
    </g>
    <g id="ytick_146">
     <g id="line2d_249">
      <g>
       <path d="M 134.10 1867.80 L 129.20 1867.80" style="stroke: #000000; stroke-width: 1.48"/>
      </g>
     </g>
    </g>
    <g id="ytick_147">
     <g id="line2d_250">
      <g>
       <path d="M 134.10 1807.86 L 129.20 1807.86" style="stroke: #000000; stroke-width: 1.48"/>
      </g>
     </g>
    </g>
    <g id="ytick_148">
     <g id="line2d_251">
      <g>
       <path d="M 134.10 1777.42 L 129.20 1777.42" style="stroke: #000000; stroke-width: 1.48"/>
      </g>
     </g>
    </g>
    <g id="ytick_149">
     <g id="line2d_252">
      <g>
       <path d="M 134.10 1755.82 L 129.20 1755.82" style="stroke: #000000; stroke-width: 1.48"/>
      </g>
     </g>
    </g>
    <g id="ytick_150">
     <g id="line2d_253">
      <g>
       <path d="M 134.10 1739.07 L 129.20 1739.07" style="stroke: #000000; stroke-width: 1.48"/>
      </g>
     </g>
    </g>
    <g id="ytick_151">
     <g id="line2d_254">
      <g>
       <path d="M 134.10 1725.38 L 129.20 1725.38" style="stroke: #000000; stroke-width: 1.48"/>
      </g>
     </g>
    </g>
    <g id="ytick_152">
     <g id="line2d_255">
      <g>
       <path d="M 134.10 1713.81 L 129.20 1713.81" style="stroke: #000000; stroke-width: 1.48"/>
      </g>
     </g>
    </g>
    <g id="ytick_153">
     <g id="line2d_256">
      <g>
       <path d="M 134.10 1703.79 L 129.20 1703.79" style="stroke: #000000; stroke-width: 1.48"/>
      </g>
     </g>
    </g>
    <g id="ytick_154">
     <g id="line2d_257">
      <g>
       <path d="M 134.10 1694.94 L 129.20 1694.94" style="stroke: #000000; stroke-width: 1.48"/>
      </g>
     </g>
    </g>
    <g id="ytick_155">
     <g id="line2d_258">
      <g>
       <path d="M 134.10 1635.00 L 129.20 1635.00" style="stroke: #000000; stroke-width: 1.48"/>
      </g>
     </g>
    </g>
    <g id="text_40">
     <text style="font-size: 36px; font-family: 'DejaVu Sans'; text-anchor: middle" x="31.488125" y="1920.3" transform="rotate(-90 31.488125 1920.3)">Number (&gt;Peak flux)</text>
    </g>
   </g>
   <g id="LineCollection_5">
    <path d="M 861.1 2356 
L 861.1 1980.710279 
" clip-path="url(#pfb617a9fd6)" style="fill: none; stroke: #000000; stroke-width: 3.3"/>
    <path d="M 771 2072.892314 
L 771 1940.562825 
" clip-path="url(#pfb617a9fd6)" style="fill: none; stroke: #000000; stroke-width: 3.3"/>
    <path d="M 729.2 2014.923176 
L 729.2 1916.059103 
" clip-path="url(#pfb617a9fd6)" style="fill: none; stroke: #000000; stroke-width: 3.3"/>
    <path d="M 716 1980.710279 
L 716 1898.237418 
" clip-path="url(#pfb617a9fd6)" style="fill: none; stroke: #000000; stroke-width: 3.3"/>
    <path d="M 708.4 1956.424588 
L 708.4 1884.175412 
" clip-path="url(#pfb617a9fd6)" style="fill: none; stroke: #000000; stroke-width: 3.3"/>
    <path d="M 679.4 1937.624273 
L 679.4 1872.537448 
" clip-path="url(#pfb617a9fd6)" style="fill: none; stroke: #000000; stroke-width: 3.3"/>
    <path d="M 679.4 1922.305425 
L 679.4 1862.597314 
" clip-path="url(#pfb617a9fd6)" style="fill: none; stroke: #000000; stroke-width: 3.3"/>
    <path d="M 656 1909.391518 
L 656 1853.914918 
" clip-path="url(#pfb617a9fd6)" style="fill: none; stroke: #000000; stroke-width: 3.3"/>
    <path d="M 639.3 1898.237418 
L 639.3 1846.202836 
" clip-path="url(#pfb617a9fd6)" style="fill: none; stroke: #000000; stroke-width: 3.3"/>
    <path d="M 624.2 1888.426124 
L 624.2 1839.262736 
" clip-path="url(#pfb617a9fd6)" style="fill: none; stroke: #000000; stroke-width: 3.3"/>
    <path d="M 619.5 1879.672639 
L 619.5 1832.951865 
" clip-path="url(#pfb617a9fd6)" style="fill: none; stroke: #000000; stroke-width: 3.3"/>
    <path d="M 619.5 1871.773644 
L 619.5 1827.163975 
" clip-path="url(#pfb617a9fd6)" style="fill: none; stroke: #000000; stroke-width: 3.3"/>
    <path d="M 611 1864.579056 
L 611 1821.817807 
" clip-path="url(#pfb617a9fd6)" style="fill: none; stroke: #000000; stroke-width: 3.3"/>
    <path d="M 600.5 1857.97497 
L 600.5 1816.849796 
" clip-path="url(#pfb617a9fd6)" style="fill: none; stroke: #000000; stroke-width: 3.3"/>
    <path d="M 595.8 1851.872918 
L 595.8 1812.209263 
" clip-path="url(#pfb617a9fd6)" style="fill: none; stroke: #000000; stroke-width: 3.3"/>
    <path d="M 594 1846.202836 
L 594 1807.855139 
" clip-path="url(#pfb617a9fd6)" style="fill: none; stroke: #000000; stroke-width: 3.3"/>
    <path d="M 591.1 1840.908302 
L 591.1 1803.753672 
" clip-path="url(#pfb617a9fd6)" style="fill: none; stroke: #000000; stroke-width: 3.3"/>
    <path d="M 576.9 1835.943221 
L 576.9 1799.876777 
" clip-path="url(#pfb617a9fd6)" style="fill: none; stroke: #000000; stroke-width: 3.3"/>
    <path d="M 572 1831.26945 
L 572 1796.200836 
" clip-path="url(#pfb617a9fd6)" style="fill: none; stroke: #000000; stroke-width: 3.3"/>
    <path d="M 566.5 1826.855078 
L 566.5 1792.70579 
" clip-path="url(#pfb617a9fd6)" style="fill: none; stroke: #000000; stroke-width: 3.3"/>
    <path d="M 560 1822.673142 
L 560 1789.374458 
" clip-path="url(#pfb617a9fd6)" style="fill: none; stroke: #000000; stroke-width: 3.3"/>
    <path d="M 552.3 1818.700651 
L 552.3 1786.19201 
" clip-path="url(#pfb617a9fd6)" style="fill: none; stroke: #000000; stroke-width: 3.3"/>
    <path d="M 552 1814.917853 
L 552 1783.145553 
" clip-path="url(#pfb617a9fd6)" style="fill: none; stroke: #000000; stroke-width: 3.3"/>
    <path d="M 549.9 1811.307648 
L 549.9 1780.223811 
" clip-path="url(#pfb617a9fd6)" style="fill: none; stroke: #000000; stroke-width: 3.3"/>
    <path d="M 541 1807.855139 
L 541 1777.41686 
" clip-path="url(#pfb617a9fd6)" style="fill: none; stroke: #000000; stroke-width: 3.3"/>
    <path d="M 532.9 1804.547269 
L 532.9 1774.715922 
" clip-path="url(#pfb617a9fd6)" style="fill: none; stroke: #000000; stroke-width: 3.3"/>
    <path d="M 520.5 1801.372529 
L 520.5 1772.113194 
" clip-path="url(#pfb617a9fd6)" style="fill: none; stroke: #000000; stroke-width: 3.3"/>
    <path d="M 513.3 1798.320726 
L 513.3 1769.601709 
" clip-path="url(#pfb617a9fd6)" style="fill: none; stroke: #000000; stroke-width: 3.3"/>
    <path d="M 509 1795.38279 
L 509 1767.175218 
" clip-path="url(#pfb617a9fd6)" style="fill: none; stroke: #000000; stroke-width: 3.3"/>
    <path d="M 505.3 1792.550613 
L 505.3 1764.828098 
" clip-path="url(#pfb617a9fd6)" style="fill: none; stroke: #000000; stroke-width: 3.3"/>
    <path d="M 486.6 1789.81692 
L 486.6 1762.555267 
" clip-path="url(#pfb617a9fd6)" style="fill: none; stroke: #000000; stroke-width: 3.3"/>
    <path d="M 485.5 1787.175159 
L 485.5 1760.35212 
" clip-path="url(#pfb617a9fd6)" style="fill: none; stroke: #000000; stroke-width: 3.3"/>
    <path d="M 484 1784.619405 
L 484 1758.214468 
" clip-path="url(#pfb617a9fd6)" style="fill: none; stroke: #000000; stroke-width: 3.3"/>
    <path d="M 480 1782.14429 
L 480 1756.138491 
" clip-path="url(#pfb617a9fd6)" style="fill: none; stroke: #000000; stroke-width: 3.3"/>
    <path d="M 477.7 1779.744927 
L 477.7 1754.120696 
" clip-path="url(#pfb617a9fd6)" style="fill: none; stroke: #000000; stroke-width: 3.3"/>
    <path d="M 475 1777.41686 
L 475 1752.157878 
" clip-path="url(#pfb617a9fd6)" style="fill: none; stroke: #000000; stroke-width: 3.3"/>
    <path d="M 470.6 1775.156014 
L 470.6 1750.247094 
" clip-path="url(#pfb617a9fd6)" style="fill: none; stroke: #000000; stroke-width: 3.3"/>
    <path d="M 465 1772.958651 
L 465 1748.385629 
" clip-path="url(#pfb617a9fd6)" style="fill: none; stroke: #000000; stroke-width: 3.3"/>
    <path d="M 460.8 1770.821335 
L 460.8 1746.570978 
" clip-path="url(#pfb617a9fd6)" style="fill: none; stroke: #000000; stroke-width: 3.3"/>
    <path d="M 452.8 1768.7409 
L 452.8 1744.800823 
" clip-path="url(#pfb617a9fd6)" style="fill: none; stroke: #000000; stroke-width: 3.3"/>
    <path d="M 433.2 1766.714426 
L 433.2 1743.073014 
" clip-path="url(#pfb617a9fd6)" style="fill: none; stroke: #000000; stroke-width: 3.3"/>
    <path d="M 428.8 1764.739207 
L 428.8 1741.385554 
" clip-path="url(#pfb617a9fd6)" style="fill: none; stroke: #000000; stroke-width: 3.3"/>
    <path d="M 422 1762.812737 
L 422 1739.736584 
" clip-path="url(#pfb617a9fd6)" style="fill: none; stroke: #000000; stroke-width: 3.3"/>
    <path d="M 419 1760.93269 
L 419 1738.124373 
" clip-path="url(#pfb617a9fd6)" style="fill: none; stroke: #000000; stroke-width: 3.3"/>
    <path d="M 411 1759.096898 
L 411 1736.547303 
" clip-path="url(#pfb617a9fd6)" style="fill: none; stroke: #000000; stroke-width: 3.3"/>
    <path d="M 395.8 1757.303344 
L 395.8 1735.003861 
" clip-path="url(#pfb617a9fd6)" style="fill: none; stroke: #000000; stroke-width: 3.3"/>
    <path d="M 387.8 1755.550145 
L 387.8 1733.492631 
" clip-path="url(#pfb617a9fd6)" style="fill: none; stroke: #000000; stroke-width: 3.3"/>
    <path d="M 378 1753.835539 
L 378 1732.012285 
" clip-path="url(#pfb617a9fd6)" style="fill: none; stroke: #000000; stroke-width: 3.3"/>
    <path d="M 364.1 1752.157878 
L 364.1 1730.561576 
" clip-path="url(#pfb617a9fd6)" style="fill: none; stroke: #000000; stroke-width: 3.3"/>
    <path d="M 346 1750.515617 
L 346 1729.139328 
" clip-path="url(#pfb617a9fd6)" style="fill: none; stroke: #000000; stroke-width: 3.3"/>
    <path d="M 344 1748.907304 
L 344 1727.744439 
" clip-path="url(#pfb617a9fd6)" style="fill: none; stroke: #000000; stroke-width: 3.3"/>
    <path d="M 342.4 1747.331576 
L 342.4 1726.375867 
" clip-path="url(#pfb617a9fd6)" style="fill: none; stroke: #000000; stroke-width: 3.3"/>
    <path d="M 321 1745.787149 
L 321 1725.03263 
" clip-path="url(#pfb617a9fd6)" style="fill: none; stroke: #000000; stroke-width: 3.3"/>
    <path d="M 258.2 1744.272813 
L 258.2 1723.713798 
" clip-path="url(#pfb617a9fd6)" style="fill: none; stroke: #000000; stroke-width: 3.3"/>
   </g>
   <g id="line2d_259">
    <g clip-path="url(#pfb617a9fd6)">
     <circle cx="861.10" cy="2032.74" r="4.500" style="stroke: #000000"/>
     <circle cx="771.00" cy="1980.71" r="4.500" style="stroke: #000000"/>
     <circle cx="729.20" cy="1950.27" r="4.500" style="stroke: #000000"/>
     <circle cx="716.00" cy="1928.68" r="4.500" style="stroke: #000000"/>
     <circle cx="708.40" cy="1911.92" r="4.500" style="stroke: #000000"/>
     <circle cx="679.40" cy="1898.24" r="4.500" style="stroke: #000000"/>
     <circle cx="679.40" cy="1886.67" r="4.500" style="stroke: #000000"/>
     <circle cx="656.00" cy="1876.64" r="4.500" style="stroke: #000000"/>
     <circle cx="639.30" cy="1867.80" r="4.500" style="stroke: #000000"/>
     <circle cx="624.20" cy="1859.89" r="4.500" style="stroke: #000000"/>
     <circle cx="619.50" cy="1852.73" r="4.500" style="stroke: #000000"/>
     <circle cx="619.50" cy="1846.20" r="4.500" style="stroke: #000000"/>
     <circle cx="611.00" cy="1840.19" r="4.500" style="stroke: #000000"/>
     <circle cx="600.50" cy="1834.63" r="4.500" style="stroke: #000000"/>
     <circle cx="595.80" cy="1829.45" r="4.500" style="stroke: #000000"/>
     <circle cx="594.00" cy="1824.61" r="4.500" style="stroke: #000000"/>
     <circle cx="591.10" cy="1820.06" r="4.500" style="stroke: #000000"/>
     <circle cx="576.90" cy="1815.76" r="4.500" style="stroke: #000000"/>
     <circle cx="572.00" cy="1811.71" r="4.500" style="stroke: #000000"/>
     <circle cx="566.50" cy="1807.86" r="4.500" style="stroke: #000000"/>
     <circle cx="560.00" cy="1804.19" r="4.500" style="stroke: #000000"/>
     <circle cx="552.30" cy="1800.70" r="4.500" style="stroke: #000000"/>
     <circle cx="552.00" cy="1797.36" r="4.500" style="stroke: #000000"/>
     <circle cx="549.90" cy="1794.17" r="4.500" style="stroke: #000000"/>
     <circle cx="541.00" cy="1791.10" r="4.500" style="stroke: #000000"/>
     <circle cx="532.90" cy="1788.16" r="4.500" style="stroke: #000000"/>
     <circle cx="520.50" cy="1785.33" r="4.500" style="stroke: #000000"/>
     <circle cx="513.30" cy="1782.60" r="4.500" style="stroke: #000000"/>
     <circle cx="509.00" cy="1779.96" r="4.500" style="stroke: #000000"/>
     <circle cx="505.30" cy="1777.42" r="4.500" style="stroke: #000000"/>
     <circle cx="486.60" cy="1774.96" r="4.500" style="stroke: #000000"/>
     <circle cx="485.50" cy="1772.57" r="4.500" style="stroke: #000000"/>
     <circle cx="484.00" cy="1770.26" r="4.500" style="stroke: #000000"/>
     <circle cx="480.00" cy="1768.02" r="4.500" style="stroke: #000000"/>
     <circle cx="477.70" cy="1765.84" r="4.500" style="stroke: #000000"/>
     <circle cx="475.00" cy="1763.73" r="4.500" style="stroke: #000000"/>
     <circle cx="470.60" cy="1761.67" r="4.500" style="stroke: #000000"/>
     <circle cx="465.00" cy="1759.67" r="4.500" style="stroke: #000000"/>
     <circle cx="460.80" cy="1757.72" r="4.500" style="stroke: #000000"/>
     <circle cx="452.80" cy="1755.82" r="4.500" style="stroke: #000000"/>
     <circle cx="433.20" cy="1753.97" r="4.500" style="stroke: #000000"/>
     <circle cx="428.80" cy="1752.16" r="4.500" style="stroke: #000000"/>
     <circle cx="422.00" cy="1750.39" r="4.500" style="stroke: #000000"/>
     <circle cx="419.00" cy="1748.67" r="4.500" style="stroke: #000000"/>
     <circle cx="411.00" cy="1746.98" r="4.500" style="stroke: #000000"/>
     <circle cx="395.80" cy="1745.33" r="4.500" style="stroke: #000000"/>
     <circle cx="387.80" cy="1743.71" r="4.500" style="stroke: #000000"/>
     <circle cx="378.00" cy="1742.13" r="4.500" style="stroke: #000000"/>
     <circle cx="364.10" cy="1740.59" r="4.500" style="stroke: #000000"/>
     <circle cx="346.00" cy="1739.07" r="4.500" style="stroke: #000000"/>
     <circle cx="344.00" cy="1737.58" r="4.500" style="stroke: #000000"/>
     <circle cx="342.40" cy="1736.12" r="4.500" style="stroke: #000000"/>
     <circle cx="321.00" cy="1734.69" r="4.500" style="stroke: #000000"/>
     <circle cx="258.20" cy="1733.29" r="4.500" style="stroke: #000000"/>
    </g>
   </g>
   <g id="line2d_260">
    <path d="M 256.9 1713.1 
L 275.117085 1717.073464 
L 293.334171 1721.275157 
L 311.551256 1725.687017 
L 323.69598 1728.81523 
L 344.949246 1734.60356 
L 363.166332 1739.502873 
L 375.311055 1742.531695 
L 408.709045 1750.604936 
L 417.817588 1753.11793 
L 426.926131 1755.889567 
L 436.034673 1758.888749 
L 448.179397 1763.164567 
L 463.360302 1768.805801 
L 481.577387 1775.825975 
L 493.722111 1780.756534 
L 508.903015 1787.163897 
L 527.120101 1795.100118 
L 548.373367 1804.561246 
L 563.554271 1811.568397 
L 590.879899 1824.494477 
L 615.169347 1836.129446 
L 636.422613 1846.32743 
L 645.531156 1850.474179 
L 660.71206 1857.109636 
L 666.784422 1860.145086 
L 669.820603 1861.842447 
L 675.892965 1865.599666 
L 685.001508 1871.743393 
L 694.11005 1877.861466 
L 730.544221 1901.446102 
L 739.652764 1907.295319 
L 745.725126 1911.435736 
L 751.797487 1915.891385 
L 757.869849 1920.626148 
L 766.978392 1928.039839 
L 785.195477 1943.179662 
L 797.340201 1953.615755 
L 821.629648 1974.967735 
L 827.70201 1981.029982 
L 833.774372 1987.558691 
L 836.810553 1991.030509 
L 839.846734 1994.692905 
L 842.882915 1998.585081 
L 848.955276 2006.958314 
L 851.991457 2010.829579 
L 855.027638 2015.350314 
L 858.063819 2021.61164 
L 861.1 2032.5 
L 861.1 2032.5 
" clip-path="url(#pfb617a9fd6)" style="fill: none; stroke: #008000; stroke-width: 4.9"/>
   </g>
   <g id="patch_28">
    <path d="M 134.1 2205.6 
L 134.1 1635 
" style="fill: none; stroke: #000000; stroke-width: 1.97; stroke-linejoin: miter; stroke-linecap: square"/>
   </g>
   <g id="patch_29">
    <path d="M 989.9 2205.6 
L 989.9 1635 
" style="fill: none; stroke: #000000; stroke-width: 1.97; stroke-linejoin: miter; stroke-linecap: square"/>
   </g>
   <g id="patch_30">
    <path d="M 134.1 2205.6 
L 989.9 2205.6 
" style="fill: none; stroke: #000000; stroke-width: 1.97; stroke-linejoin: miter; stroke-linecap: square"/>
   </g>
   <g id="patch_31">
    <path d="M 134.1 1635 
L 989.9 1635 
" style="fill: none; stroke: #000000; stroke-width: 1.97; stroke-linejoin: miter; stroke-linecap: square"/>
   </g>
  </g>
  <g id="axes_6">
   <g id="patch_32">
    <path d="M 1173 2205.6 
L 2028.9 2205.6 
L 2028.9 1635 
L 1173 1635 
z
" style="fill: #ffffff"/>
   </g>
   <g id="patch_33">
    <path d="M 1392 1776.6 
L 1570 1825.8 
L 1640 1851.4 
L 1673.4 1866.1 
L 1741.5 1900.8 
L 1766.9 1924.8 
L 1786.9 1944.9 
L 1813.6 1970.2 
L 1840.3 1994.3 
L 1867 2019.6 
L 1874 2029 
L 1874 2030.5 
L 1867 2025 
L 1840.3 2002.3 
L 1813.6 1980.9 
L 1786.9 1958.2 
L 1760.2 1935.5 
L 1738.8 1916.8 
L 1673.4 1883.4 
L 1640 1866.7 
L 1570 1840.1 
L 1392 1781.9 
z
" clip-path="url(#pbdd5395c4d)" style="fill: #4d4d4d"/>
   </g>
   <g id="line2d_261">
    <path d="M 1392.9 1635 
L 1392.9 2205.6 
" clip-path="url(#pbdd5395c4d)" style="fill: none; stroke-dasharray: 3.57,5.91; stroke-dashoffset: 5.365; stroke: #0000ff; stroke-width: 3.57"/>
   </g>
   <g id="matplotlib.axis_11">
    <g id="xtick_91">
     <g id="line2d_262">
      <g>
       <path d="M 1333.83 2205.60 L 1333.83 2214.20" style="stroke: #000000; stroke-width: 1.97"/>
      </g>
     </g>
     <g id="text_41">
      <!-- $\mathdefault{10^{-1}}$ -->
      <g transform="translate(1299.162672 2245.215391)">
       <text>
        <tspan x="0" y="-0.203125" style="font-size: 29.5px; font-family: 'DejaVu Sans'">1</tspan>
        <tspan x="18.768799" y="-0.203125" style="font-size: 29.5px; font-family: 'DejaVu Sans'">0</tspan>
        <tspan x="37.824707" y="-11.6875" style="font-size: 20.65px; font-family: 'DejaVu Sans'">−</tspan>
        <tspan x="55.127148" y="-11.6875" style="font-size: 20.65px; font-family: 'DejaVu Sans'">1</tspan>
       </text>
      </g>
     </g>
    </g>
    <g id="xtick_92">
     <g id="line2d_263">
      <g>
       <path d="M 1868.07 2205.60 L 1868.07 2214.20" style="stroke: #000000; stroke-width: 1.97"/>
      </g>
     </g>
     <g id="text_42">
      <!-- $\mathdefault{10^{0}}$ -->
      <g transform="translate(1842.114828 2245.215391)">
       <text>
        <tspan x="0" y="-0.929688" style="font-size: 29.5px; font-family: 'DejaVu Sans'">1</tspan>
        <tspan x="18.768799" y="-0.929688" style="font-size: 29.5px; font-family: 'DejaVu Sans'">0</tspan>
        <tspan x="37.824707" y="-12.414062" style="font-size: 20.65px; font-family: 'DejaVu Sans'">0</tspan>
       </text>
      </g>
     </g>
    </g>
    <g id="xtick_93">
     <g id="line2d_264">
      <g>
       <path d="M 1173.00 2205.60 L 1173.00 2210.50" style="stroke: #000000; stroke-width: 1.48"/>
      </g>
     </g>
    </g>
    <g id="xtick_94">
     <g id="line2d_265">
      <g>
       <path d="M 1215.30 2205.60 L 1215.30 2210.50" style="stroke: #000000; stroke-width: 1.48"/>
      </g>
     </g>
    </g>
    <g id="xtick_95">
     <g id="line2d_266">
      <g>
       <path d="M 1251.07 2205.60 L 1251.07 2210.50" style="stroke: #000000; stroke-width: 1.48"/>
      </g>
     </g>
    </g>
    <g id="xtick_96">
     <g id="line2d_267">
      <g>
       <path d="M 1282.05 2205.60 L 1282.05 2210.50" style="stroke: #000000; stroke-width: 1.48"/>
      </g>
     </g>
    </g>
    <g id="xtick_97">
     <g id="line2d_268">
      <g>
       <path d="M 1309.38 2205.60 L 1309.38 2210.50" style="stroke: #000000; stroke-width: 1.48"/>
      </g>
     </g>
    </g>
    <g id="xtick_98">
     <g id="line2d_269">
      <g>
       <path d="M 1494.65 2205.60 L 1494.65 2210.50" style="stroke: #000000; stroke-width: 1.48"/>
      </g>
     </g>
    </g>
    <g id="xtick_99">
     <g id="line2d_270">
      <g>
       <path d="M 1588.73 2205.60 L 1588.73 2210.50" style="stroke: #000000; stroke-width: 1.48"/>
      </g>
     </g>
    </g>
    <g id="xtick_100">
     <g id="line2d_271">
      <g>
       <path d="M 1655.48 2205.60 L 1655.48 2210.50" style="stroke: #000000; stroke-width: 1.48"/>
      </g>
     </g>
    </g>
    <g id="xtick_101">
     <g id="line2d_272">
      <g>
       <path d="M 1707.25 2205.60 L 1707.25 2210.50" style="stroke: #000000; stroke-width: 1.48"/>
      </g>
     </g>
    </g>
    <g id="xtick_102">
     <g id="line2d_273">
      <g>
       <path d="M 1749.55 2205.60 L 1749.55 2210.50" style="stroke: #000000; stroke-width: 1.48"/>
      </g>
     </g>
    </g>
    <g id="xtick_103">
     <g id="line2d_274">
      <g>
       <path d="M 1785.32 2205.60 L 1785.32 2210.50" style="stroke: #000000; stroke-width: 1.48"/>
      </g>
     </g>
    </g>
    <g id="xtick_104">
     <g id="line2d_275">
      <g>
       <path d="M 1816.30 2205.60 L 1816.30 2210.50" style="stroke: #000000; stroke-width: 1.48"/>
      </g>
     </g>
    </g>
    <g id="xtick_105">
     <g id="line2d_276">
      <g>
       <path d="M 1843.63 2205.60 L 1843.63 2210.50" style="stroke: #000000; stroke-width: 1.48"/>
      </g>
     </g>
    </g>
    <g id="xtick_106">
     <g id="line2d_277">
      <g>
       <path d="M 2028.90 2205.60 L 2028.90 2210.50" style="stroke: #000000; stroke-width: 1.48"/>
      </g>
     </g>
    </g>
    <g id="text_43">
     <text style="font-size: 36px; font-family: 'DejaVu Sans'; text-anchor: middle" x="1600.95" y="2287.304844" transform="rotate(-0 1600.95 2287.304844)">Peak flux (counts/8ms)</text>
    </g>
   </g>
   <g id="matplotlib.axis_12">
    <g id="ytick_156">
     <g id="line2d_278">
      <g>
       <path d="M 1173.00 2205.60 L 1164.40 2205.60" style="stroke: #000000; stroke-width: 1.97"/>
      </g>
     </g>
     <g id="text_44">
      <!-- $\mathdefault{10^{-1}}$ -->
      <g transform="translate(1086.475 2216.807695)">
       <text>
        <tspan x="0" y="-0.203125" style="font-size: 29.5px; font-family: 'DejaVu Sans'">1</tspan>
        <tspan x="18.768799" y="-0.203125" style="font-size: 29.5px; font-family: 'DejaVu Sans'">0</tspan>
        <tspan x="37.824707" y="-11.6875" style="font-size: 20.65px; font-family: 'DejaVu Sans'">−</tspan>
        <tspan x="55.127148" y="-11.6875" style="font-size: 20.65px; font-family: 'DejaVu Sans'">1</tspan>
       </text>
      </g>
     </g>
    </g>
    <g id="ytick_157">
     <g id="line2d_279">
      <g>
       <path d="M 1173.00 2032.74 L 1164.40 2032.74" style="stroke: #000000; stroke-width: 1.97"/>
      </g>
     </g>
     <g id="text_45">
      <!-- $\mathdefault{10^{0}}$ -->
      <g transform="translate(1103.88 2043.952556)">
       <text>
        <tspan x="0" y="-0.929688" style="font-size: 29.5px; font-family: 'DejaVu Sans'">1</tspan>
        <tspan x="18.768799" y="-0.929688" style="font-size: 29.5px; font-family: 'DejaVu Sans'">0</tspan>
        <tspan x="37.824707" y="-12.414062" style="font-size: 20.65px; font-family: 'DejaVu Sans'">0</tspan>
       </text>
      </g>
     </g>
    </g>
    <g id="ytick_158">
     <g id="line2d_280">
      <g>
       <path d="M 1173.00 1859.89 L 1164.40 1859.89" style="stroke: #000000; stroke-width: 1.97"/>
      </g>
     </g>
     <g id="text_46">
      <!-- $\mathdefault{10^{1}}$ -->
      <g transform="translate(1103.88 1871.097417)">
       <text>
        <tspan x="0" y="-0.203125" style="font-size: 29.5px; font-family: 'DejaVu Sans'">1</tspan>
        <tspan x="18.768799" y="-0.203125" style="font-size: 29.5px; font-family: 'DejaVu Sans'">0</tspan>
        <tspan x="37.824707" y="-11.6875" style="font-size: 20.65px; font-family: 'DejaVu Sans'">1</tspan>
       </text>
      </g>
     </g>
    </g>
    <g id="ytick_159">
     <g id="line2d_281">
      <g>
       <path d="M 1173.00 1687.03 L 1164.40 1687.03" style="stroke: #000000; stroke-width: 1.97"/>
      </g>
     </g>
     <g id="text_47">
      <!-- $\mathdefault{10^{2}}$ -->
      <g transform="translate(1103.88 1698.242277)">
       <text>
        <tspan x="0" y="-0.929688" style="font-size: 29.5px; font-family: 'DejaVu Sans'">1</tspan>
        <tspan x="18.768799" y="-0.929688" style="font-size: 29.5px; font-family: 'DejaVu Sans'">0</tspan>
        <tspan x="37.824707" y="-12.414062" style="font-size: 20.65px; font-family: 'DejaVu Sans'">2</tspan>
       </text>
      </g>
     </g>
    </g>
    <g id="ytick_160">
     <g id="line2d_282">
      <g>
       <path d="M 1173.00 2153.57 L 1168.10 2153.57" style="stroke: #000000; stroke-width: 1.48"/>
      </g>
     </g>
    </g>
    <g id="ytick_161">
     <g id="line2d_283">
      <g>
       <path d="M 1173.00 2123.13 L 1168.10 2123.13" style="stroke: #000000; stroke-width: 1.48"/>
      </g>
     </g>
    </g>
    <g id="ytick_162">
     <g id="line2d_284">
      <g>
       <path d="M 1173.00 2101.53 L 1168.10 2101.53" style="stroke: #000000; stroke-width: 1.48"/>
      </g>
     </g>
    </g>
    <g id="ytick_163">
     <g id="line2d_285">
      <g>
       <path d="M 1173.00 2084.78 L 1168.10 2084.78" style="stroke: #000000; stroke-width: 1.48"/>
      </g>
     </g>
    </g>
    <g id="ytick_164">
     <g id="line2d_286">
      <g>
       <path d="M 1173.00 2071.09 L 1168.10 2071.09" style="stroke: #000000; stroke-width: 1.48"/>
      </g>
     </g>
    </g>
    <g id="ytick_165">
     <g id="line2d_287">
      <g>
       <path d="M 1173.00 2059.52 L 1168.10 2059.52" style="stroke: #000000; stroke-width: 1.48"/>
      </g>
     </g>
    </g>
    <g id="ytick_166">
     <g id="line2d_288">
      <g>
       <path d="M 1173.00 2049.50 L 1168.10 2049.50" style="stroke: #000000; stroke-width: 1.48"/>
      </g>
     </g>
    </g>
    <g id="ytick_167">
     <g id="line2d_289">
      <g>
       <path d="M 1173.00 2040.65 L 1168.10 2040.65" style="stroke: #000000; stroke-width: 1.48"/>
      </g>
     </g>
    </g>
    <g id="ytick_168">
     <g id="line2d_290">
      <g>
       <path d="M 1173.00 1980.71 L 1168.10 1980.71" style="stroke: #000000; stroke-width: 1.48"/>
      </g>
     </g>
    </g>
    <g id="ytick_169">
     <g id="line2d_291">
      <g>
       <path d="M 1173.00 1950.27 L 1168.10 1950.27" style="stroke: #000000; stroke-width: 1.48"/>
      </g>
     </g>
    </g>
    <g id="ytick_170">
     <g id="line2d_292">
      <g>
       <path d="M 1173.00 1928.68 L 1168.10 1928.68" style="stroke: #000000; stroke-width: 1.48"/>
      </g>
     </g>
    </g>
    <g id="ytick_171">
     <g id="line2d_293">
      <g>
       <path d="M 1173.00 1911.92 L 1168.10 1911.92" style="stroke: #000000; stroke-width: 1.48"/>
      </g>
     </g>
    </g>
    <g id="ytick_172">
     <g id="line2d_294">
      <g>
       <path d="M 1173.00 1898.24 L 1168.10 1898.24" style="stroke: #000000; stroke-width: 1.48"/>
      </g>
     </g>
    </g>
    <g id="ytick_173">
     <g id="line2d_295">
      <g>
       <path d="M 1173.00 1886.67 L 1168.10 1886.67" style="stroke: #000000; stroke-width: 1.48"/>
      </g>
     </g>
    </g>
    <g id="ytick_174">
     <g id="line2d_296">
      <g>
       <path d="M 1173.00 1876.64 L 1168.10 1876.64" style="stroke: #000000; stroke-width: 1.48"/>
      </g>
     </g>
    </g>
    <g id="ytick_175">
     <g id="line2d_297">
      <g>
       <path d="M 1173.00 1867.80 L 1168.10 1867.80" style="stroke: #000000; stroke-width: 1.48"/>
      </g>
     </g>
    </g>
    <g id="ytick_176">
     <g id="line2d_298">
      <g>
       <path d="M 1173.00 1807.86 L 1168.10 1807.86" style="stroke: #000000; stroke-width: 1.48"/>
      </g>
     </g>
    </g>
    <g id="ytick_177">
     <g id="line2d_299">
      <g>
       <path d="M 1173.00 1777.42 L 1168.10 1777.42" style="stroke: #000000; stroke-width: 1.48"/>
      </g>
     </g>
    </g>
    <g id="ytick_178">
     <g id="line2d_300">
      <g>
       <path d="M 1173.00 1755.82 L 1168.10 1755.82" style="stroke: #000000; stroke-width: 1.48"/>
      </g>
     </g>
    </g>
    <g id="ytick_179">
     <g id="line2d_301">
      <g>
       <path d="M 1173.00 1739.07 L 1168.10 1739.07" style="stroke: #000000; stroke-width: 1.48"/>
      </g>
     </g>
    </g>
    <g id="ytick_180">
     <g id="line2d_302">
      <g>
       <path d="M 1173.00 1725.38 L 1168.10 1725.38" style="stroke: #000000; stroke-width: 1.48"/>
      </g>
     </g>
    </g>
    <g id="ytick_181">
     <g id="line2d_303">
      <g>
       <path d="M 1173.00 1713.81 L 1168.10 1713.81" style="stroke: #000000; stroke-width: 1.48"/>
      </g>
     </g>
    </g>
    <g id="ytick_182">
     <g id="line2d_304">
      <g>
       <path d="M 1173.00 1703.79 L 1168.10 1703.79" style="stroke: #000000; stroke-width: 1.48"/>
      </g>
     </g>
    </g>
    <g id="ytick_183">
     <g id="line2d_305">
      <g>
       <path d="M 1173.00 1694.94 L 1168.10 1694.94" style="stroke: #000000; stroke-width: 1.48"/>
      </g>
     </g>
    </g>
    <g id="ytick_184">
     <g id="line2d_306">
      <g>
       <path d="M 1173.00 1635.00 L 1168.10 1635.00" style="stroke: #000000; stroke-width: 1.48"/>
      </g>
     </g>
    </g>
    <g id="text_48">
     <text style="font-size: 36px; font-family: 'DejaVu Sans'; text-anchor: middle" x="1070.388125" y="1920.3" transform="rotate(-90 1070.388125 1920.3)">Number (&gt;Peak flux)</text>
    </g>
   </g>
   <g id="LineCollection_6">
    <path d="M 1875.6 2356 
L 1875.6 1980.710279 
" clip-path="url(#pbdd5395c4d)" style="fill: none; stroke: #000000; stroke-width: 3.3"/>
    <path d="M 1741.8 2072.892314 
L 1741.8 1940.562825 
" clip-path="url(#pbdd5395c4d)" style="fill: none; stroke: #000000; stroke-width: 3.3"/>
    <path d="M 1737.4 2014.923176 
L 1737.4 1916.059103 
" clip-path="url(#pbdd5395c4d)" style="fill: none; stroke: #000000; stroke-width: 3.3"/>
    <path d="M 1678.3 1980.710279 
L 1678.3 1898.237418 
" clip-path="url(#pbdd5395c4d)" style="fill: none; stroke: #000000; stroke-width: 3.3"/>
    <path d="M 1669.7 1956.424588 
L 1669.7 1884.175412 
" clip-path="url(#pbdd5395c4d)" style="fill: none; stroke: #000000; stroke-width: 3.3"/>
    <path d="M 1648.4 1937.624273 
L 1648.4 1872.537448 
" clip-path="url(#pbdd5395c4d)" style="fill: none; stroke: #000000; stroke-width: 3.3"/>
    <path d="M 1645.7 1922.305425 
L 1645.7 1862.597314 
" clip-path="url(#pbdd5395c4d)" style="fill: none; stroke: #000000; stroke-width: 3.3"/>
    <path d="M 1630.5 1909.391518 
L 1630.5 1853.914918 
" clip-path="url(#pbdd5395c4d)" style="fill: none; stroke: #000000; stroke-width: 3.3"/>
    <path d="M 1626.1 1898.237418 
L 1626.1 1846.202836 
" clip-path="url(#pbdd5395c4d)" style="fill: none; stroke: #000000; stroke-width: 3.3"/>
    <path d="M 1624.3 1888.426124 
L 1624.3 1839.262736 
" clip-path="url(#pbdd5395c4d)" style="fill: none; stroke: #000000; stroke-width: 3.3"/>
    <path d="M 1609.2 1879.672639 
L 1609.2 1832.951865 
" clip-path="url(#pbdd5395c4d)" style="fill: none; stroke: #000000; stroke-width: 3.3"/>
    <path d="M 1608.3 1871.773644 
L 1608.3 1827.163975 
" clip-path="url(#pbdd5395c4d)" style="fill: none; stroke: #000000; stroke-width: 3.3"/>
    <path d="M 1604.7 1864.579056 
L 1604.7 1821.817807 
" clip-path="url(#pbdd5395c4d)" style="fill: none; stroke: #000000; stroke-width: 3.3"/>
    <path d="M 1599.4 1857.97497 
L 1599.4 1816.849796 
" clip-path="url(#pbdd5395c4d)" style="fill: none; stroke: #000000; stroke-width: 3.3"/>
    <path d="M 1591.4 1851.872918 
L 1591.4 1812.209263 
" clip-path="url(#pbdd5395c4d)" style="fill: none; stroke: #000000; stroke-width: 3.3"/>
    <path d="M 1583.4 1846.202836 
L 1583.4 1807.855139 
" clip-path="url(#pbdd5395c4d)" style="fill: none; stroke: #000000; stroke-width: 3.3"/>
    <path d="M 1570 1840.908302 
L 1570 1803.753672 
" clip-path="url(#pbdd5395c4d)" style="fill: none; stroke: #000000; stroke-width: 3.3"/>
    <path d="M 1566.5 1835.943221 
L 1566.5 1799.876777 
" clip-path="url(#pbdd5395c4d)" style="fill: none; stroke: #000000; stroke-width: 3.3"/>
    <path d="M 1562 1831.26945 
L 1562 1796.200836 
" clip-path="url(#pbdd5395c4d)" style="fill: none; stroke: #000000; stroke-width: 3.3"/>
    <path d="M 1544.2 1826.855078 
L 1544.2 1792.70579 
" clip-path="url(#pbdd5395c4d)" style="fill: none; stroke: #000000; stroke-width: 3.3"/>
    <path d="M 1528.2 1822.673142 
L 1528.2 1789.374458 
" clip-path="url(#pbdd5395c4d)" style="fill: none; stroke: #000000; stroke-width: 3.3"/>
    <path d="M 1512.2 1818.700651 
L 1512.2 1786.19201 
" clip-path="url(#pbdd5395c4d)" style="fill: none; stroke: #000000; stroke-width: 3.3"/>
    <path d="M 1510 1814.917853 
L 1510 1783.145553 
" clip-path="url(#pbdd5395c4d)" style="fill: none; stroke: #000000; stroke-width: 3.3"/>
    <path d="M 1506.8 1811.307648 
L 1506.8 1780.223811 
" clip-path="url(#pbdd5395c4d)" style="fill: none; stroke: #000000; stroke-width: 3.3"/>
    <path d="M 1505.1 1807.855139 
L 1505.1 1777.41686 
" clip-path="url(#pbdd5395c4d)" style="fill: none; stroke: #000000; stroke-width: 3.3"/>
    <path d="M 1498.8 1804.547269 
L 1498.8 1774.715922 
" clip-path="url(#pbdd5395c4d)" style="fill: none; stroke: #000000; stroke-width: 3.3"/>
    <path d="M 1493.5 1801.372529 
L 1493.5 1772.113194 
" clip-path="url(#pbdd5395c4d)" style="fill: none; stroke: #000000; stroke-width: 3.3"/>
    <path d="M 1470.3 1798.320726 
L 1470.3 1769.601709 
" clip-path="url(#pbdd5395c4d)" style="fill: none; stroke: #000000; stroke-width: 3.3"/>
    <path d="M 1463.2 1795.38279 
L 1463.2 1767.175218 
" clip-path="url(#pbdd5395c4d)" style="fill: none; stroke: #000000; stroke-width: 3.3"/>
    <path d="M 1447.2 1792.550613 
L 1447.2 1764.828098 
" clip-path="url(#pbdd5395c4d)" style="fill: none; stroke: #000000; stroke-width: 3.3"/>
    <path d="M 1385.7 1789.81692 
L 1385.7 1762.555267 
" clip-path="url(#pbdd5395c4d)" style="fill: none; stroke: #000000; stroke-width: 3.3"/>
    <path d="M 1362.6 1787.175159 
L 1362.6 1760.35212 
" clip-path="url(#pbdd5395c4d)" style="fill: none; stroke: #000000; stroke-width: 3.3"/>
    <path d="M 1354.6 1784.619405 
L 1354.6 1758.214468 
" clip-path="url(#pbdd5395c4d)" style="fill: none; stroke: #000000; stroke-width: 3.3"/>
    <path d="M 1348.4 1782.14429 
L 1348.4 1756.138491 
" clip-path="url(#pbdd5395c4d)" style="fill: none; stroke: #000000; stroke-width: 3.3"/>
    <path d="M 1310.1 1779.744927 
L 1310.1 1754.120696 
" clip-path="url(#pbdd5395c4d)" style="fill: none; stroke: #000000; stroke-width: 3.3"/>
    <path d="M 1294.9 1777.41686 
L 1294.9 1752.157878 
" clip-path="url(#pbdd5395c4d)" style="fill: none; stroke: #000000; stroke-width: 3.3"/>
    <path d="M 1289.6 1775.156014 
L 1289.6 1750.247094 
" clip-path="url(#pbdd5395c4d)" style="fill: none; stroke: #000000; stroke-width: 3.3"/>
   </g>
   <g id="line2d_307">
    <path d="M 1287.8 1756.1 
L 1302.568844 1759.838034 
L 1317.337688 1763.372678 
L 1332.106533 1766.682775 
L 1343.921608 1769.14891 
L 1355.736683 1771.338043 
L 1388.228141 1777.061056 
L 1397.089447 1778.926244 
L 1405.950754 1781.005265 
L 1417.765829 1784.038395 
L 1432.534673 1788.12307 
L 1453.211055 1794.095631 
L 1467.979899 1798.602015 
L 1485.702513 1804.284657 
L 1506.378894 1811.147001 
L 1521.147739 1816.351918 
L 1547.731658 1825.804938 
L 1556.592965 1828.74238 
L 1571.361809 1833.361728 
L 1580.223116 1836.518124 
L 1592.038191 1841.011983 
L 1633.390955 1857.19732 
L 1642.252261 1860.992589 
L 1651.113568 1865.098364 
L 1665.882412 1872.300326 
L 1677.697487 1878.173147 
L 1704.281407 1891.48924 
L 1719.050251 1898.863075 
L 1739.726633 1909.553568 
L 1745.634171 1912.830632 
L 1751.541709 1916.305478 
L 1757.449246 1919.974675 
L 1766.310553 1925.800148 
L 1772.21809 1929.952544 
L 1807.663317 1956.106195 
L 1813.570854 1960.92014 
L 1819.478392 1965.989602 
L 1825.38593 1971.369093 
L 1831.293467 1977.117386 
L 1837.201005 1983.264819 
L 1843.108543 1989.796095 
L 1849.01608 1996.717874 
L 1854.923618 2004.233242 
L 1860.831156 2012.195587 
L 1866.738693 2021.04714 
L 1869.692462 2025.41796 
L 1872.646231 2029.295879 
L 1875.6 2032.5 
L 1875.6 2032.5 
" clip-path="url(#pbdd5395c4d)" style="fill: none; stroke: #008000; stroke-width: 4.9"/>
   </g>
   <g id="line2d_308">
    <g clip-path="url(#pbdd5395c4d)">
     <circle cx="1875.60" cy="2032.74" r="4.500" style="stroke: #000000"/>
     <circle cx="1741.80" cy="1980.71" r="4.500" style="stroke: #000000"/>
     <circle cx="1737.40" cy="1950.27" r="4.500" style="stroke: #000000"/>
     <circle cx="1678.30" cy="1928.68" r="4.500" style="stroke: #000000"/>
     <circle cx="1669.70" cy="1911.92" r="4.500" style="stroke: #000000"/>
     <circle cx="1648.40" cy="1898.24" r="4.500" style="stroke: #000000"/>
     <circle cx="1645.70" cy="1886.67" r="4.500" style="stroke: #000000"/>
     <circle cx="1630.50" cy="1876.64" r="4.500" style="stroke: #000000"/>
     <circle cx="1626.10" cy="1867.80" r="4.500" style="stroke: #000000"/>
     <circle cx="1624.30" cy="1859.89" r="4.500" style="stroke: #000000"/>
     <circle cx="1609.20" cy="1852.73" r="4.500" style="stroke: #000000"/>
     <circle cx="1608.30" cy="1846.20" r="4.500" style="stroke: #000000"/>
     <circle cx="1604.70" cy="1840.19" r="4.500" style="stroke: #000000"/>
     <circle cx="1599.40" cy="1834.63" r="4.500" style="stroke: #000000"/>
     <circle cx="1591.40" cy="1829.45" r="4.500" style="stroke: #000000"/>
     <circle cx="1583.40" cy="1824.61" r="4.500" style="stroke: #000000"/>
     <circle cx="1570.00" cy="1820.06" r="4.500" style="stroke: #000000"/>
     <circle cx="1566.50" cy="1815.76" r="4.500" style="stroke: #000000"/>
     <circle cx="1562.00" cy="1811.71" r="4.500" style="stroke: #000000"/>
     <circle cx="1544.20" cy="1807.86" r="4.500" style="stroke: #000000"/>
     <circle cx="1528.20" cy="1804.19" r="4.500" style="stroke: #000000"/>
     <circle cx="1512.20" cy="1800.70" r="4.500" style="stroke: #000000"/>
     <circle cx="1510.00" cy="1797.36" r="4.500" style="stroke: #000000"/>
     <circle cx="1506.80" cy="1794.17" r="4.500" style="stroke: #000000"/>
     <circle cx="1505.10" cy="1791.10" r="4.500" style="stroke: #000000"/>
     <circle cx="1498.80" cy="1788.16" r="4.500" style="stroke: #000000"/>
     <circle cx="1493.50" cy="1785.33" r="4.500" style="stroke: #000000"/>
     <circle cx="1470.30" cy="1782.60" r="4.500" style="stroke: #000000"/>
     <circle cx="1463.20" cy="1779.96" r="4.500" style="stroke: #000000"/>
     <circle cx="1447.20" cy="1777.42" r="4.500" style="stroke: #000000"/>
     <circle cx="1385.70" cy="1774.96" r="4.500" style="stroke: #000000"/>
     <circle cx="1362.60" cy="1772.57" r="4.500" style="stroke: #000000"/>
     <circle cx="1354.60" cy="1770.26" r="4.500" style="stroke: #000000"/>
     <circle cx="1348.40" cy="1768.02" r="4.500" style="stroke: #000000"/>
     <circle cx="1310.10" cy="1765.84" r="4.500" style="stroke: #000000"/>
     <circle cx="1294.90" cy="1763.73" r="4.500" style="stroke: #000000"/>
     <circle cx="1289.60" cy="1761.67" r="4.500" style="stroke: #000000"/>
    </g>
   </g>
   <g id="patch_34">
    <path d="M 1173 2205.6 
L 1173 1635 
" style="fill: none; stroke: #000000; stroke-width: 1.97; stroke-linejoin: miter; stroke-linecap: square"/>
   </g>
   <g id="patch_35">
    <path d="M 2028.9 2205.6 
L 2028.9 1635 
" style="fill: none; stroke: #000000; stroke-width: 1.97; stroke-linejoin: miter; stroke-linecap: square"/>
   </g>
   <g id="patch_36">
    <path d="M 1173 2205.6 
L 2028.9 2205.6 
" style="fill: none; stroke: #000000; stroke-width: 1.97; stroke-linejoin: miter; stroke-linecap: square"/>
   </g>
   <g id="patch_37">
    <path d="M 1173 1635 
L 2028.9 1635 
" style="fill: none; stroke: #000000; stroke-width: 1.97; stroke-linejoin: miter; stroke-linecap: square"/>
   </g>
  </g>
  <g id="text_49">
   <!-- $\alpha_x = 2.44 \pm 0.07$ -->
   <g transform="translate(518.4 93.4)">
    <text>
     <tspan x="0" y="-0.28125" style="font-style: oblique; font-size: 36px; font-family: 'DejaVu Sans'">α</tspan>
     <tspan x="23.730469" y="5.625" style="font-style: oblique; font-size: 25.2px; font-family: 'DejaVu Sans'">x</tspan>
     <tspan x="46.641797" y="-0.28125" style="font-size: 36px; font-family: 'DejaVu Sans'">=</tspan>
     <tspan x="83.819531" y="-0.28125" style="font-size: 36px; font-family: 'DejaVu Sans'">2</tspan>
     <tspan x="106.723828" y="-0.28125" style="font-size: 36px; font-family: 'DejaVu Sans'">.</tspan>
     <tspan x="118.167187" y="-0.28125" style="font-size: 36px; font-family: 'DejaVu Sans'">4</tspan>
     <tspan x="141.071484" y="-0.28125" style="font-size: 36px; font-family: 'DejaVu Sans'">4</tspan>
     <tspan x="170.989453" y="-0.28125" style="font-size: 36px; font-family: 'DejaVu Sans'">±</tspan>
     <tspan x="208.167188" y="-0.28125" style="font-size: 36px; font-family: 'DejaVu Sans'">0</tspan>
     <tspan x="231.071484" y="-0.28125" style="font-size: 36px; font-family: 'DejaVu Sans'">.</tspan>
     <tspan x="242.514844" y="-0.28125" style="font-size: 36px; font-family: 'DejaVu Sans'">0</tspan>
     <tspan x="265.419141" y="-0.28125" style="font-size: 36px; font-family: 'DejaVu Sans'">7</tspan>
    </text>
   </g>
  </g>
  <g id="text_50">
   <!-- $x_0 = 0.15 \pm 0.02$ -->
   <g transform="translate(518.4 150.1)">
    <text>
     <tspan x="0" y="-0.28125" style="font-style: oblique; font-size: 36px; font-family: 'DejaVu Sans'">x</tspan>
     <tspan x="21.304688" y="5.625" style="font-size: 25.2px; font-family: 'DejaVu Sans'">0</tspan>
     <tspan x="45.335742" y="-0.28125" style="font-size: 36px; font-family: 'DejaVu Sans'">=</tspan>
     <tspan x="82.513477" y="-0.28125" style="font-size: 36px; font-family: 'DejaVu Sans'">0</tspan>
     <tspan x="105.417773" y="-0.28125" style="font-size: 36px; font-family: 'DejaVu Sans'">.</tspan>
     <tspan x="116.861133" y="-0.28125" style="font-size: 36px; font-family: 'DejaVu Sans'">1</tspan>
     <tspan x="139.76543" y="-0.28125" style="font-size: 36px; font-family: 'DejaVu Sans'">5</tspan>
     <tspan x="169.683398" y="-0.28125" style="font-size: 36px; font-family: 'DejaVu Sans'">±</tspan>
     <tspan x="206.861133" y="-0.28125" style="font-size: 36px; font-family: 'DejaVu Sans'">0</tspan>
     <tspan x="229.76543" y="-0.28125" style="font-size: 36px; font-family: 'DejaVu Sans'">.</tspan>
     <tspan x="241.208789" y="-0.28125" style="font-size: 36px; font-family: 'DejaVu Sans'">0</tspan>
     <tspan x="264.113086" y="-0.28125" style="font-size: 36px; font-family: 'DejaVu Sans'">2</tspan>
    </text>
   </g>
  </g>
  <g id="text_51">
   <!-- $\chi^2_\nu = 2.06$ -->
   <g transform="translate(219.6 436.6)">
    <text>
     <tspan x="0" y="-0.515625" style="font-style: oblique; font-size: 36px; font-family: 'DejaVu Sans'">χ</tspan>
     <tspan x="22.914687" y="-14.296875" style="font-size: 25.2px; font-family: 'DejaVu Sans'">2</tspan>
     <tspan x="21.304688" y="9.328125" style="font-style: oblique; font-size: 25.2px; font-family: 'DejaVu Sans'">ν</tspan>
     <tspan x="46.945742" y="-0.515625" style="font-size: 36px; font-family: 'DejaVu Sans'">=</tspan>
     <tspan x="84.123477" y="-0.515625" style="font-size: 36px; font-family: 'DejaVu Sans'">2</tspan>
     <tspan x="107.027773" y="-0.515625" style="font-size: 36px; font-family: 'DejaVu Sans'">.</tspan>
     <tspan x="118.471133" y="-0.515625" style="font-size: 36px; font-family: 'DejaVu Sans'">0</tspan>
     <tspan x="141.37543" y="-0.515625" style="font-size: 36px; font-family: 'DejaVu Sans'">6</tspan>
    </text>
   </g>
  </g>
  <g id="text_52">
   <text style="font-size: 36px; font-family: 'Liberation Serif'; text-anchor: middle" x="515.3" y="739.8" transform="rotate(-0 515.3 739.8)">(a)</text>
  </g>
  <g id="text_53">
   <!-- $\alpha_x = 2.49 \pm 0.01$ -->
   <g transform="translate(1643.5 93.4)">
    <text>
     <tspan x="0" y="-0.28125" style="font-style: oblique; font-size: 36px; font-family: 'DejaVu Sans'">α</tspan>
     <tspan x="23.730469" y="5.625" style="font-style: oblique; font-size: 25.2px; font-family: 'DejaVu Sans'">x</tspan>
     <tspan x="46.641797" y="-0.28125" style="font-size: 36px; font-family: 'DejaVu Sans'">=</tspan>
     <tspan x="83.819531" y="-0.28125" style="font-size: 36px; font-family: 'DejaVu Sans'">2</tspan>
     <tspan x="106.723828" y="-0.28125" style="font-size: 36px; font-family: 'DejaVu Sans'">.</tspan>
     <tspan x="118.167187" y="-0.28125" style="font-size: 36px; font-family: 'DejaVu Sans'">4</tspan>
     <tspan x="141.071484" y="-0.28125" style="font-size: 36px; font-family: 'DejaVu Sans'">9</tspan>
     <tspan x="170.989453" y="-0.28125" style="font-size: 36px; font-family: 'DejaVu Sans'">±</tspan>
     <tspan x="208.167188" y="-0.28125" style="font-size: 36px; font-family: 'DejaVu Sans'">0</tspan>
     <tspan x="231.071484" y="-0.28125" style="font-size: 36px; font-family: 'DejaVu Sans'">.</tspan>
     <tspan x="242.514844" y="-0.28125" style="font-size: 36px; font-family: 'DejaVu Sans'">0</tspan>
     <tspan x="265.419141" y="-0.28125" style="font-size: 36px; font-family: 'DejaVu Sans'">1</tspan>
    </text>
   </g>
  </g>
  <g id="text_54">
   <!-- $x_0 = 0.16 \pm 0.00$ -->
   <g transform="translate(1643.5 150.1)">
    <text>
     <tspan x="0" y="-0.28125" style="font-style: oblique; font-size: 36px; font-family: 'DejaVu Sans'">x</tspan>
     <tspan x="21.304688" y="5.625" style="font-size: 25.2px; font-family: 'DejaVu Sans'">0</tspan>
     <tspan x="45.335742" y="-0.28125" style="font-size: 36px; font-family: 'DejaVu Sans'">=</tspan>
     <tspan x="82.513477" y="-0.28125" style="font-size: 36px; font-family: 'DejaVu Sans'">0</tspan>
     <tspan x="105.417773" y="-0.28125" style="font-size: 36px; font-family: 'DejaVu Sans'">.</tspan>
     <tspan x="116.861133" y="-0.28125" style="font-size: 36px; font-family: 'DejaVu Sans'">1</tspan>
     <tspan x="139.76543" y="-0.28125" style="font-size: 36px; font-family: 'DejaVu Sans'">6</tspan>
     <tspan x="169.683398" y="-0.28125" style="font-size: 36px; font-family: 'DejaVu Sans'">±</tspan>
     <tspan x="206.861133" y="-0.28125" style="font-size: 36px; font-family: 'DejaVu Sans'">0</tspan>
     <tspan x="229.76543" y="-0.28125" style="font-size: 36px; font-family: 'DejaVu Sans'">.</tspan>
     <tspan x="241.208789" y="-0.28125" style="font-size: 36px; font-family: 'DejaVu Sans'">0</tspan>
     <tspan x="264.113086" y="-0.28125" style="font-size: 36px; font-family: 'DejaVu Sans'">0</tspan>
    </text>
   </g>
  </g>
  <g id="text_55">
   <!-- $\chi^2_\nu = 1.73$ -->
   <g transform="translate(1258.5 436.6)">
    <text>
     <tspan x="0" y="-0.515625" style="font-style: oblique; font-size: 36px; font-family: 'DejaVu Sans'">χ</tspan>
     <tspan x="22.914687" y="-14.296875" style="font-size: 25.2px; font-family: 'DejaVu Sans'">2</tspan>
     <tspan x="21.304688" y="9.328125" style="font-style: oblique; font-size: 25.2px; font-family: 'DejaVu Sans'">ν</tspan>
     <tspan x="46.945742" y="-0.515625" style="font-size: 36px; font-family: 'DejaVu Sans'">=</tspan>
     <tspan x="84.123477" y="-0.515625" style="font-size: 36px; font-family: 'DejaVu Sans'">1</tspan>
     <tspan x="107.027773" y="-0.515625" style="font-size: 36px; font-family: 'DejaVu Sans'">.</tspan>
     <tspan x="115.721133" y="-0.515625" style="font-size: 36px; font-family: 'DejaVu Sans'">7</tspan>
     <tspan x="138.62543" y="-0.515625" style="font-size: 36px; font-family: 'DejaVu Sans'">3</tspan>
    </text>
   </g>
  </g>
  <g id="text_56">
   <text style="font-size: 36px; font-family: 'Liberation Serif'; text-anchor: middle" x="1554.5" y="739.8" transform="rotate(-0 1554.5 739.8)">(b)</text>
  </g>
  <g id="text_57">
   <!-- $\alpha_x = 2.36 \pm 0.12$ -->
   <g transform="translate(604.6 897.1)">
    <text>
     <tspan x="0" y="-0.28125" style="font-style: oblique; font-size: 36px; font-family: 'DejaVu Sans'">α</tspan>
     <tspan x="23.730469" y="5.625" style="font-style: oblique; font-size: 25.2px; font-family: 'DejaVu Sans'">x</tspan>
     <tspan x="46.641797" y="-0.28125" style="font-size: 36px; font-family: 'DejaVu Sans'">=</tspan>
     <tspan x="83.819531" y="-0.28125" style="font-size: 36px; font-family: 'DejaVu Sans'">2</tspan>
     <tspan x="106.723828" y="-0.28125" style="font-size: 36px; font-family: 'DejaVu Sans'">.</tspan>
     <tspan x="118.167187" y="-0.28125" style="font-size: 36px; font-family: 'DejaVu Sans'">3</tspan>
     <tspan x="141.071484" y="-0.28125" style="font-size: 36px; font-family: 'DejaVu Sans'">6</tspan>
     <tspan x="170.989453" y="-0.28125" style="font-size: 36px; font-family: 'DejaVu Sans'">±</tspan>
     <tspan x="208.167188" y="-0.28125" style="font-size: 36px; font-family: 'DejaVu Sans'">0</tspan>
     <tspan x="231.071484" y="-0.28125" style="font-size: 36px; font-family: 'DejaVu Sans'">.</tspan>
     <tspan x="242.514844" y="-0.28125" style="font-size: 36px; font-family: 'DejaVu Sans'">1</tspan>
     <tspan x="265.419141" y="-0.28125" style="font-size: 36px; font-family: 'DejaVu Sans'">2</tspan>
    </text>
   </g>
  </g>
  <g id="text_58">
   <!-- $x_0 = 0.11 \pm 0.02$ -->
   <g transform="translate(604.6 953.8)">
    <text>
     <tspan x="0" y="-0.28125" style="font-style: oblique; font-size: 36px; font-family: 'DejaVu Sans'">x</tspan>
     <tspan x="21.304688" y="5.625" style="font-size: 25.2px; font-family: 'DejaVu Sans'">0</tspan>
     <tspan x="45.335742" y="-0.28125" style="font-size: 36px; font-family: 'DejaVu Sans'">=</tspan>
     <tspan x="82.513477" y="-0.28125" style="font-size: 36px; font-family: 'DejaVu Sans'">0</tspan>
     <tspan x="105.417773" y="-0.28125" style="font-size: 36px; font-family: 'DejaVu Sans'">.</tspan>
     <tspan x="116.861133" y="-0.28125" style="font-size: 36px; font-family: 'DejaVu Sans'">1</tspan>
     <tspan x="139.76543" y="-0.28125" style="font-size: 36px; font-family: 'DejaVu Sans'">1</tspan>
     <tspan x="169.683398" y="-0.28125" style="font-size: 36px; font-family: 'DejaVu Sans'">±</tspan>
     <tspan x="206.861133" y="-0.28125" style="font-size: 36px; font-family: 'DejaVu Sans'">0</tspan>
     <tspan x="229.76543" y="-0.28125" style="font-size: 36px; font-family: 'DejaVu Sans'">.</tspan>
     <tspan x="241.208789" y="-0.28125" style="font-size: 36px; font-family: 'DejaVu Sans'">0</tspan>
     <tspan x="264.113086" y="-0.28125" style="font-size: 36px; font-family: 'DejaVu Sans'">2</tspan>
    </text>
   </g>
  </g>
  <g id="text_59">
   <!-- $\chi^2_\nu = 0.42$ -->
   <g transform="translate(219.6 1240.3)">
    <text>
     <tspan x="0" y="-0.515625" style="font-style: oblique; font-size: 36px; font-family: 'DejaVu Sans'">χ</tspan>
     <tspan x="22.914687" y="-14.296875" style="font-size: 25.2px; font-family: 'DejaVu Sans'">2</tspan>
     <tspan x="21.304688" y="9.328125" style="font-style: oblique; font-size: 25.2px; font-family: 'DejaVu Sans'">ν</tspan>
     <tspan x="46.945742" y="-0.515625" style="font-size: 36px; font-family: 'DejaVu Sans'">=</tspan>
     <tspan x="84.123477" y="-0.515625" style="font-size: 36px; font-family: 'DejaVu Sans'">0</tspan>
     <tspan x="107.027773" y="-0.515625" style="font-size: 36px; font-family: 'DejaVu Sans'">.</tspan>
     <tspan x="118.471133" y="-0.515625" style="font-size: 36px; font-family: 'DejaVu Sans'">4</tspan>
     <tspan x="141.37543" y="-0.515625" style="font-size: 36px; font-family: 'DejaVu Sans'">2</tspan>
    </text>
   </g>
  </g>
  <g id="text_60">
   <text style="font-size: 36px; font-family: 'Liberation Serif'; text-anchor: middle" x="515.3" y="1543.55" transform="rotate(-0 515.3 1543.55)">(c)</text>
  </g>
  <g id="text_61">
   <!-- $\alpha_x = 2.43 \pm 0.09$ -->
   <g transform="translate(1643.5 897.1)">
    <text>
     <tspan x="0" y="-0.28125" style="font-style: oblique; font-size: 36px; font-family: 'DejaVu Sans'">α</tspan>
     <tspan x="23.730469" y="5.625" style="font-style: oblique; font-size: 25.2px; font-family: 'DejaVu Sans'">x</tspan>
     <tspan x="46.641797" y="-0.28125" style="font-size: 36px; font-family: 'DejaVu Sans'">=</tspan>
     <tspan x="83.819531" y="-0.28125" style="font-size: 36px; font-family: 'DejaVu Sans'">2</tspan>
     <tspan x="106.723828" y="-0.28125" style="font-size: 36px; font-family: 'DejaVu Sans'">.</tspan>
     <tspan x="118.167187" y="-0.28125" style="font-size: 36px; font-family: 'DejaVu Sans'">4</tspan>
     <tspan x="141.071484" y="-0.28125" style="font-size: 36px; font-family: 'DejaVu Sans'">3</tspan>
     <tspan x="170.989453" y="-0.28125" style="font-size: 36px; font-family: 'DejaVu Sans'">±</tspan>
     <tspan x="208.167188" y="-0.28125" style="font-size: 36px; font-family: 'DejaVu Sans'">0</tspan>
     <tspan x="231.071484" y="-0.28125" style="font-size: 36px; font-family: 'DejaVu Sans'">.</tspan>
     <tspan x="242.514844" y="-0.28125" style="font-size: 36px; font-family: 'DejaVu Sans'">0</tspan>
     <tspan x="265.419141" y="-0.28125" style="font-size: 36px; font-family: 'DejaVu Sans'">9</tspan>
    </text>
   </g>
  </g>
  <g id="text_62">
   <!-- $x_0 = 0.26 \pm 0.03$ -->
   <g transform="translate(1643.5 953.8)">
    <text>
     <tspan x="0" y="-0.28125" style="font-style: oblique; font-size: 36px; font-family: 'DejaVu Sans'">x</tspan>
     <tspan x="21.304688" y="5.625" style="font-size: 25.2px; font-family: 'DejaVu Sans'">0</tspan>
     <tspan x="45.335742" y="-0.28125" style="font-size: 36px; font-family: 'DejaVu Sans'">=</tspan>
     <tspan x="82.513477" y="-0.28125" style="font-size: 36px; font-family: 'DejaVu Sans'">0</tspan>
     <tspan x="105.417773" y="-0.28125" style="font-size: 36px; font-family: 'DejaVu Sans'">.</tspan>
     <tspan x="114.861133" y="-0.28125" style="font-size: 36px; font-family: 'DejaVu Sans'">2</tspan>
     <tspan x="137.76543" y="-0.28125" style="font-size: 36px; font-family: 'DejaVu Sans'">6</tspan>
     <tspan x="167.683398" y="-0.28125" style="font-size: 36px; font-family: 'DejaVu Sans'">±</tspan>
     <tspan x="204.861133" y="-0.28125" style="font-size: 36px; font-family: 'DejaVu Sans'">0</tspan>
     <tspan x="227.76543" y="-0.28125" style="font-size: 36px; font-family: 'DejaVu Sans'">.</tspan>
     <tspan x="239.208789" y="-0.28125" style="font-size: 36px; font-family: 'DejaVu Sans'">0</tspan>
     <tspan x="262.113086" y="-0.28125" style="font-size: 36px; font-family: 'DejaVu Sans'">3</tspan>
    </text>
   </g>
  </g>
  <g id="text_63">
   <!-- $\chi^2_\nu = 0.93$ -->
   <g transform="translate(1258.5 1240.3)">
    <text>
     <tspan x="0" y="-0.515625" style="font-style: oblique; font-size: 36px; font-family: 'DejaVu Sans'">χ</tspan>
     <tspan x="22.914687" y="-14.296875" style="font-size: 25.2px; font-family: 'DejaVu Sans'">2</tspan>
     <tspan x="21.304688" y="9.328125" style="font-style: oblique; font-size: 25.2px; font-family: 'DejaVu Sans'">ν</tspan>
     <tspan x="46.945742" y="-0.515625" style="font-size: 36px; font-family: 'DejaVu Sans'">=</tspan>
     <tspan x="84.123477" y="-0.515625" style="font-size: 36px; font-family: 'DejaVu Sans'">0</tspan>
     <tspan x="107.027773" y="-0.515625" style="font-size: 36px; font-family: 'DejaVu Sans'">.</tspan>
     <tspan x="118.471133" y="-0.515625" style="font-size: 36px; font-family: 'DejaVu Sans'">9</tspan>
     <tspan x="141.37543" y="-0.515625" style="font-size: 36px; font-family: 'DejaVu Sans'">3</tspan>
    </text>
   </g>
  </g>
  <g id="text_64">
   <text style="font-size: 36px; font-family: 'Liberation Serif'; text-anchor: middle" x="1554.5" y="1543.55" transform="rotate(-0 1554.5 1543.55)">(d)</text>
  </g>
  <g id="text_65">
   <!-- $\alpha_x = 2.43 \pm 0.09$ -->
   <g transform="translate(604.6 1700.9)">
    <text>
     <tspan x="0" y="-0.28125" style="font-style: oblique; font-size: 36px; font-family: 'DejaVu Sans'">α</tspan>
     <tspan x="23.730469" y="5.625" style="font-style: oblique; font-size: 25.2px; font-family: 'DejaVu Sans'">x</tspan>
     <tspan x="46.641797" y="-0.28125" style="font-size: 36px; font-family: 'DejaVu Sans'">=</tspan>
     <tspan x="83.819531" y="-0.28125" style="font-size: 36px; font-family: 'DejaVu Sans'">2</tspan>
     <tspan x="106.723828" y="-0.28125" style="font-size: 36px; font-family: 'DejaVu Sans'">.</tspan>
     <tspan x="118.167187" y="-0.28125" style="font-size: 36px; font-family: 'DejaVu Sans'">4</tspan>
     <tspan x="141.071484" y="-0.28125" style="font-size: 36px; font-family: 'DejaVu Sans'">3</tspan>
     <tspan x="170.989453" y="-0.28125" style="font-size: 36px; font-family: 'DejaVu Sans'">±</tspan>
     <tspan x="208.167188" y="-0.28125" style="font-size: 36px; font-family: 'DejaVu Sans'">0</tspan>
     <tspan x="231.071484" y="-0.28125" style="font-size: 36px; font-family: 'DejaVu Sans'">.</tspan>
     <tspan x="242.514844" y="-0.28125" style="font-size: 36px; font-family: 'DejaVu Sans'">0</tspan>
     <tspan x="265.419141" y="-0.28125" style="font-size: 36px; font-family: 'DejaVu Sans'">9</tspan>
    </text>
   </g>
  </g>
  <g id="text_66">
   <!-- $x_0 = 0.17 \pm 0.03$ -->
   <g transform="translate(604.6 1757.6)">
    <text>
     <tspan x="0" y="-0.28125" style="font-style: oblique; font-size: 36px; font-family: 'DejaVu Sans'">x</tspan>
     <tspan x="21.304688" y="5.625" style="font-size: 25.2px; font-family: 'DejaVu Sans'">0</tspan>
     <tspan x="45.335742" y="-0.28125" style="font-size: 36px; font-family: 'DejaVu Sans'">=</tspan>
     <tspan x="82.513477" y="-0.28125" style="font-size: 36px; font-family: 'DejaVu Sans'">0</tspan>
     <tspan x="105.417773" y="-0.28125" style="font-size: 36px; font-family: 'DejaVu Sans'">.</tspan>
     <tspan x="116.861133" y="-0.28125" style="font-size: 36px; font-family: 'DejaVu Sans'">1</tspan>
     <tspan x="139.76543" y="-0.28125" style="font-size: 36px; font-family: 'DejaVu Sans'">7</tspan>
     <tspan x="169.683398" y="-0.28125" style="font-size: 36px; font-family: 'DejaVu Sans'">±</tspan>
     <tspan x="206.861133" y="-0.28125" style="font-size: 36px; font-family: 'DejaVu Sans'">0</tspan>
     <tspan x="229.76543" y="-0.28125" style="font-size: 36px; font-family: 'DejaVu Sans'">.</tspan>
     <tspan x="241.208789" y="-0.28125" style="font-size: 36px; font-family: 'DejaVu Sans'">0</tspan>
     <tspan x="264.113086" y="-0.28125" style="font-size: 36px; font-family: 'DejaVu Sans'">3</tspan>
    </text>
   </g>
  </g>
  <g id="text_67">
   <!-- $\chi^2_\nu = 0.41$ -->
   <g transform="translate(219.6 2044.1)">
    <text>
     <tspan x="0" y="-0.515625" style="font-style: oblique; font-size: 36px; font-family: 'DejaVu Sans'">χ</tspan>
     <tspan x="22.914687" y="-14.296875" style="font-size: 25.2px; font-family: 'DejaVu Sans'">2</tspan>
     <tspan x="21.304688" y="9.328125" style="font-style: oblique; font-size: 25.2px; font-family: 'DejaVu Sans'">ν</tspan>
     <tspan x="46.945742" y="-0.515625" style="font-size: 36px; font-family: 'DejaVu Sans'">=</tspan>
     <tspan x="84.123477" y="-0.515625" style="font-size: 36px; font-family: 'DejaVu Sans'">0</tspan>
     <tspan x="107.027773" y="-0.515625" style="font-size: 36px; font-family: 'DejaVu Sans'">.</tspan>
     <tspan x="118.471133" y="-0.515625" style="font-size: 36px; font-family: 'DejaVu Sans'">4</tspan>
     <tspan x="141.37543" y="-0.515625" style="font-size: 36px; font-family: 'DejaVu Sans'">1</tspan>
    </text>
   </g>
  </g>
  <g id="text_68">
   <text style="font-size: 36px; font-family: 'Liberation Serif'; text-anchor: middle" x="515.3" y="2347.3" transform="rotate(-0 515.3 2347.3)">(e)</text>
  </g>
  <g id="text_69">
   <!-- $\alpha_x = 2.36 \pm 0.16$ -->
   <g transform="translate(1643.5 1700.9)">
    <text>
     <tspan x="0" y="-0.28125" style="font-style: oblique; font-size: 36px; font-family: 'DejaVu Sans'">α</tspan>
     <tspan x="23.730469" y="5.625" style="font-style: oblique; font-size: 25.2px; font-family: 'DejaVu Sans'">x</tspan>
     <tspan x="46.641797" y="-0.28125" style="font-size: 36px; font-family: 'DejaVu Sans'">=</tspan>
     <tspan x="83.819531" y="-0.28125" style="font-size: 36px; font-family: 'DejaVu Sans'">2</tspan>
     <tspan x="106.723828" y="-0.28125" style="font-size: 36px; font-family: 'DejaVu Sans'">.</tspan>
     <tspan x="118.167187" y="-0.28125" style="font-size: 36px; font-family: 'DejaVu Sans'">3</tspan>
     <tspan x="141.071484" y="-0.28125" style="font-size: 36px; font-family: 'DejaVu Sans'">6</tspan>
     <tspan x="170.989453" y="-0.28125" style="font-size: 36px; font-family: 'DejaVu Sans'">±</tspan>
     <tspan x="208.167188" y="-0.28125" style="font-size: 36px; font-family: 'DejaVu Sans'">0</tspan>
     <tspan x="231.071484" y="-0.28125" style="font-size: 36px; font-family: 'DejaVu Sans'">.</tspan>
     <tspan x="242.514844" y="-0.28125" style="font-size: 36px; font-family: 'DejaVu Sans'">1</tspan>
     <tspan x="265.419141" y="-0.28125" style="font-size: 36px; font-family: 'DejaVu Sans'">6</tspan>
    </text>
   </g>
  </g>
  <g id="text_70">
   <!-- $x_0 = 0.13 \pm 0.03$ -->
   <g transform="translate(1643.5 1757.6)">
    <text>
     <tspan x="0" y="-0.28125" style="font-style: oblique; font-size: 36px; font-family: 'DejaVu Sans'">x</tspan>
     <tspan x="21.304688" y="5.625" style="font-size: 25.2px; font-family: 'DejaVu Sans'">0</tspan>
     <tspan x="45.335742" y="-0.28125" style="font-size: 36px; font-family: 'DejaVu Sans'">=</tspan>
     <tspan x="82.513477" y="-0.28125" style="font-size: 36px; font-family: 'DejaVu Sans'">0</tspan>
     <tspan x="105.417773" y="-0.28125" style="font-size: 36px; font-family: 'DejaVu Sans'">.</tspan>
     <tspan x="116.861133" y="-0.28125" style="font-size: 36px; font-family: 'DejaVu Sans'">1</tspan>
     <tspan x="139.76543" y="-0.28125" style="font-size: 36px; font-family: 'DejaVu Sans'">3</tspan>
     <tspan x="169.683398" y="-0.28125" style="font-size: 36px; font-family: 'DejaVu Sans'">±</tspan>
     <tspan x="206.861133" y="-0.28125" style="font-size: 36px; font-family: 'DejaVu Sans'">0</tspan>
     <tspan x="229.76543" y="-0.28125" style="font-size: 36px; font-family: 'DejaVu Sans'">.</tspan>
     <tspan x="241.208789" y="-0.28125" style="font-size: 36px; font-family: 'DejaVu Sans'">0</tspan>
     <tspan x="264.113086" y="-0.28125" style="font-size: 36px; font-family: 'DejaVu Sans'">3</tspan>
    </text>
   </g>
  </g>
  <g id="text_71">
   <!-- $\chi^2_\nu = 1.10$ -->
   <g transform="translate(1258.5 2044.1)">
    <text>
     <tspan x="0" y="-0.515625" style="font-style: oblique; font-size: 36px; font-family: 'DejaVu Sans'">χ</tspan>
     <tspan x="22.914687" y="-14.296875" style="font-size: 25.2px; font-family: 'DejaVu Sans'">2</tspan>
     <tspan x="21.304688" y="9.328125" style="font-style: oblique; font-size: 25.2px; font-family: 'DejaVu Sans'">ν</tspan>
     <tspan x="46.945742" y="-0.515625" style="font-size: 36px; font-family: 'DejaVu Sans'">=</tspan>
     <tspan x="84.123477" y="-0.515625" style="font-size: 36px; font-family: 'DejaVu Sans'">1</tspan>
     <tspan x="107.027773" y="-0.515625" style="font-size: 36px; font-family: 'DejaVu Sans'">.</tspan>
     <tspan x="118.471133" y="-0.515625" style="font-size: 36px; font-family: 'DejaVu Sans'">1</tspan>
     <tspan x="141.37543" y="-0.515625" style="font-size: 36px; font-family: 'DejaVu Sans'">0</tspan>
    </text>
   </g>
  </g>
  <g id="text_72">
   <text style="font-size: 36px; font-family: 'Liberation Serif'; text-anchor: middle" x="1554.5" y="2347.3" transform="rotate(-0 1554.5 2347.3)">(f)</text>
  </g>
 </g>
 <defs>
  <clipPath id="p03a6a565fb">
   <rect x="134.1" y="27.5" width="855.8" height="570.6"/>
  </clipPath>
  <clipPath id="p9560903c2c">
   <rect x="1173" y="27.5" width="855.9" height="570.6"/>
  </clipPath>
  <clipPath id="p826fa11769">
   <rect x="134.1" y="831.2" width="855.8" height="570.6"/>
  </clipPath>
  <clipPath id="p4862ee702b">
   <rect x="1173" y="831.2" width="855.9" height="570.6"/>
  </clipPath>
  <clipPath id="pfb617a9fd6">
   <rect x="134.1" y="1635" width="855.8" height="570.6"/>
  </clipPath>
  <clipPath id="pbdd5395c4d">
   <rect x="1173" y="1635" width="855.9" height="570.6"/>
  </clipPath>
 </defs>
</svg>

</body></html>
